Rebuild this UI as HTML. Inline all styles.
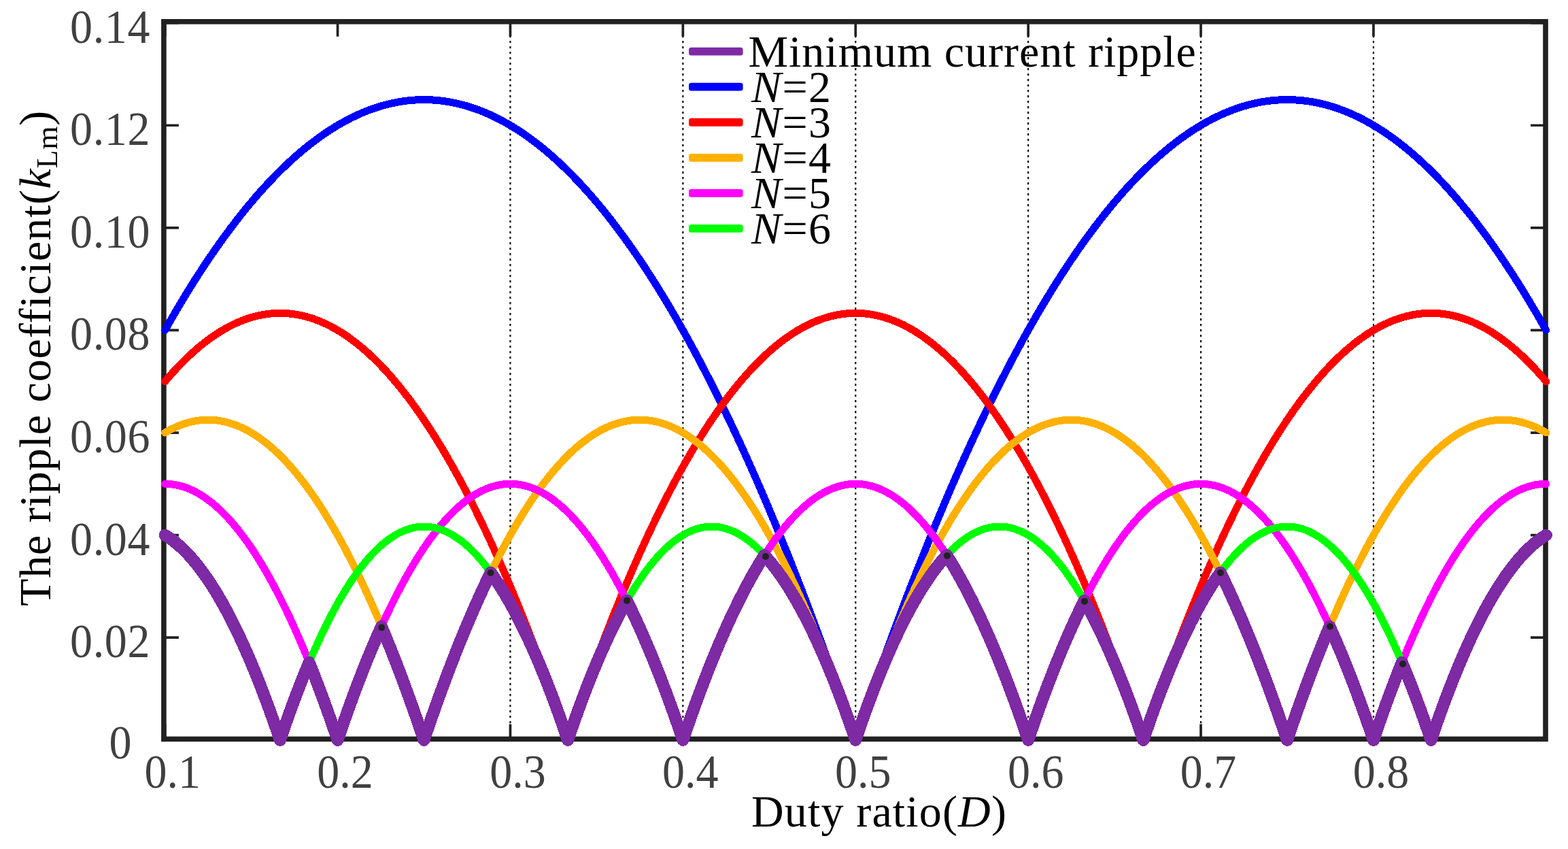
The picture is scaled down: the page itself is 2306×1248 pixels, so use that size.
<!DOCTYPE html><html><head><meta charset="utf-8"><style>html,body{margin:0;padding:0;background:#fff;}svg{display:block;}text{font-family:"Liberation Serif","Times New Roman",serif;}</style></head><body>
<svg width="2306" height="1248" viewBox="0 0 2306 1248">
<rect width="2306" height="1248" fill="#fff"/>
<line x1="750.45" y1="36" x2="750.45" y2="1083" stroke="#111" stroke-width="2.2" stroke-dasharray="3.2 4.8"/>
<line x1="1004.35" y1="36" x2="1004.35" y2="1083" stroke="#111" stroke-width="2.2" stroke-dasharray="3.2 4.8"/>
<line x1="1258.25" y1="36" x2="1258.25" y2="1083" stroke="#111" stroke-width="2.2" stroke-dasharray="3.2 4.8"/>
<line x1="1512.15" y1="36" x2="1512.15" y2="1083" stroke="#111" stroke-width="2.2" stroke-dasharray="3.2 4.8"/>
<line x1="1766.05" y1="36" x2="1766.05" y2="1083" stroke="#111" stroke-width="2.2" stroke-dasharray="3.2 4.8"/>
<line x1="2019.95" y1="36" x2="2019.95" y2="1083" stroke="#111" stroke-width="2.2" stroke-dasharray="3.2 4.8"/>
<rect x="240.9" y="31.8" width="2032.1" height="1054.6" fill="none" stroke="#212121" stroke-width="7.6"/>
<path d="M240.9,1087.8 H262.9 M2273,1087.8 H2251 M240.9,937.21 H262.9 M2273,937.21 H2251 M240.9,786.62 H262.9 M2273,786.62 H2251 M240.9,636.03 H262.9 M2273,636.03 H2251 M240.9,485.44 H262.9 M2273,485.44 H2251 M240.9,334.85 H262.9 M2273,334.85 H2251 M240.9,184.26 H262.9 M2273,184.26 H2251 M240.9,33.67 H262.9 M2273,33.67 H2251 M242.65,1086.4 V1064.4 M242.65,31.8 V53.8 M496.55,1086.4 V1064.4 M496.55,31.8 V53.8 M750.45,1086.4 V1064.4 M750.45,31.8 V53.8 M1004.35,1086.4 V1064.4 M1004.35,31.8 V53.8 M1258.25,1086.4 V1064.4 M1258.25,31.8 V53.8 M1512.15,1086.4 V1064.4 M1512.15,31.8 V53.8 M1766.05,1086.4 V1064.4 M1766.05,31.8 V53.8 M2019.95,1086.4 V1064.4 M2019.95,31.8 V53.8 M2273.85,1086.4 V1064.4 M2273.85,31.8 V53.8" stroke="#212121" stroke-width="3.7" fill="none"/>
<path d="M242.65,485.44 L243.92,483.18 L245.19,480.94 L246.46,478.7 L247.73,476.46 L249,474.24 L250.27,472.02 L251.54,469.81 L252.81,467.61 L254.08,465.42 L255.35,463.23 L256.61,461.05 L257.88,458.88 L259.15,456.71 L260.42,454.55 L261.69,452.4 L262.96,450.26 L264.23,448.13 L265.5,446 L266.77,443.88 L268.04,441.77 L269.31,439.66 L270.58,437.57 L271.85,435.48 L273.12,433.4 L274.39,431.32 L275.66,429.25 L276.93,427.2 L278.2,425.14 L279.47,423.1 L280.74,421.06 L282,419.03 L283.27,417.01 L284.54,415 L285.81,412.99 L287.08,410.99 L288.35,409 L289.62,407.02 L290.89,405.04 L292.16,403.07 L293.43,401.11 L294.7,399.16 L295.97,397.21 L297.24,395.27 L298.51,393.34 L299.78,391.42 L301.05,389.5 L302.32,387.59 L303.59,385.69 L304.86,383.8 L306.13,381.91 L307.39,380.03 L308.66,378.16 L309.93,376.3 L311.2,374.44 L312.47,372.59 L313.74,370.75 L315.01,368.92 L316.28,367.09 L317.55,365.27 L318.82,363.46 L320.09,361.66 L321.36,359.86 L322.63,358.07 L323.9,356.29 L325.17,354.52 L326.44,352.76 L327.71,351 L328.98,349.25 L330.25,347.5 L331.52,345.77 L332.78,344.04 L334.05,342.32 L335.32,340.61 L336.59,338.9 L337.86,337.2 L339.13,335.51 L340.4,333.83 L341.67,332.15 L342.94,330.49 L344.21,328.83 L345.48,327.17 L346.75,325.53 L348.02,323.89 L349.29,322.26 L350.56,320.64 L351.83,319.02 L353.1,317.42 L354.37,315.82 L355.64,314.22 L356.91,312.64 L358.17,311.06 L359.44,309.49 L360.71,307.93 L361.98,306.37 L363.25,304.83 L364.52,303.29 L365.79,301.75 L367.06,300.23 L368.33,298.71 L369.6,297.2 L370.87,295.7 L372.14,294.21 L373.41,292.72 L374.68,291.24 L375.95,289.77 L377.22,288.3 L378.49,286.85 L379.76,285.4 L381.03,283.95 L382.3,282.52 L383.56,281.09 L384.83,279.67 L386.1,278.26 L387.37,276.86 L388.64,275.46 L389.91,274.07 L391.18,272.69 L392.45,271.32 L393.72,269.95 L394.99,268.59 L396.26,267.24 L397.53,265.89 L398.8,264.56 L400.07,263.23 L401.34,261.91 L402.61,260.59 L403.88,259.29 L405.15,257.99 L406.42,256.7 L407.69,255.41 L408.95,254.14 L410.22,252.87 L411.49,251.61 L411.92,251.19 L412.76,250.35 L414.03,249.11 L415.3,247.87 L416.57,246.64 L417.84,245.41 L419.11,244.2 L420.38,242.99 L421.65,241.79 L422.92,240.6 L424.19,239.41 L425.46,238.23 L426.73,237.06 L428,235.9 L429.27,234.74 L430.54,233.59 L431.81,232.45 L433.08,231.32 L434.34,230.19 L435.61,229.08 L436.88,227.96 L438.15,226.86 L439.42,225.77 L440.69,224.68 L441.96,223.6 L443.23,222.52 L444.5,221.46 L445.77,220.4 L447.04,219.35 L448.31,218.31 L449.58,217.27 L450.85,216.25 L452.12,215.23 L453.39,214.21 L454.66,213.21 L455.93,212.21 L457.2,211.22 L458.47,210.24 L459.73,209.26 L461,208.29 L462.27,207.33 L463.54,206.38 L464.81,205.44 L466.08,204.5 L467.35,203.57 L468.62,202.65 L469.89,201.73 L471.16,200.82 L472.43,199.93 L473.7,199.03 L474.97,198.15 L476.24,197.27 L477.51,196.4 L478.78,195.54 L480.05,194.68 L481.32,193.84 L482.59,193 L483.86,192.17 L485.12,191.34 L486.39,190.52 L487.66,189.72 L488.93,188.91 L490.2,188.12 L491.47,187.33 L492.74,186.55 L494.01,185.78 L495.28,185.02 L496.55,184.26 L497.82,183.51 L499.09,182.77 L500.36,182.04 L501.63,181.31 L502.9,180.59 L504.17,179.88 L505.44,179.17 L506.71,178.48 L507.98,177.79 L509.25,177.11 L510.51,176.43 L511.78,175.77 L513.05,175.11 L514.32,174.46 L515.59,173.81 L516.86,173.18 L518.13,172.55 L519.4,171.93 L520.67,171.31 L521.94,170.71 L523.21,170.11 L524.48,169.52 L525.75,168.93 L527.02,168.36 L528.29,167.79 L529.56,167.23 L530.83,166.67 L532.1,166.13 L533.37,165.59 L534.64,165.06 L535.9,164.54 L537.17,164.02 L538.44,163.51 L539.71,163.01 L540.98,162.52 L542.25,162.03 L543.52,161.55 L544.79,161.08 L546.06,160.62 L547.33,160.17 L548.6,159.72 L549.87,159.28 L551.14,158.84 L552.41,158.42 L553.68,158 L554.95,157.59 L556.22,157.19 L557.49,156.79 L558.76,156.4 L560.03,156.02 L561.29,155.65 L562.56,155.29 L563.83,154.93 L565.1,154.58 L566.37,154.24 L567.64,153.9 L568.91,153.57 L570.18,153.25 L571.45,152.94 L572.72,152.64 L573.99,152.34 L575.26,152.05 L576.53,151.77 L577.8,151.49 L579.07,151.22 L580.34,150.96 L581.61,150.71 L582.88,150.47 L584.15,150.23 L585.42,150 L586.68,149.78 L587.95,149.56 L589.22,149.36 L590.49,149.16 L591.76,148.97 L593.03,148.78 L594.3,148.6 L595.57,148.43 L596.84,148.27 L598.11,148.12 L599.38,147.97 L600.65,147.83 L601.92,147.7 L603.19,147.58 L604.46,147.46 L605.73,147.35 L607,147.25 L608.27,147.15 L609.54,147.07 L610.81,146.99 L612.07,146.92 L613.34,146.85 L614.61,146.8 L615.88,146.75 L617.15,146.71 L618.42,146.67 L619.69,146.65 L620.96,146.63 L622.23,146.62 L623.5,146.61 L624.77,146.62 L626.04,146.63 L627.31,146.65 L628.58,146.67 L629.85,146.71 L631.12,146.75 L632.39,146.8 L633.66,146.85 L634.93,146.92 L636.2,146.99 L637.46,147.07 L638.73,147.15 L640,147.25 L641.27,147.35 L642.54,147.46 L643.81,147.58 L645.08,147.7 L646.35,147.83 L647.62,147.97 L648.89,148.12 L650.16,148.27 L651.43,148.43 L652.7,148.6 L653.97,148.78 L655.24,148.97 L656.51,149.16 L657.78,149.36 L659.05,149.56 L660.32,149.78 L661.59,150 L662.85,150.23 L664.12,150.47 L665.39,150.71 L666.66,150.96 L667.93,151.22 L669.2,151.49 L670.47,151.77 L671.74,152.05 L673.01,152.34 L674.28,152.64 L675.55,152.94 L676.82,153.25 L678.09,153.57 L679.36,153.9 L680.63,154.24 L681.9,154.58 L683.17,154.93 L684.44,155.29 L685.71,155.65 L686.98,156.02 L688.24,156.4 L689.51,156.79 L690.78,157.19 L692.05,157.59 L693.32,158 L694.59,158.42 L695.86,158.84 L697.13,159.28 L698.4,159.72 L699.67,160.17 L700.94,160.62 L702.21,161.08 L703.48,161.55 L704.75,162.03 L706.02,162.52 L707.29,163.01 L708.56,163.51 L709.83,164.02 L711.1,164.54 L712.37,165.06 L713.63,165.59 L714.9,166.13 L716.17,166.67 L717.44,167.23 L718.71,167.79 L719.98,168.36 L721.25,168.93 L722.52,169.52 L723.79,170.11 L725.06,170.71 L726.33,171.31 L727.6,171.93 L728.87,172.55 L730.14,173.18 L731.41,173.81 L732.68,174.46 L733.95,175.11 L735.22,175.77 L736.49,176.43 L737.75,177.11 L739.02,177.79 L740.29,178.48 L741.56,179.17 L742.83,179.88 L744.1,180.59 L745.37,181.31 L746.64,182.04 L747.91,182.77 L749.18,183.51 L750.45,184.26 L751.72,185.02 L752.99,185.78 L754.26,186.55 L755.53,187.33 L756.8,188.12 L758.07,188.91 L759.34,189.72 L760.61,190.52 L761.88,191.34 L763.15,192.17 L764.41,193 L765.68,193.84 L766.95,194.68 L768.22,195.54 L769.49,196.4 L770.76,197.27 L772.03,198.15 L773.3,199.03 L774.57,199.93 L775.84,200.82 L777.11,201.73 L778.38,202.65 L779.65,203.57 L780.92,204.5 L782.19,205.44 L783.46,206.38 L784.73,207.33 L786,208.29 L787.27,209.26 L788.54,210.24 L789.8,211.22 L791.07,212.21 L792.34,213.21 L793.61,214.21 L794.88,215.23 L796.15,216.25 L797.42,217.27 L798.69,218.31 L799.96,219.35 L801.23,220.4 L802.5,221.46 L803.77,222.52 L805.04,223.6 L806.31,224.68 L807.58,225.77 L808.85,226.86 L810.12,227.96 L811.39,229.08 L812.66,230.19 L813.93,231.32 L815.19,232.45 L816.46,233.59 L817.73,234.74 L819,235.9 L820.27,237.06 L821.54,238.23 L822.81,239.41 L824.08,240.6 L825.35,241.79 L826.62,242.99 L827.89,244.2 L829.16,245.41 L830.43,246.64 L831.7,247.87 L832.97,249.11 L834.24,250.35 L835.08,251.19 L835.51,251.61 L836.78,252.87 L838.05,254.14 L839.32,255.41 L840.58,256.7 L841.85,257.99 L843.12,259.29 L844.39,260.59 L845.66,261.91 L846.93,263.23 L848.2,264.56 L849.47,265.89 L850.74,267.24 L852.01,268.59 L853.28,269.95 L854.55,271.32 L855.82,272.69 L857.09,274.07 L858.36,275.46 L859.63,276.86 L860.9,278.26 L862.17,279.67 L863.44,281.09 L864.71,282.52 L865.97,283.95 L867.24,285.4 L868.51,286.85 L869.78,288.3 L871.05,289.77 L872.32,291.24 L873.59,292.72 L874.86,294.21 L876.13,295.7 L877.4,297.2 L878.67,298.71 L879.94,300.23 L881.21,301.75 L882.48,303.29 L883.75,304.83 L885.02,306.37 L886.29,307.93 L887.56,309.49 L888.83,311.06 L890.1,312.64 L891.36,314.22 L892.63,315.82 L893.9,317.42 L895.17,319.02 L896.44,320.64 L897.71,322.26 L898.98,323.89 L900.25,325.53 L901.52,327.17 L902.79,328.83 L904.06,330.49 L905.33,332.15 L906.6,333.83 L907.87,335.51 L909.14,337.2 L910.41,338.9 L911.68,340.61 L912.95,342.32 L914.22,344.04 L915.49,345.77 L916.75,347.5 L918.02,349.25 L919.29,351 L920.56,352.76 L921.83,354.52 L923.1,356.29 L924.37,358.07 L925.64,359.86 L926.91,361.66 L928.18,363.46 L929.45,365.27 L930.72,367.09 L931.99,368.92 L933.26,370.75 L934.53,372.59 L935.8,374.44 L937.07,376.3 L938.34,378.16 L939.61,380.03 L940.88,381.91 L942.14,383.8 L943.41,385.69 L944.68,387.59 L945.95,389.5 L947.22,391.42 L948.49,393.34 L949.76,395.27 L951.03,397.21 L952.3,399.16 L953.57,401.11 L954.84,403.07 L956.11,405.04 L957.38,407.02 L958.65,409 L959.92,410.99 L961.19,412.99 L962.46,415 L963.73,417.01 L965,419.03 L966.27,421.06 L967.53,423.1 L968.8,425.14 L970.07,427.2 L971.34,429.25 L972.61,431.32 L973.88,433.4 L975.15,435.48 L976.42,437.57 L977.69,439.66 L978.96,441.77 L980.23,443.88 L981.5,446 L982.77,448.13 L984.04,450.26 L985.31,452.4 L986.58,454.55 L987.85,456.71 L989.12,458.88 L990.39,461.05 L991.66,463.23 L992.92,465.42 L994.19,467.61 L995.46,469.81 L996.73,472.02 L998,474.24 L999.27,476.46 L1000.54,478.7 L1001.81,480.94 L1003.08,483.18 L1004.35,485.44 L1005.62,487.7 L1006.89,489.97 L1008.16,492.25 L1009.43,494.54 L1010.7,496.83 L1011.97,499.13 L1013.24,501.44 L1014.51,503.75 L1015.78,506.07 L1017.05,508.4 L1018.31,510.74 L1019.58,513.09 L1020.85,515.44 L1022.12,517.8 L1023.39,520.17 L1024.66,522.55 L1025.93,524.93 L1027.2,527.32 L1028.47,529.72 L1029.74,532.12 L1031.01,534.54 L1032.28,536.96 L1033.55,539.39 L1034.82,541.82 L1036.09,544.26 L1037.36,546.72 L1038.63,549.17 L1039.9,551.64 L1041.17,554.11 L1042.43,556.59 L1043.7,559.08 L1044.97,561.58 L1046.24,564.08 L1047.51,566.59 L1048.78,569.11 L1050.05,571.64 L1051.32,574.17 L1052.59,576.71 L1053.86,579.26 L1055.13,581.82 L1056.4,584.38 L1057.67,586.95 L1058.94,589.53 L1060.21,592.12 L1061.48,594.71 L1062.75,597.31 L1064.02,599.92 L1065.29,602.54 L1066.56,605.16 L1067.83,607.79 L1069.09,610.43 L1070.36,613.08 L1071.63,615.73 L1072.9,618.4 L1074.17,621.07 L1075.44,623.74 L1076.71,626.43 L1077.98,629.12 L1079.25,631.82 L1080.52,634.52 L1081.79,637.24 L1083.06,639.96 L1084.33,642.69 L1085.6,645.43 L1086.87,648.17 L1088.14,650.92 L1089.41,653.68 L1090.68,656.45 L1091.95,659.22 L1093.22,662.01 L1094.48,664.8 L1095.75,667.59 L1097.02,670.4 L1098.29,673.21 L1099.56,676.03 L1100.83,678.86 L1102.1,681.69 L1103.37,684.54 L1104.64,687.38 L1105.91,690.24 L1107.18,693.11 L1108.45,695.98 L1109.72,698.86 L1110.99,701.75 L1112.26,704.64 L1113.53,707.55 L1114.8,710.46 L1116.07,713.37 L1117.34,716.3 L1118.61,719.23 L1119.87,722.17 L1121.14,725.12 L1122.41,728.07 L1123.68,731.04 L1124.95,734.01 L1126.22,736.99 L1127.49,739.97 L1128.76,742.96 L1130.03,745.96 L1131.3,748.97 L1132.57,751.99 L1133.84,755.01 L1135.11,758.04 L1136.38,761.08 L1137.65,764.13 L1138.92,767.18 L1140.19,770.24 L1141.46,773.31 L1142.73,776.38 L1144,779.47 L1145.26,782.56 L1146.53,785.66 L1147.8,788.76 L1149.07,791.88 L1150.34,795 L1151.61,798.13 L1152.88,801.26 L1154.15,804.4 L1155.42,807.56 L1156.69,810.71 L1157.96,813.88 L1159.23,817.05 L1160.5,820.24 L1161.77,823.42 L1163.04,826.62 L1164.31,829.82 L1165.58,833.04 L1166.85,836.25 L1168.12,839.48 L1169.39,842.71 L1170.65,845.96 L1171.92,849.21 L1173.19,852.46 L1174.46,855.73 L1175.73,859 L1177,862.28 L1178.27,865.56 L1179.54,868.86 L1180.81,872.16 L1182.08,875.47 L1183.35,878.78 L1184.62,882.11 L1185.89,885.44 L1187.16,888.78 L1188.43,892.13 L1189.7,895.48 L1190.97,898.84 L1192.24,902.21 L1193.51,905.59 L1194.78,908.97 L1196.04,912.37 L1197.31,915.77 L1198.58,919.17 L1199.85,922.59 L1201.12,926.01 L1202.39,929.44 L1203.66,932.88 L1204.93,936.32 L1206.2,939.77 L1207.47,943.23 L1208.74,946.7 L1210.01,950.18 L1211.28,953.66 L1212.55,957.15 L1213.82,960.65 L1215.09,964.15 L1216.36,967.66 L1217.63,971.18 L1218.9,974.71 L1220.16,978.25 L1221.43,981.79 L1222.7,985.34 L1223.97,988.9 L1225.24,992.46 L1226.51,996.03 L1227.78,999.61 L1229.05,1003.2 L1230.32,1006.8 L1231.59,1010.4 L1232.86,1014.01 L1234.13,1017.63 L1235.4,1021.25 L1236.67,1024.89 L1237.94,1028.53 L1239.21,1032.18 L1240.48,1035.83 L1241.75,1039.49 L1243.02,1043.17 L1244.29,1046.84 L1245.56,1050.53 L1246.82,1054.22 L1248.09,1057.92 L1249.36,1061.63 L1250.63,1065.35 L1251.9,1069.07 L1253.17,1072.8 L1254.44,1076.54 L1255.71,1080.29 L1256.98,1084.04 L1258.25,1087.8 L1259.52,1084.04 L1260.79,1080.29 L1262.06,1076.54 L1263.33,1072.8 L1264.6,1069.07 L1265.87,1065.35 L1267.14,1061.63 L1268.41,1057.92 L1269.68,1054.22 L1270.95,1050.53 L1272.21,1046.84 L1273.48,1043.17 L1274.75,1039.49 L1276.02,1035.83 L1277.29,1032.18 L1278.56,1028.53 L1279.83,1024.89 L1281.1,1021.25 L1282.37,1017.63 L1283.64,1014.01 L1284.91,1010.4 L1286.18,1006.8 L1287.45,1003.2 L1288.72,999.61 L1289.99,996.03 L1291.26,992.46 L1292.53,988.9 L1293.8,985.34 L1295.07,981.79 L1296.34,978.25 L1297.6,974.71 L1298.87,971.18 L1300.14,967.66 L1301.41,964.15 L1302.68,960.65 L1303.95,957.15 L1305.22,953.66 L1306.49,950.18 L1307.76,946.7 L1309.03,943.23 L1310.3,939.77 L1311.57,936.32 L1312.84,932.88 L1314.11,929.44 L1315.38,926.01 L1316.65,922.59 L1317.92,919.17 L1319.19,915.77 L1320.46,912.37 L1321.73,908.97 L1322.99,905.59 L1324.26,902.21 L1325.53,898.84 L1326.8,895.48 L1328.07,892.13 L1329.34,888.78 L1330.61,885.44 L1331.88,882.11 L1333.15,878.78 L1334.42,875.47 L1335.69,872.16 L1336.96,868.86 L1338.23,865.56 L1339.5,862.28 L1340.77,859 L1342.04,855.73 L1343.31,852.46 L1344.58,849.21 L1345.85,845.96 L1347.12,842.71 L1348.38,839.48 L1349.65,836.25 L1350.92,833.04 L1352.19,829.82 L1353.46,826.62 L1354.73,823.42 L1356,820.24 L1357.27,817.05 L1358.54,813.88 L1359.81,810.71 L1361.08,807.56 L1362.35,804.4 L1363.62,801.26 L1364.89,798.13 L1366.16,795 L1367.43,791.88 L1368.7,788.76 L1369.97,785.66 L1371.24,782.56 L1372.51,779.47 L1373.77,776.38 L1375.04,773.31 L1376.31,770.24 L1377.58,767.18 L1378.85,764.13 L1380.12,761.08 L1381.39,758.04 L1382.66,755.01 L1383.93,751.99 L1385.2,748.97 L1386.47,745.96 L1387.74,742.96 L1389.01,739.97 L1390.28,736.99 L1391.55,734.01 L1392.82,731.04 L1394.09,728.07 L1395.36,725.12 L1396.63,722.17 L1397.9,719.23 L1399.16,716.3 L1400.43,713.37 L1401.7,710.46 L1402.97,707.55 L1404.24,704.64 L1405.51,701.75 L1406.78,698.86 L1408.05,695.98 L1409.32,693.11 L1410.59,690.24 L1411.86,687.38 L1413.13,684.54 L1414.4,681.69 L1415.67,678.86 L1416.94,676.03 L1418.21,673.21 L1419.48,670.4 L1420.75,667.59 L1422.02,664.8 L1423.28,662.01 L1424.55,659.22 L1425.82,656.45 L1427.09,653.68 L1428.36,650.92 L1429.63,648.17 L1430.9,645.43 L1432.17,642.69 L1433.44,639.96 L1434.71,637.24 L1435.98,634.52 L1437.25,631.82 L1438.52,629.12 L1439.79,626.43 L1441.06,623.74 L1442.33,621.07 L1443.6,618.4 L1444.87,615.73 L1446.14,613.08 L1447.41,610.43 L1448.67,607.79 L1449.94,605.16 L1451.21,602.54 L1452.48,599.92 L1453.75,597.31 L1455.02,594.71 L1456.29,592.12 L1457.56,589.53 L1458.83,586.95 L1460.1,584.38 L1461.37,581.82 L1462.64,579.26 L1463.91,576.71 L1465.18,574.17 L1466.45,571.64 L1467.72,569.11 L1468.99,566.59 L1470.26,564.08 L1471.53,561.58 L1472.8,559.08 L1474.07,556.59 L1475.33,554.11 L1476.6,551.64 L1477.87,549.17 L1479.14,546.72 L1480.41,544.26 L1481.68,541.82 L1482.95,539.39 L1484.22,536.96 L1485.49,534.54 L1486.76,532.12 L1488.03,529.72 L1489.3,527.32 L1490.57,524.93 L1491.84,522.55 L1493.11,520.17 L1494.38,517.8 L1495.65,515.44 L1496.92,513.09 L1498.19,510.74 L1499.45,508.4 L1500.72,506.07 L1501.99,503.75 L1503.26,501.44 L1504.53,499.13 L1505.8,496.83 L1507.07,494.54 L1508.34,492.25 L1509.61,489.97 L1510.88,487.7 L1512.15,485.44 L1513.42,483.18 L1514.69,480.94 L1515.96,478.7 L1517.23,476.46 L1518.5,474.24 L1519.77,472.02 L1521.04,469.81 L1522.31,467.61 L1523.58,465.42 L1524.85,463.23 L1526.11,461.05 L1527.38,458.88 L1528.65,456.71 L1529.92,454.55 L1531.19,452.4 L1532.46,450.26 L1533.73,448.13 L1535,446 L1536.27,443.88 L1537.54,441.77 L1538.81,439.66 L1540.08,437.57 L1541.35,435.48 L1542.62,433.4 L1543.89,431.32 L1545.16,429.25 L1546.43,427.2 L1547.7,425.14 L1548.97,423.1 L1550.24,421.06 L1551.5,419.03 L1552.77,417.01 L1554.04,415 L1555.31,412.99 L1556.58,410.99 L1557.85,409 L1559.12,407.02 L1560.39,405.04 L1561.66,403.07 L1562.93,401.11 L1564.2,399.16 L1565.47,397.21 L1566.74,395.27 L1568.01,393.34 L1569.28,391.42 L1570.55,389.5 L1571.82,387.59 L1573.09,385.69 L1574.36,383.8 L1575.62,381.91 L1576.89,380.03 L1578.16,378.16 L1579.43,376.3 L1580.7,374.44 L1581.97,372.59 L1583.24,370.75 L1584.51,368.92 L1585.78,367.09 L1587.05,365.27 L1588.32,363.46 L1589.59,361.66 L1590.86,359.86 L1592.13,358.07 L1593.4,356.29 L1594.67,354.52 L1595.94,352.76 L1597.21,351 L1598.48,349.25 L1599.75,347.5 L1601.02,345.77 L1602.28,344.04 L1603.55,342.32 L1604.82,340.61 L1606.09,338.9 L1607.36,337.2 L1608.63,335.51 L1609.9,333.83 L1611.17,332.15 L1612.44,330.49 L1613.71,328.83 L1614.98,327.17 L1616.25,325.53 L1617.52,323.89 L1618.79,322.26 L1620.06,320.64 L1621.33,319.02 L1622.6,317.42 L1623.87,315.82 L1625.14,314.22 L1626.41,312.64 L1627.67,311.06 L1628.94,309.49 L1630.21,307.93 L1631.48,306.37 L1632.75,304.83 L1634.02,303.29 L1635.29,301.75 L1636.56,300.23 L1637.83,298.71 L1639.1,297.2 L1640.37,295.7 L1641.64,294.21 L1642.91,292.72 L1644.18,291.24 L1645.45,289.77 L1646.72,288.3 L1647.99,286.85 L1649.26,285.4 L1650.53,283.95 L1651.8,282.52 L1653.06,281.09 L1654.33,279.67 L1655.6,278.26 L1656.87,276.86 L1658.14,275.46 L1659.41,274.07 L1660.68,272.69 L1661.95,271.32 L1663.22,269.95 L1664.49,268.59 L1665.76,267.24 L1667.03,265.89 L1668.3,264.56 L1669.57,263.23 L1670.84,261.91 L1672.11,260.59 L1673.38,259.29 L1674.65,257.99 L1675.92,256.7 L1677.19,255.41 L1678.45,254.14 L1679.72,252.87 L1680.99,251.61 L1681.42,251.19 L1682.26,250.35 L1683.53,249.11 L1684.8,247.87 L1686.07,246.64 L1687.34,245.41 L1688.61,244.2 L1689.88,242.99 L1691.15,241.79 L1692.42,240.6 L1693.69,239.41 L1694.96,238.23 L1696.23,237.06 L1697.5,235.9 L1698.77,234.74 L1700.04,233.59 L1701.31,232.45 L1702.58,231.32 L1703.84,230.19 L1705.11,229.08 L1706.38,227.96 L1707.65,226.86 L1708.92,225.77 L1710.19,224.68 L1711.46,223.6 L1712.73,222.52 L1714,221.46 L1715.27,220.4 L1716.54,219.35 L1717.81,218.31 L1719.08,217.27 L1720.35,216.25 L1721.62,215.23 L1722.89,214.21 L1724.16,213.21 L1725.43,212.21 L1726.7,211.22 L1727.97,210.24 L1729.23,209.26 L1730.5,208.29 L1731.77,207.33 L1733.04,206.38 L1734.31,205.44 L1735.58,204.5 L1736.85,203.57 L1738.12,202.65 L1739.39,201.73 L1740.66,200.82 L1741.93,199.93 L1743.2,199.03 L1744.47,198.15 L1745.74,197.27 L1747.01,196.4 L1748.28,195.54 L1749.55,194.68 L1750.82,193.84 L1752.09,193 L1753.36,192.17 L1754.62,191.34 L1755.89,190.52 L1757.16,189.72 L1758.43,188.91 L1759.7,188.12 L1760.97,187.33 L1762.24,186.55 L1763.51,185.78 L1764.78,185.02 L1766.05,184.26 L1767.32,183.51 L1768.59,182.77 L1769.86,182.04 L1771.13,181.31 L1772.4,180.59 L1773.67,179.88 L1774.94,179.17 L1776.21,178.48 L1777.48,177.79 L1778.74,177.11 L1780.01,176.43 L1781.28,175.77 L1782.55,175.11 L1783.82,174.46 L1785.09,173.81 L1786.36,173.18 L1787.63,172.55 L1788.9,171.93 L1790.17,171.31 L1791.44,170.71 L1792.71,170.11 L1793.98,169.52 L1795.25,168.93 L1796.52,168.36 L1797.79,167.79 L1799.06,167.23 L1800.33,166.67 L1801.6,166.13 L1802.87,165.59 L1804.13,165.06 L1805.4,164.54 L1806.67,164.02 L1807.94,163.51 L1809.21,163.01 L1810.48,162.52 L1811.75,162.03 L1813.02,161.55 L1814.29,161.08 L1815.56,160.62 L1816.83,160.17 L1818.1,159.72 L1819.37,159.28 L1820.64,158.84 L1821.91,158.42 L1823.18,158 L1824.45,157.59 L1825.72,157.19 L1826.99,156.79 L1828.26,156.4 L1829.53,156.02 L1830.79,155.65 L1832.06,155.29 L1833.33,154.93 L1834.6,154.58 L1835.87,154.24 L1837.14,153.9 L1838.41,153.57 L1839.68,153.25 L1840.95,152.94 L1842.22,152.64 L1843.49,152.34 L1844.76,152.05 L1846.03,151.77 L1847.3,151.49 L1848.57,151.22 L1849.84,150.96 L1851.11,150.71 L1852.38,150.47 L1853.65,150.23 L1854.91,150 L1856.18,149.78 L1857.45,149.56 L1858.72,149.36 L1859.99,149.16 L1861.26,148.97 L1862.53,148.78 L1863.8,148.6 L1865.07,148.43 L1866.34,148.27 L1867.61,148.12 L1868.88,147.97 L1870.15,147.83 L1871.42,147.7 L1872.69,147.58 L1873.96,147.46 L1875.23,147.35 L1876.5,147.25 L1877.77,147.15 L1879.04,147.07 L1880.31,146.99 L1881.57,146.92 L1882.84,146.85 L1884.11,146.8 L1885.38,146.75 L1886.65,146.71 L1887.92,146.67 L1889.19,146.65 L1890.46,146.63 L1891.73,146.62 L1893,146.61 L1894.27,146.62 L1895.54,146.63 L1896.81,146.65 L1898.08,146.67 L1899.35,146.71 L1900.62,146.75 L1901.89,146.8 L1903.16,146.85 L1904.43,146.92 L1905.7,146.99 L1906.96,147.07 L1908.23,147.15 L1909.5,147.25 L1910.77,147.35 L1912.04,147.46 L1913.31,147.58 L1914.58,147.7 L1915.85,147.83 L1917.12,147.97 L1918.39,148.12 L1919.66,148.27 L1920.93,148.43 L1922.2,148.6 L1923.47,148.78 L1924.74,148.97 L1926.01,149.16 L1927.28,149.36 L1928.55,149.56 L1929.82,149.78 L1931.09,150 L1932.35,150.23 L1933.62,150.47 L1934.89,150.71 L1936.16,150.96 L1937.43,151.22 L1938.7,151.49 L1939.97,151.77 L1941.24,152.05 L1942.51,152.34 L1943.78,152.64 L1945.05,152.94 L1946.32,153.25 L1947.59,153.57 L1948.86,153.9 L1950.13,154.24 L1951.4,154.58 L1952.67,154.93 L1953.94,155.29 L1955.21,155.65 L1956.48,156.02 L1957.74,156.4 L1959.01,156.79 L1960.28,157.19 L1961.55,157.59 L1962.82,158 L1964.09,158.42 L1965.36,158.84 L1966.63,159.28 L1967.9,159.72 L1969.17,160.17 L1970.44,160.62 L1971.71,161.08 L1972.98,161.55 L1974.25,162.03 L1975.52,162.52 L1976.79,163.01 L1978.06,163.51 L1979.33,164.02 L1980.6,164.54 L1981.87,165.06 L1983.13,165.59 L1984.4,166.13 L1985.67,166.67 L1986.94,167.23 L1988.21,167.79 L1989.48,168.36 L1990.75,168.93 L1992.02,169.52 L1993.29,170.11 L1994.56,170.71 L1995.83,171.31 L1997.1,171.93 L1998.37,172.55 L1999.64,173.18 L2000.91,173.81 L2002.18,174.46 L2003.45,175.11 L2004.72,175.77 L2005.99,176.43 L2007.26,177.11 L2008.52,177.79 L2009.79,178.48 L2011.06,179.17 L2012.33,179.88 L2013.6,180.59 L2014.87,181.31 L2016.14,182.04 L2017.41,182.77 L2018.68,183.51 L2019.95,184.26 L2021.22,185.02 L2022.49,185.78 L2023.76,186.55 L2025.03,187.33 L2026.3,188.12 L2027.57,188.91 L2028.84,189.72 L2030.11,190.52 L2031.38,191.34 L2032.65,192.17 L2033.91,193 L2035.18,193.84 L2036.45,194.68 L2037.72,195.54 L2038.99,196.4 L2040.26,197.27 L2041.53,198.15 L2042.8,199.03 L2044.07,199.93 L2045.34,200.82 L2046.61,201.73 L2047.88,202.65 L2049.15,203.57 L2050.42,204.5 L2051.69,205.44 L2052.96,206.38 L2054.23,207.33 L2055.5,208.29 L2056.77,209.26 L2058.03,210.24 L2059.3,211.22 L2060.57,212.21 L2061.84,213.21 L2063.11,214.21 L2064.38,215.23 L2065.65,216.25 L2066.92,217.27 L2068.19,218.31 L2069.46,219.35 L2070.73,220.4 L2072,221.46 L2073.27,222.52 L2074.54,223.6 L2075.81,224.68 L2077.08,225.77 L2078.35,226.86 L2079.62,227.96 L2080.89,229.08 L2082.16,230.19 L2083.42,231.32 L2084.69,232.45 L2085.96,233.59 L2087.23,234.74 L2088.5,235.9 L2089.77,237.06 L2091.04,238.23 L2092.31,239.41 L2093.58,240.6 L2094.85,241.79 L2096.12,242.99 L2097.39,244.2 L2098.66,245.41 L2099.93,246.64 L2101.2,247.87 L2102.47,249.11 L2103.74,250.35 L2104.58,251.19 L2105.01,251.61 L2106.28,252.87 L2107.55,254.14 L2108.81,255.41 L2110.08,256.7 L2111.35,257.99 L2112.62,259.29 L2113.89,260.59 L2115.16,261.91 L2116.43,263.23 L2117.7,264.56 L2118.97,265.89 L2120.24,267.24 L2121.51,268.59 L2122.78,269.95 L2124.05,271.32 L2125.32,272.69 L2126.59,274.07 L2127.86,275.46 L2129.13,276.86 L2130.4,278.26 L2131.67,279.67 L2132.94,281.09 L2134.2,282.52 L2135.47,283.95 L2136.74,285.4 L2138.01,286.85 L2139.28,288.3 L2140.55,289.77 L2141.82,291.24 L2143.09,292.72 L2144.36,294.21 L2145.63,295.7 L2146.9,297.2 L2148.17,298.71 L2149.44,300.23 L2150.71,301.75 L2151.98,303.29 L2153.25,304.83 L2154.52,306.37 L2155.79,307.93 L2157.06,309.49 L2158.33,311.06 L2159.59,312.64 L2160.86,314.22 L2162.13,315.82 L2163.4,317.42 L2164.67,319.02 L2165.94,320.64 L2167.21,322.26 L2168.48,323.89 L2169.75,325.53 L2171.02,327.17 L2172.29,328.83 L2173.56,330.49 L2174.83,332.15 L2176.1,333.83 L2177.37,335.51 L2178.64,337.2 L2179.91,338.9 L2181.18,340.61 L2182.45,342.32 L2183.72,344.04 L2184.98,345.77 L2186.25,347.5 L2187.52,349.25 L2188.79,351 L2190.06,352.76 L2191.33,354.52 L2192.6,356.29 L2193.87,358.07 L2195.14,359.86 L2196.41,361.66 L2197.68,363.46 L2198.95,365.27 L2200.22,367.09 L2201.49,368.92 L2202.76,370.75 L2204.03,372.59 L2205.3,374.44 L2206.57,376.3 L2207.84,378.16 L2209.11,380.03 L2210.38,381.91 L2211.64,383.8 L2212.91,385.69 L2214.18,387.59 L2215.45,389.5 L2216.72,391.42 L2217.99,393.34 L2219.26,395.27 L2220.53,397.21 L2221.8,399.16 L2223.07,401.11 L2224.34,403.07 L2225.61,405.04 L2226.88,407.02 L2228.15,409 L2229.42,410.99 L2230.69,412.99 L2231.96,415 L2233.23,417.01 L2234.5,419.03 L2235.76,421.06 L2237.03,423.1 L2238.3,425.14 L2239.57,427.2 L2240.84,429.25 L2242.11,431.32 L2243.38,433.4 L2244.65,435.48 L2245.92,437.57 L2247.19,439.66 L2248.46,441.77 L2249.73,443.88 L2251,446 L2252.27,448.13 L2253.54,450.26 L2254.81,452.4 L2256.08,454.55 L2257.35,456.71 L2258.62,458.88 L2259.89,461.05 L2261.15,463.23 L2262.42,465.42 L2263.69,467.61 L2264.96,469.81 L2266.23,472.02 L2267.5,474.24 L2268.77,476.46 L2270.04,478.7 L2271.31,480.94 L2272.58,483.18 L2273.85,485.44" stroke="#0000FF" stroke-width="11" fill="none" stroke-linejoin="round" stroke-linecap="round" shape-rendering="crispEdges"/>
<path d="M242.65,560.73 L243.92,559.23 L245.19,557.75 L246.46,556.27 L247.73,554.8 L249,553.35 L250.27,551.9 L251.54,550.47 L252.81,549.05 L254.08,547.64 L255.35,546.24 L256.61,544.85 L257.88,543.48 L259.15,542.11 L260.42,540.76 L261.69,539.42 L262.96,538.09 L264.23,536.77 L265.5,535.46 L266.77,534.16 L268.04,532.88 L269.31,531.6 L270.58,530.34 L271.85,529.09 L273.12,527.85 L274.39,526.62 L275.66,525.4 L276.93,524.19 L278.2,523 L279.47,521.81 L280.74,520.64 L282,519.48 L283.27,518.33 L284.54,517.19 L285.81,516.06 L287.08,514.95 L288.35,513.84 L289.62,512.75 L290.89,511.67 L292.16,510.59 L293.43,509.53 L294.7,508.49 L295.97,507.45 L297.24,506.42 L298.51,505.41 L299.78,504.4 L301.05,503.41 L302.32,502.43 L303.59,501.46 L304.86,500.5 L306.13,499.56 L307.39,498.62 L308.66,497.7 L309.93,496.79 L311.2,495.88 L312.47,494.99 L313.74,494.11 L315.01,493.25 L316.28,492.39 L317.55,491.54 L318.82,490.71 L320.09,489.89 L321.36,489.08 L322.63,488.28 L323.9,487.49 L325.17,486.71 L326.44,485.94 L327.71,485.19 L328.98,484.45 L330.25,483.71 L331.52,482.99 L332.78,482.28 L334.05,481.58 L335.32,480.9 L336.59,480.22 L337.86,479.56 L339.13,478.9 L340.4,478.26 L341.67,477.63 L342.94,477.01 L344.21,476.4 L345.48,475.81 L346.75,475.22 L348.02,474.65 L349.29,474.09 L350.56,473.53 L351.83,472.99 L353.1,472.46 L354.37,471.95 L355.64,471.44 L356.91,470.95 L358.17,470.46 L359.44,469.99 L360.71,469.53 L361.98,469.08 L363.25,468.64 L364.52,468.21 L365.79,467.8 L367.06,467.39 L368.33,467 L369.6,466.62 L370.87,466.25 L372.14,465.89 L373.41,465.54 L374.68,465.2 L375.95,464.88 L377.22,464.56 L378.49,464.26 L379.76,463.97 L381.03,463.69 L382.3,463.42 L383.56,463.16 L384.83,462.91 L386.1,462.68 L387.37,462.45 L388.64,462.24 L389.91,462.04 L391.18,461.85 L392.45,461.67 L393.72,461.5 L394.99,461.35 L396.26,461.2 L397.53,461.07 L398.8,460.94 L400.07,460.83 L401.34,460.73 L402.61,460.65 L403.88,460.57 L405.15,460.5 L406.42,460.45 L407.69,460.4 L408.95,460.37 L410.22,460.35 L411.49,460.34 L411.92,460.34 L411.92,460.34 L412.76,460.34 L414.03,460.36 L415.3,460.38 L416.57,460.42 L417.84,460.46 L419.11,460.52 L420.38,460.59 L421.65,460.67 L422.92,460.77 L424.19,460.87 L425.46,460.98 L426.73,461.11 L428,461.25 L429.27,461.4 L430.54,461.56 L431.81,461.73 L433.08,461.91 L434.34,462.1 L435.61,462.31 L436.88,462.53 L438.15,462.75 L439.42,462.99 L440.69,463.24 L441.96,463.5 L443.23,463.78 L444.5,464.06 L445.77,464.36 L447.04,464.66 L448.31,464.98 L449.58,465.31 L450.85,465.65 L452.12,466 L453.39,466.37 L454.66,466.74 L455.93,467.13 L457.2,467.53 L458.47,467.93 L459.73,468.35 L461,468.78 L462.27,469.23 L463.54,469.68 L464.81,470.15 L466.08,470.62 L467.35,471.11 L468.62,471.61 L469.89,472.12 L471.16,472.64 L472.43,473.17 L473.7,473.72 L474.97,474.27 L476.24,474.84 L477.51,475.42 L478.78,476.01 L480.05,476.61 L481.32,477.22 L482.59,477.84 L483.86,478.48 L485.12,479.12 L486.39,479.78 L487.66,480.45 L488.93,481.13 L490.2,481.82 L491.47,482.52 L492.74,483.23 L494.01,483.96 L495.28,484.69 L496.55,485.44 L497.82,486.2 L499.09,486.97 L500.36,487.75 L501.63,488.54 L502.9,489.35 L504.17,490.16 L505.44,490.99 L506.71,491.83 L507.98,492.67 L509.25,493.53 L510.51,494.41 L511.78,495.29 L513.05,496.18 L514.32,497.09 L515.59,498 L516.86,498.93 L518.13,499.87 L519.4,500.82 L520.67,501.78 L521.94,502.76 L523.21,503.74 L524.48,504.74 L525.75,505.75 L527.02,506.76 L528.29,507.79 L529.56,508.83 L530.83,509.89 L532.1,510.95 L533.37,512.02 L534.64,513.11 L535.9,514.21 L537.17,515.32 L538.44,516.44 L539.71,517.57 L540.98,518.71 L542.25,519.86 L543.52,521.03 L544.79,522.21 L546.06,523.39 L547.33,524.59 L548.6,525.8 L549.87,527.03 L551.14,528.26 L552.41,529.5 L553.68,530.76 L554.95,532.03 L556.22,533.3 L557.49,534.59 L558.76,535.89 L560.03,537.21 L561.29,538.53 L562.56,539.86 L563.83,541.21 L565.1,542.57 L566.37,543.93 L567.64,545.31 L568.91,546.71 L570.18,548.11 L571.45,549.52 L572.72,550.95 L573.99,552.38 L575.26,553.83 L576.53,555.29 L577.8,556.76 L579.07,558.24 L580.34,559.73 L581.61,561.24 L582.88,562.75 L584.15,564.28 L585.42,565.82 L586.68,567.37 L587.95,568.93 L589.22,570.5 L590.49,572.08 L591.76,573.68 L593.03,575.28 L594.3,576.9 L595.57,578.53 L596.84,580.17 L598.11,581.82 L599.38,583.48 L600.65,585.15 L601.92,586.84 L603.19,588.53 L604.46,590.24 L605.73,591.96 L607,593.69 L608.27,595.43 L609.54,597.18 L610.81,598.95 L612.07,600.72 L613.34,602.51 L614.61,604.31 L615.88,606.12 L617.15,607.94 L618.42,609.77 L619.69,611.61 L620.96,613.46 L622.23,615.33 L623.5,617.21 L624.77,619.09 L626.04,620.99 L627.31,622.9 L628.58,624.83 L629.85,626.76 L631.12,628.7 L632.39,630.66 L633.66,632.63 L634.93,634.61 L636.2,636.59 L637.46,638.6 L638.73,640.61 L640,642.63 L641.27,644.67 L642.54,646.71 L643.81,648.77 L645.08,650.84 L646.35,652.92 L647.62,655.01 L648.89,657.11 L650.16,659.23 L651.43,661.35 L652.7,663.49 L653.97,665.64 L655.24,667.8 L656.51,669.97 L657.78,672.15 L659.05,674.34 L660.32,676.54 L661.59,678.76 L662.85,680.99 L664.12,683.22 L665.39,685.47 L666.66,687.74 L667.93,690.01 L669.2,692.29 L670.47,694.59 L671.74,696.89 L673.01,699.21 L674.28,701.54 L675.55,703.88 L676.82,706.23 L678.09,708.59 L679.36,710.96 L680.63,713.35 L681.9,715.74 L683.17,718.15 L684.44,720.57 L685.71,723 L686.98,725.44 L688.24,727.9 L689.51,730.36 L690.78,732.83 L692.05,735.32 L693.32,737.82 L694.59,740.33 L695.86,742.85 L697.13,745.38 L698.4,747.92 L699.67,750.48 L700.94,753.04 L702.21,755.62 L703.48,758.21 L704.75,760.81 L706.02,763.42 L707.29,766.04 L708.56,768.68 L709.83,771.32 L711.1,773.98 L712.37,776.64 L713.63,779.32 L714.9,782.01 L716.17,784.71 L717.44,787.43 L718.71,790.15 L719.98,792.88 L721.25,795.63 L722.52,798.39 L723.79,801.16 L725.06,803.94 L726.33,806.73 L727.6,809.53 L728.87,812.35 L730.14,815.17 L731.41,818.01 L732.68,820.86 L733.95,823.72 L735.22,826.59 L736.49,829.47 L737.75,832.36 L739.02,835.27 L740.29,838.18 L741.56,841.11 L742.83,844.05 L744.1,847 L745.37,849.96 L746.64,852.93 L747.91,855.91 L749.18,858.91 L750.45,861.91 L751.72,864.93 L752.99,867.96 L754.26,871 L755.53,874.05 L756.8,877.12 L758.07,880.19 L759.34,883.27 L760.61,886.37 L761.88,889.48 L763.15,892.6 L764.41,895.73 L765.68,898.87 L766.95,902.02 L768.22,905.19 L769.49,908.36 L770.76,911.55 L772.03,914.75 L773.3,917.96 L774.57,921.18 L775.84,924.41 L777.11,927.65 L778.38,930.91 L779.65,934.17 L780.92,937.45 L782.19,940.74 L783.46,944.04 L784.73,947.35 L786,950.67 L787.27,954.01 L788.54,957.35 L789.8,960.71 L791.07,964.08 L792.34,967.45 L793.61,970.84 L794.88,974.25 L796.15,977.66 L797.42,981.08 L798.69,984.52 L799.96,987.96 L801.23,991.42 L802.5,994.89 L803.77,998.37 L805.04,1001.86 L806.31,1005.37 L807.58,1008.88 L808.85,1012.41 L810.12,1015.94 L811.39,1019.49 L812.66,1023.05 L813.93,1026.62 L815.19,1030.2 L816.46,1033.8 L817.73,1037.4 L819,1041.02 L820.27,1044.65 L821.54,1048.29 L822.81,1051.94 L824.08,1055.6 L825.35,1059.27 L826.62,1062.95 L827.89,1066.65 L829.16,1070.35 L830.43,1074.07 L831.7,1077.8 L832.97,1081.54 L834.24,1085.29 L835.08,1087.8 L835.51,1086.55 L836.78,1082.79 L838.05,1079.05 L839.32,1075.31 L840.58,1071.59 L841.85,1067.88 L843.12,1064.18 L844.39,1060.5 L845.66,1056.82 L846.93,1053.15 L848.2,1049.5 L849.47,1045.86 L850.74,1042.23 L852.01,1038.61 L853.28,1035 L854.55,1031.4 L855.82,1027.82 L857.09,1024.24 L858.36,1020.68 L859.63,1017.13 L860.9,1013.58 L862.17,1010.06 L863.44,1006.54 L864.71,1003.03 L865.97,999.53 L867.24,996.05 L868.51,992.58 L869.78,989.12 L871.05,985.67 L872.32,982.23 L873.59,978.8 L874.86,975.38 L876.13,971.98 L877.4,968.58 L878.67,965.2 L879.94,961.83 L881.21,958.47 L882.48,955.12 L883.75,951.78 L885.02,948.46 L886.29,945.14 L887.56,941.84 L888.83,938.55 L890.1,935.26 L891.36,932 L892.63,928.74 L893.9,925.49 L895.17,922.25 L896.44,919.03 L897.71,915.82 L898.98,912.61 L900.25,909.42 L901.52,906.24 L902.79,903.08 L904.06,899.92 L905.33,896.77 L906.6,893.64 L907.87,890.52 L909.14,887.41 L910.41,884.31 L911.68,881.22 L912.95,878.14 L914.22,875.07 L915.49,872.02 L916.75,868.97 L918.02,865.94 L919.29,862.92 L920.56,859.91 L921.83,856.91 L923.1,853.92 L924.37,850.95 L925.64,847.98 L926.91,845.03 L928.18,842.09 L929.45,839.16 L930.72,836.24 L931.99,833.33 L933.26,830.43 L934.53,827.55 L935.8,824.67 L937.07,821.81 L938.34,818.96 L939.61,816.12 L940.88,813.29 L942.14,810.47 L943.41,807.66 L944.68,804.87 L945.95,802.08 L947.22,799.31 L948.49,796.55 L949.76,793.8 L951.03,791.06 L952.3,788.33 L953.57,785.62 L954.84,782.91 L956.11,780.22 L957.38,777.54 L958.65,774.86 L959.92,772.2 L961.19,769.56 L962.46,766.92 L963.73,764.29 L965,761.68 L966.27,759.07 L967.53,756.48 L968.8,753.9 L970.07,751.33 L971.34,748.77 L972.61,746.23 L973.88,743.69 L975.15,741.17 L976.42,738.65 L977.69,736.15 L978.96,733.66 L980.23,731.18 L981.5,728.72 L982.77,726.26 L984.04,723.81 L985.31,721.38 L986.58,718.96 L987.85,716.55 L989.12,714.15 L990.39,711.76 L991.66,709.38 L992.92,707.01 L994.19,704.66 L995.46,702.32 L996.73,699.98 L998,697.66 L999.27,695.35 L1000.54,693.05 L1001.81,690.77 L1003.08,688.49 L1004.35,686.23 L1005.62,683.97 L1006.89,681.73 L1008.16,679.5 L1009.43,677.28 L1010.7,675.07 L1011.97,672.88 L1013.24,670.69 L1014.51,668.52 L1015.78,666.35 L1017.05,664.2 L1018.31,662.06 L1019.58,659.93 L1020.85,657.82 L1022.12,655.71 L1023.39,653.61 L1024.66,651.53 L1025.93,649.46 L1027.2,647.4 L1028.47,645.35 L1029.74,643.31 L1031.01,641.28 L1032.28,639.27 L1033.55,637.26 L1034.82,635.27 L1036.09,633.28 L1037.36,631.31 L1038.63,629.35 L1039.9,627.41 L1041.17,625.47 L1042.43,623.54 L1043.7,621.63 L1044.97,619.73 L1046.24,617.83 L1047.51,615.95 L1048.78,614.08 L1050.05,612.23 L1051.32,610.38 L1052.59,608.54 L1053.86,606.72 L1055.13,604.91 L1056.4,603.11 L1057.67,601.32 L1058.94,599.54 L1060.21,597.77 L1061.48,596.01 L1062.75,594.27 L1064.02,592.54 L1065.29,590.81 L1066.56,589.1 L1067.83,587.4 L1069.09,585.71 L1070.36,584.04 L1071.63,582.37 L1072.9,580.72 L1074.17,579.07 L1075.44,577.44 L1076.71,575.82 L1077.98,574.21 L1079.25,572.61 L1080.52,571.03 L1081.79,569.45 L1083.06,567.89 L1084.33,566.33 L1085.6,564.79 L1086.87,563.26 L1088.14,561.74 L1089.41,560.23 L1090.68,558.74 L1091.95,557.25 L1093.22,555.78 L1094.48,554.32 L1095.75,552.86 L1097.02,551.42 L1098.29,550 L1099.56,548.58 L1100.83,547.17 L1102.1,545.78 L1103.37,544.39 L1104.64,543.02 L1105.91,541.66 L1107.18,540.31 L1108.45,538.97 L1109.72,537.65 L1110.99,536.33 L1112.26,535.02 L1113.53,533.73 L1114.8,532.45 L1116.07,531.18 L1117.34,529.92 L1118.61,528.67 L1119.87,527.44 L1121.14,526.21 L1122.41,525 L1123.68,523.79 L1124.95,522.6 L1126.22,521.42 L1127.49,520.25 L1128.76,519.09 L1130.03,517.95 L1131.3,516.81 L1132.57,515.69 L1133.84,514.58 L1135.11,513.48 L1136.38,512.39 L1137.65,511.31 L1138.92,510.24 L1140.19,509.18 L1141.46,508.14 L1142.73,507.11 L1144,506.08 L1145.26,505.07 L1146.53,504.07 L1147.8,503.08 L1149.07,502.11 L1150.34,501.14 L1151.61,500.19 L1152.88,499.24 L1154.15,498.31 L1155.42,497.39 L1156.69,496.48 L1157.96,495.59 L1159.23,494.7 L1160.5,493.82 L1161.77,492.96 L1163.04,492.11 L1164.31,491.27 L1165.58,490.44 L1166.85,489.62 L1168.12,488.81 L1169.39,488.01 L1170.65,487.23 L1171.92,486.45 L1173.19,485.69 L1174.46,484.94 L1175.73,484.2 L1177,483.47 L1178.27,482.76 L1179.54,482.05 L1180.81,481.35 L1182.08,480.67 L1183.35,480 L1184.62,479.34 L1185.89,478.69 L1187.16,478.05 L1188.43,477.42 L1189.7,476.81 L1190.97,476.2 L1192.24,475.61 L1193.51,475.03 L1194.78,474.46 L1196.04,473.9 L1197.31,473.35 L1198.58,472.82 L1199.85,472.29 L1201.12,471.78 L1202.39,471.27 L1203.66,470.78 L1204.93,470.3 L1206.2,469.83 L1207.47,469.38 L1208.74,468.93 L1210.01,468.5 L1211.28,468.07 L1212.55,467.66 L1213.82,467.26 L1215.09,466.87 L1216.36,466.49 L1217.63,466.12 L1218.9,465.77 L1220.16,465.42 L1221.43,465.09 L1222.7,464.77 L1223.97,464.46 L1225.24,464.16 L1226.51,463.87 L1227.78,463.59 L1229.05,463.33 L1230.32,463.07 L1231.59,462.83 L1232.86,462.6 L1234.13,462.38 L1235.4,462.17 L1236.67,461.97 L1237.94,461.79 L1239.21,461.61 L1240.48,461.45 L1241.75,461.3 L1243.02,461.15 L1244.29,461.02 L1245.56,460.91 L1246.82,460.8 L1248.09,460.7 L1249.36,460.62 L1250.63,460.54 L1251.9,460.48 L1253.17,460.43 L1254.44,460.39 L1255.71,460.36 L1256.98,460.35 L1258.25,460.34 L1259.52,460.35 L1260.79,460.36 L1262.06,460.39 L1263.33,460.43 L1264.6,460.48 L1265.87,460.54 L1267.14,460.62 L1268.41,460.7 L1269.68,460.8 L1270.95,460.91 L1272.21,461.02 L1273.48,461.15 L1274.75,461.3 L1276.02,461.45 L1277.29,461.61 L1278.56,461.79 L1279.83,461.97 L1281.1,462.17 L1282.37,462.38 L1283.64,462.6 L1284.91,462.83 L1286.18,463.07 L1287.45,463.33 L1288.72,463.59 L1289.99,463.87 L1291.26,464.16 L1292.53,464.46 L1293.8,464.77 L1295.07,465.09 L1296.34,465.42 L1297.6,465.77 L1298.87,466.12 L1300.14,466.49 L1301.41,466.87 L1302.68,467.26 L1303.95,467.66 L1305.22,468.07 L1306.49,468.5 L1307.76,468.93 L1309.03,469.38 L1310.3,469.83 L1311.57,470.3 L1312.84,470.78 L1314.11,471.27 L1315.38,471.78 L1316.65,472.29 L1317.92,472.82 L1319.19,473.35 L1320.46,473.9 L1321.73,474.46 L1322.99,475.03 L1324.26,475.61 L1325.53,476.2 L1326.8,476.81 L1328.07,477.42 L1329.34,478.05 L1330.61,478.69 L1331.88,479.34 L1333.15,480 L1334.42,480.67 L1335.69,481.35 L1336.96,482.05 L1338.23,482.76 L1339.5,483.47 L1340.77,484.2 L1342.04,484.94 L1343.31,485.69 L1344.58,486.45 L1345.85,487.23 L1347.12,488.01 L1348.38,488.81 L1349.65,489.62 L1350.92,490.44 L1352.19,491.27 L1353.46,492.11 L1354.73,492.96 L1356,493.82 L1357.27,494.7 L1358.54,495.59 L1359.81,496.48 L1361.08,497.39 L1362.35,498.31 L1363.62,499.24 L1364.89,500.19 L1366.16,501.14 L1367.43,502.11 L1368.7,503.08 L1369.97,504.07 L1371.24,505.07 L1372.51,506.08 L1373.77,507.11 L1375.04,508.14 L1376.31,509.18 L1377.58,510.24 L1378.85,511.31 L1380.12,512.39 L1381.39,513.48 L1382.66,514.58 L1383.93,515.69 L1385.2,516.81 L1386.47,517.95 L1387.74,519.09 L1389.01,520.25 L1390.28,521.42 L1391.55,522.6 L1392.82,523.79 L1394.09,525 L1395.36,526.21 L1396.63,527.44 L1397.9,528.67 L1399.16,529.92 L1400.43,531.18 L1401.7,532.45 L1402.97,533.73 L1404.24,535.02 L1405.51,536.33 L1406.78,537.65 L1408.05,538.97 L1409.32,540.31 L1410.59,541.66 L1411.86,543.02 L1413.13,544.39 L1414.4,545.78 L1415.67,547.17 L1416.94,548.58 L1418.21,550 L1419.48,551.42 L1420.75,552.86 L1422.02,554.32 L1423.28,555.78 L1424.55,557.25 L1425.82,558.74 L1427.09,560.23 L1428.36,561.74 L1429.63,563.26 L1430.9,564.79 L1432.17,566.33 L1433.44,567.89 L1434.71,569.45 L1435.98,571.03 L1437.25,572.61 L1438.52,574.21 L1439.79,575.82 L1441.06,577.44 L1442.33,579.07 L1443.6,580.72 L1444.87,582.37 L1446.14,584.04 L1447.41,585.71 L1448.67,587.4 L1449.94,589.1 L1451.21,590.81 L1452.48,592.54 L1453.75,594.27 L1455.02,596.01 L1456.29,597.77 L1457.56,599.54 L1458.83,601.32 L1460.1,603.11 L1461.37,604.91 L1462.64,606.72 L1463.91,608.54 L1465.18,610.38 L1466.45,612.23 L1467.72,614.08 L1468.99,615.95 L1470.26,617.83 L1471.53,619.73 L1472.8,621.63 L1474.07,623.54 L1475.33,625.47 L1476.6,627.41 L1477.87,629.35 L1479.14,631.31 L1480.41,633.28 L1481.68,635.27 L1482.95,637.26 L1484.22,639.27 L1485.49,641.28 L1486.76,643.31 L1488.03,645.35 L1489.3,647.4 L1490.57,649.46 L1491.84,651.53 L1493.11,653.61 L1494.38,655.71 L1495.65,657.82 L1496.92,659.93 L1498.19,662.06 L1499.45,664.2 L1500.72,666.35 L1501.99,668.52 L1503.26,670.69 L1504.53,672.88 L1505.8,675.07 L1507.07,677.28 L1508.34,679.5 L1509.61,681.73 L1510.88,683.97 L1512.15,686.23 L1513.42,688.49 L1514.69,690.77 L1515.96,693.05 L1517.23,695.35 L1518.5,697.66 L1519.77,699.98 L1521.04,702.32 L1522.31,704.66 L1523.58,707.01 L1524.85,709.38 L1526.11,711.76 L1527.38,714.15 L1528.65,716.55 L1529.92,718.96 L1531.19,721.38 L1532.46,723.81 L1533.73,726.26 L1535,728.72 L1536.27,731.18 L1537.54,733.66 L1538.81,736.15 L1540.08,738.65 L1541.35,741.17 L1542.62,743.69 L1543.89,746.23 L1545.16,748.77 L1546.43,751.33 L1547.7,753.9 L1548.97,756.48 L1550.24,759.07 L1551.5,761.68 L1552.77,764.29 L1554.04,766.92 L1555.31,769.56 L1556.58,772.2 L1557.85,774.86 L1559.12,777.54 L1560.39,780.22 L1561.66,782.91 L1562.93,785.62 L1564.2,788.33 L1565.47,791.06 L1566.74,793.8 L1568.01,796.55 L1569.28,799.31 L1570.55,802.08 L1571.82,804.87 L1573.09,807.66 L1574.36,810.47 L1575.62,813.29 L1576.89,816.12 L1578.16,818.96 L1579.43,821.81 L1580.7,824.67 L1581.97,827.55 L1583.24,830.43 L1584.51,833.33 L1585.78,836.24 L1587.05,839.16 L1588.32,842.09 L1589.59,845.03 L1590.86,847.98 L1592.13,850.95 L1593.4,853.92 L1594.67,856.91 L1595.94,859.91 L1597.21,862.92 L1598.48,865.94 L1599.75,868.97 L1601.02,872.02 L1602.28,875.07 L1603.55,878.14 L1604.82,881.22 L1606.09,884.31 L1607.36,887.41 L1608.63,890.52 L1609.9,893.64 L1611.17,896.77 L1612.44,899.92 L1613.71,903.08 L1614.98,906.24 L1616.25,909.42 L1617.52,912.61 L1618.79,915.82 L1620.06,919.03 L1621.33,922.25 L1622.6,925.49 L1623.87,928.74 L1625.14,932 L1626.41,935.26 L1627.67,938.55 L1628.94,941.84 L1630.21,945.14 L1631.48,948.46 L1632.75,951.78 L1634.02,955.12 L1635.29,958.47 L1636.56,961.83 L1637.83,965.2 L1639.1,968.58 L1640.37,971.98 L1641.64,975.38 L1642.91,978.8 L1644.18,982.23 L1645.45,985.67 L1646.72,989.12 L1647.99,992.58 L1649.26,996.05 L1650.53,999.53 L1651.8,1003.03 L1653.06,1006.54 L1654.33,1010.06 L1655.6,1013.58 L1656.87,1017.13 L1658.14,1020.68 L1659.41,1024.24 L1660.68,1027.82 L1661.95,1031.4 L1663.22,1035 L1664.49,1038.61 L1665.76,1042.23 L1667.03,1045.86 L1668.3,1049.5 L1669.57,1053.15 L1670.84,1056.82 L1672.11,1060.5 L1673.38,1064.18 L1674.65,1067.88 L1675.92,1071.59 L1677.19,1075.31 L1678.45,1079.05 L1679.72,1082.79 L1680.99,1086.55 L1681.42,1087.8 L1682.26,1085.29 L1683.53,1081.54 L1684.8,1077.8 L1686.07,1074.07 L1687.34,1070.35 L1688.61,1066.65 L1689.88,1062.95 L1691.15,1059.27 L1692.42,1055.6 L1693.69,1051.94 L1694.96,1048.29 L1696.23,1044.65 L1697.5,1041.02 L1698.77,1037.4 L1700.04,1033.8 L1701.31,1030.2 L1702.58,1026.62 L1703.84,1023.05 L1705.11,1019.49 L1706.38,1015.94 L1707.65,1012.41 L1708.92,1008.88 L1710.19,1005.37 L1711.46,1001.86 L1712.73,998.37 L1714,994.89 L1715.27,991.42 L1716.54,987.96 L1717.81,984.52 L1719.08,981.08 L1720.35,977.66 L1721.62,974.25 L1722.89,970.84 L1724.16,967.45 L1725.43,964.08 L1726.7,960.71 L1727.97,957.35 L1729.23,954.01 L1730.5,950.67 L1731.77,947.35 L1733.04,944.04 L1734.31,940.74 L1735.58,937.45 L1736.85,934.17 L1738.12,930.91 L1739.39,927.65 L1740.66,924.41 L1741.93,921.18 L1743.2,917.96 L1744.47,914.75 L1745.74,911.55 L1747.01,908.36 L1748.28,905.19 L1749.55,902.02 L1750.82,898.87 L1752.09,895.73 L1753.36,892.6 L1754.62,889.48 L1755.89,886.37 L1757.16,883.27 L1758.43,880.19 L1759.7,877.12 L1760.97,874.05 L1762.24,871 L1763.51,867.96 L1764.78,864.93 L1766.05,861.91 L1767.32,858.91 L1768.59,855.91 L1769.86,852.93 L1771.13,849.96 L1772.4,847 L1773.67,844.05 L1774.94,841.11 L1776.21,838.18 L1777.48,835.27 L1778.74,832.36 L1780.01,829.47 L1781.28,826.59 L1782.55,823.72 L1783.82,820.86 L1785.09,818.01 L1786.36,815.17 L1787.63,812.35 L1788.9,809.53 L1790.17,806.73 L1791.44,803.94 L1792.71,801.16 L1793.98,798.39 L1795.25,795.63 L1796.52,792.88 L1797.79,790.15 L1799.06,787.43 L1800.33,784.71 L1801.6,782.01 L1802.87,779.32 L1804.13,776.64 L1805.4,773.98 L1806.67,771.32 L1807.94,768.68 L1809.21,766.04 L1810.48,763.42 L1811.75,760.81 L1813.02,758.21 L1814.29,755.62 L1815.56,753.04 L1816.83,750.48 L1818.1,747.92 L1819.37,745.38 L1820.64,742.85 L1821.91,740.33 L1823.18,737.82 L1824.45,735.32 L1825.72,732.83 L1826.99,730.36 L1828.26,727.9 L1829.53,725.44 L1830.79,723 L1832.06,720.57 L1833.33,718.15 L1834.6,715.74 L1835.87,713.35 L1837.14,710.96 L1838.41,708.59 L1839.68,706.23 L1840.95,703.88 L1842.22,701.54 L1843.49,699.21 L1844.76,696.89 L1846.03,694.59 L1847.3,692.29 L1848.57,690.01 L1849.84,687.74 L1851.11,685.47 L1852.38,683.22 L1853.65,680.99 L1854.91,678.76 L1856.18,676.54 L1857.45,674.34 L1858.72,672.15 L1859.99,669.97 L1861.26,667.8 L1862.53,665.64 L1863.8,663.49 L1865.07,661.35 L1866.34,659.23 L1867.61,657.11 L1868.88,655.01 L1870.15,652.92 L1871.42,650.84 L1872.69,648.77 L1873.96,646.71 L1875.23,644.67 L1876.5,642.63 L1877.77,640.61 L1879.04,638.6 L1880.31,636.59 L1881.57,634.61 L1882.84,632.63 L1884.11,630.66 L1885.38,628.7 L1886.65,626.76 L1887.92,624.83 L1889.19,622.9 L1890.46,620.99 L1891.73,619.09 L1893,617.21 L1894.27,615.33 L1895.54,613.46 L1896.81,611.61 L1898.08,609.77 L1899.35,607.94 L1900.62,606.12 L1901.89,604.31 L1903.16,602.51 L1904.43,600.72 L1905.7,598.95 L1906.96,597.18 L1908.23,595.43 L1909.5,593.69 L1910.77,591.96 L1912.04,590.24 L1913.31,588.53 L1914.58,586.84 L1915.85,585.15 L1917.12,583.48 L1918.39,581.82 L1919.66,580.17 L1920.93,578.53 L1922.2,576.9 L1923.47,575.28 L1924.74,573.68 L1926.01,572.08 L1927.28,570.5 L1928.55,568.93 L1929.82,567.37 L1931.09,565.82 L1932.35,564.28 L1933.62,562.75 L1934.89,561.24 L1936.16,559.73 L1937.43,558.24 L1938.7,556.76 L1939.97,555.29 L1941.24,553.83 L1942.51,552.38 L1943.78,550.95 L1945.05,549.52 L1946.32,548.11 L1947.59,546.71 L1948.86,545.31 L1950.13,543.93 L1951.4,542.57 L1952.67,541.21 L1953.94,539.86 L1955.21,538.53 L1956.48,537.21 L1957.74,535.89 L1959.01,534.59 L1960.28,533.3 L1961.55,532.03 L1962.82,530.76 L1964.09,529.5 L1965.36,528.26 L1966.63,527.03 L1967.9,525.8 L1969.17,524.59 L1970.44,523.39 L1971.71,522.21 L1972.98,521.03 L1974.25,519.86 L1975.52,518.71 L1976.79,517.57 L1978.06,516.44 L1979.33,515.32 L1980.6,514.21 L1981.87,513.11 L1983.13,512.02 L1984.4,510.95 L1985.67,509.89 L1986.94,508.83 L1988.21,507.79 L1989.48,506.76 L1990.75,505.75 L1992.02,504.74 L1993.29,503.74 L1994.56,502.76 L1995.83,501.78 L1997.1,500.82 L1998.37,499.87 L1999.64,498.93 L2000.91,498 L2002.18,497.09 L2003.45,496.18 L2004.72,495.29 L2005.99,494.41 L2007.26,493.53 L2008.52,492.67 L2009.79,491.83 L2011.06,490.99 L2012.33,490.16 L2013.6,489.35 L2014.87,488.54 L2016.14,487.75 L2017.41,486.97 L2018.68,486.2 L2019.95,485.44 L2021.22,484.69 L2022.49,483.96 L2023.76,483.23 L2025.03,482.52 L2026.3,481.82 L2027.57,481.13 L2028.84,480.45 L2030.11,479.78 L2031.38,479.12 L2032.65,478.48 L2033.91,477.84 L2035.18,477.22 L2036.45,476.61 L2037.72,476.01 L2038.99,475.42 L2040.26,474.84 L2041.53,474.27 L2042.8,473.72 L2044.07,473.17 L2045.34,472.64 L2046.61,472.12 L2047.88,471.61 L2049.15,471.11 L2050.42,470.62 L2051.69,470.15 L2052.96,469.68 L2054.23,469.23 L2055.5,468.78 L2056.77,468.35 L2058.03,467.93 L2059.3,467.53 L2060.57,467.13 L2061.84,466.74 L2063.11,466.37 L2064.38,466 L2065.65,465.65 L2066.92,465.31 L2068.19,464.98 L2069.46,464.66 L2070.73,464.36 L2072,464.06 L2073.27,463.78 L2074.54,463.5 L2075.81,463.24 L2077.08,462.99 L2078.35,462.75 L2079.62,462.53 L2080.89,462.31 L2082.16,462.1 L2083.42,461.91 L2084.69,461.73 L2085.96,461.56 L2087.23,461.4 L2088.5,461.25 L2089.77,461.11 L2091.04,460.98 L2092.31,460.87 L2093.58,460.77 L2094.85,460.67 L2096.12,460.59 L2097.39,460.52 L2098.66,460.46 L2099.93,460.42 L2101.2,460.38 L2102.47,460.36 L2103.74,460.34 L2104.58,460.34 L2104.58,460.34 L2105.01,460.34 L2106.28,460.35 L2107.55,460.37 L2108.81,460.4 L2110.08,460.45 L2111.35,460.5 L2112.62,460.57 L2113.89,460.65 L2115.16,460.73 L2116.43,460.83 L2117.7,460.94 L2118.97,461.07 L2120.24,461.2 L2121.51,461.35 L2122.78,461.5 L2124.05,461.67 L2125.32,461.85 L2126.59,462.04 L2127.86,462.24 L2129.13,462.45 L2130.4,462.68 L2131.67,462.91 L2132.94,463.16 L2134.2,463.42 L2135.47,463.69 L2136.74,463.97 L2138.01,464.26 L2139.28,464.56 L2140.55,464.88 L2141.82,465.2 L2143.09,465.54 L2144.36,465.89 L2145.63,466.25 L2146.9,466.62 L2148.17,467 L2149.44,467.39 L2150.71,467.8 L2151.98,468.21 L2153.25,468.64 L2154.52,469.08 L2155.79,469.53 L2157.06,469.99 L2158.33,470.46 L2159.59,470.95 L2160.86,471.44 L2162.13,471.95 L2163.4,472.46 L2164.67,472.99 L2165.94,473.53 L2167.21,474.09 L2168.48,474.65 L2169.75,475.22 L2171.02,475.81 L2172.29,476.4 L2173.56,477.01 L2174.83,477.63 L2176.1,478.26 L2177.37,478.9 L2178.64,479.56 L2179.91,480.22 L2181.18,480.9 L2182.45,481.58 L2183.72,482.28 L2184.98,482.99 L2186.25,483.71 L2187.52,484.45 L2188.79,485.19 L2190.06,485.94 L2191.33,486.71 L2192.6,487.49 L2193.87,488.28 L2195.14,489.08 L2196.41,489.89 L2197.68,490.71 L2198.95,491.54 L2200.22,492.39 L2201.49,493.25 L2202.76,494.11 L2204.03,494.99 L2205.3,495.88 L2206.57,496.79 L2207.84,497.7 L2209.11,498.62 L2210.38,499.56 L2211.64,500.5 L2212.91,501.46 L2214.18,502.43 L2215.45,503.41 L2216.72,504.4 L2217.99,505.41 L2219.26,506.42 L2220.53,507.45 L2221.8,508.49 L2223.07,509.53 L2224.34,510.59 L2225.61,511.67 L2226.88,512.75 L2228.15,513.84 L2229.42,514.95 L2230.69,516.06 L2231.96,517.19 L2233.23,518.33 L2234.5,519.48 L2235.76,520.64 L2237.03,521.81 L2238.3,523 L2239.57,524.19 L2240.84,525.4 L2242.11,526.62 L2243.38,527.85 L2244.65,529.09 L2245.92,530.34 L2247.19,531.6 L2248.46,532.88 L2249.73,534.16 L2251,535.46 L2252.27,536.77 L2253.54,538.09 L2254.81,539.42 L2256.08,540.76 L2257.35,542.11 L2258.62,543.48 L2259.89,544.85 L2261.15,546.24 L2262.42,547.64 L2263.69,549.05 L2264.96,550.47 L2266.23,551.9 L2267.5,553.35 L2268.77,554.8 L2270.04,556.27 L2271.31,557.75 L2272.58,559.23 L2273.85,560.73" stroke="#FF0000" stroke-width="11" fill="none" stroke-linejoin="round" stroke-linecap="round" shape-rendering="crispEdges"/>
<path d="M242.65,636.03 L243.92,635.28 L245.19,634.55 L246.46,633.84 L247.73,633.14 L249,632.45 L250.27,631.78 L251.54,631.13 L252.81,630.49 L254.08,629.86 L255.35,629.25 L256.61,628.66 L257.88,628.08 L259.15,627.51 L260.42,626.96 L261.69,626.43 L262.96,625.91 L264.23,625.41 L265.5,624.92 L266.77,624.44 L268.04,623.98 L269.31,623.54 L270.58,623.11 L271.85,622.7 L273.12,622.3 L274.39,621.91 L275.66,621.54 L276.93,621.19 L278.2,620.85 L279.47,620.53 L280.74,620.22 L282,619.92 L283.27,619.65 L284.54,619.38 L285.81,619.13 L287.08,618.9 L288.35,618.68 L289.62,618.48 L290.89,618.29 L292.16,618.12 L293.43,617.96 L294.7,617.82 L295.97,617.69 L297.24,617.58 L298.51,617.48 L299.78,617.39 L301.05,617.33 L302.32,617.27 L303.59,617.24 L304.86,617.21 L306.13,617.21 L307.39,617.21 L308.66,617.24 L309.93,617.27 L311.2,617.33 L312.47,617.39 L313.74,617.48 L315.01,617.58 L316.28,617.69 L317.55,617.82 L318.82,617.96 L320.09,618.12 L321.36,618.29 L322.63,618.48 L323.9,618.68 L325.17,618.9 L326.44,619.13 L327.71,619.38 L328.98,619.65 L330.25,619.92 L331.52,620.22 L332.78,620.53 L334.05,620.85 L335.32,621.19 L336.59,621.54 L337.86,621.91 L339.13,622.3 L340.4,622.7 L341.67,623.11 L342.94,623.54 L344.21,623.98 L345.48,624.44 L346.75,624.92 L348.02,625.41 L349.29,625.91 L350.56,626.43 L351.83,626.96 L353.1,627.51 L354.37,628.08 L355.64,628.66 L356.91,629.25 L358.17,629.86 L359.44,630.49 L360.71,631.13 L361.98,631.78 L363.25,632.45 L364.52,633.14 L365.79,633.84 L367.06,634.55 L368.33,635.28 L369.6,636.03 L370.87,636.79 L372.14,637.57 L373.41,638.36 L374.68,639.16 L375.95,639.98 L377.22,640.82 L378.49,641.67 L379.76,642.54 L381.03,643.42 L382.3,644.31 L383.56,645.22 L384.83,646.15 L386.1,647.09 L387.37,648.05 L388.64,649.02 L389.91,650 L391.18,651.01 L392.45,652.02 L393.72,653.05 L394.99,654.1 L396.26,655.16 L397.53,656.24 L398.8,657.33 L400.07,658.44 L401.34,659.56 L402.61,660.7 L403.88,661.85 L405.15,663.02 L406.42,664.2 L407.69,665.4 L408.95,666.61 L410.22,667.83 L411.49,669.08 L411.92,669.49 L412.76,670.33 L414.03,671.61 L415.3,672.89 L416.57,674.2 L417.84,675.51 L419.11,676.85 L420.38,678.2 L421.65,679.56 L422.92,680.94 L424.19,682.33 L425.46,683.74 L426.73,685.16 L428,686.6 L429.27,688.05 L430.54,689.52 L431.81,691 L433.08,692.5 L434.34,694.01 L435.61,695.54 L436.88,697.09 L438.15,698.65 L439.42,700.22 L440.69,701.81 L441.96,703.41 L443.23,705.03 L444.5,706.66 L445.77,708.31 L447.04,709.98 L448.31,711.66 L449.58,713.35 L450.85,715.06 L452.12,716.78 L453.39,718.52 L454.66,720.28 L455.93,722.05 L457.2,723.83 L458.47,725.63 L459.73,727.45 L461,729.28 L462.27,731.12 L463.54,732.98 L464.81,734.85 L466.08,736.74 L467.35,738.65 L468.62,740.57 L469.89,742.5 L471.16,744.45 L472.43,746.42 L473.7,748.4 L474.97,750.4 L476.24,752.41 L477.51,754.43 L478.78,756.47 L480.05,758.53 L481.32,760.6 L482.59,762.68 L483.86,764.78 L485.12,766.9 L486.39,769.03 L487.66,771.18 L488.93,773.34 L490.2,775.51 L491.47,777.71 L492.74,779.91 L494.01,782.13 L495.28,784.37 L496.55,786.62 L497.82,788.89 L499.09,791.17 L500.36,793.46 L501.63,795.78 L502.9,798.1 L504.17,800.44 L505.44,802.8 L506.71,805.17 L507.98,807.56 L509.25,809.96 L510.51,812.38 L511.78,814.81 L513.05,817.26 L514.32,819.72 L515.59,822.2 L516.86,824.69 L518.13,827.2 L519.4,829.72 L520.67,832.26 L521.94,834.81 L523.21,837.38 L524.48,839.96 L525.75,842.56 L527.02,845.17 L528.29,847.8 L529.56,850.44 L530.83,853.1 L532.1,855.77 L533.37,858.46 L534.64,861.16 L535.9,863.88 L537.17,866.61 L538.44,869.36 L539.71,872.13 L540.98,874.9 L542.25,877.7 L543.52,880.51 L544.79,883.33 L546.06,886.17 L547.33,889.02 L548.6,891.89 L549.87,894.77 L551.14,897.67 L552.41,900.59 L553.68,903.52 L554.95,906.46 L556.22,909.42 L557.49,912.39 L558.76,915.38 L560.03,918.39 L561.29,921.41 L562.56,924.44 L563.83,927.49 L565.1,930.55 L566.37,933.63 L567.64,936.73 L568.91,939.84 L570.18,942.96 L571.45,946.1 L572.72,949.26 L573.99,952.43 L575.26,955.61 L576.53,958.81 L577.8,962.03 L579.07,965.26 L580.34,968.5 L581.61,971.76 L582.88,975.04 L584.15,978.33 L585.42,981.63 L586.68,984.95 L587.95,988.29 L589.22,991.64 L590.49,995.01 L591.76,998.39 L593.03,1001.78 L594.3,1005.19 L595.57,1008.62 L596.84,1012.06 L598.11,1015.52 L599.38,1018.99 L600.65,1022.47 L601.92,1025.98 L603.19,1029.49 L604.46,1033.02 L605.73,1036.57 L607,1040.13 L608.27,1043.71 L609.54,1047.3 L610.81,1050.91 L612.07,1054.53 L613.34,1058.16 L614.61,1061.82 L615.88,1065.48 L617.15,1069.16 L618.42,1072.86 L619.69,1076.57 L620.96,1080.3 L622.23,1084.04 L623.5,1087.8 L624.77,1084.04 L626.04,1080.3 L627.31,1076.57 L628.58,1072.86 L629.85,1069.16 L631.12,1065.48 L632.39,1061.82 L633.66,1058.16 L634.93,1054.53 L636.2,1050.91 L637.46,1047.3 L638.73,1043.71 L640,1040.13 L641.27,1036.57 L642.54,1033.02 L643.81,1029.49 L645.08,1025.98 L646.35,1022.47 L647.62,1018.99 L648.89,1015.52 L650.16,1012.06 L651.43,1008.62 L652.7,1005.19 L653.97,1001.78 L655.24,998.39 L656.51,995.01 L657.78,991.64 L659.05,988.29 L660.32,984.95 L661.59,981.63 L662.85,978.33 L664.12,975.04 L665.39,971.76 L666.66,968.5 L667.93,965.26 L669.2,962.03 L670.47,958.81 L671.74,955.61 L673.01,952.43 L674.28,949.26 L675.55,946.1 L676.82,942.96 L678.09,939.84 L679.36,936.73 L680.63,933.63 L681.9,930.55 L683.17,927.49 L684.44,924.44 L685.71,921.41 L686.98,918.39 L688.24,915.38 L689.51,912.39 L690.78,909.42 L692.05,906.46 L693.32,903.52 L694.59,900.59 L695.86,897.67 L697.13,894.77 L698.4,891.89 L699.67,889.02 L700.94,886.17 L702.21,883.33 L703.48,880.51 L704.75,877.7 L706.02,874.9 L707.29,872.13 L708.56,869.36 L709.83,866.61 L711.1,863.88 L712.37,861.16 L713.63,858.46 L714.9,855.77 L716.17,853.1 L717.44,850.44 L718.71,847.8 L719.98,845.17 L721.25,842.56 L722.52,839.96 L723.79,837.38 L725.06,834.81 L726.33,832.26 L727.6,829.72 L728.87,827.2 L730.14,824.69 L731.41,822.2 L732.68,819.72 L733.95,817.26 L735.22,814.81 L736.49,812.38 L737.75,809.96 L739.02,807.56 L740.29,805.17 L741.56,802.8 L742.83,800.44 L744.1,798.1 L745.37,795.78 L746.64,793.46 L747.91,791.17 L749.18,788.89 L750.45,786.62 L751.72,784.37 L752.99,782.13 L754.26,779.91 L755.53,777.71 L756.8,775.51 L758.07,773.34 L759.34,771.18 L760.61,769.03 L761.88,766.9 L763.15,764.78 L764.41,762.68 L765.68,760.6 L766.95,758.53 L768.22,756.47 L769.49,754.43 L770.76,752.41 L772.03,750.4 L773.3,748.4 L774.57,746.42 L775.84,744.45 L777.11,742.5 L778.38,740.57 L779.65,738.65 L780.92,736.74 L782.19,734.85 L783.46,732.98 L784.73,731.12 L786,729.28 L787.27,727.45 L788.54,725.63 L789.8,723.83 L791.07,722.05 L792.34,720.28 L793.61,718.52 L794.88,716.78 L796.15,715.06 L797.42,713.35 L798.69,711.66 L799.96,709.98 L801.23,708.31 L802.5,706.66 L803.77,705.03 L805.04,703.41 L806.31,701.81 L807.58,700.22 L808.85,698.65 L810.12,697.09 L811.39,695.54 L812.66,694.01 L813.93,692.5 L815.19,691 L816.46,689.52 L817.73,688.05 L819,686.6 L820.27,685.16 L821.54,683.74 L822.81,682.33 L824.08,680.94 L825.35,679.56 L826.62,678.2 L827.89,676.85 L829.16,675.51 L830.43,674.2 L831.7,672.89 L832.97,671.61 L834.24,670.33 L835.08,669.49 L835.51,669.08 L836.78,667.83 L838.05,666.61 L839.32,665.4 L840.58,664.2 L841.85,663.02 L843.12,661.85 L844.39,660.7 L845.66,659.56 L846.93,658.44 L848.2,657.33 L849.47,656.24 L850.74,655.16 L852.01,654.1 L853.28,653.05 L854.55,652.02 L855.82,651.01 L857.09,650 L858.36,649.02 L859.63,648.05 L860.9,647.09 L862.17,646.15 L863.44,645.22 L864.71,644.31 L865.97,643.42 L867.24,642.54 L868.51,641.67 L869.78,640.82 L871.05,639.98 L872.32,639.16 L873.59,638.36 L874.86,637.57 L876.13,636.79 L877.4,636.03 L878.67,635.28 L879.94,634.55 L881.21,633.84 L882.48,633.14 L883.75,632.45 L885.02,631.78 L886.29,631.13 L887.56,630.49 L888.83,629.86 L890.1,629.25 L891.36,628.66 L892.63,628.08 L893.9,627.51 L895.17,626.96 L896.44,626.43 L897.71,625.91 L898.98,625.41 L900.25,624.92 L901.52,624.44 L902.79,623.98 L904.06,623.54 L905.33,623.11 L906.6,622.7 L907.87,622.3 L909.14,621.91 L910.41,621.54 L911.68,621.19 L912.95,620.85 L914.22,620.53 L915.49,620.22 L916.75,619.92 L918.02,619.65 L919.29,619.38 L920.56,619.13 L921.83,618.9 L923.1,618.68 L924.37,618.48 L925.64,618.29 L926.91,618.12 L928.18,617.96 L929.45,617.82 L930.72,617.69 L931.99,617.58 L933.26,617.48 L934.53,617.39 L935.8,617.33 L937.07,617.27 L938.34,617.24 L939.61,617.21 L940.88,617.21 L942.14,617.21 L943.41,617.24 L944.68,617.27 L945.95,617.33 L947.22,617.39 L948.49,617.48 L949.76,617.58 L951.03,617.69 L952.3,617.82 L953.57,617.96 L954.84,618.12 L956.11,618.29 L957.38,618.48 L958.65,618.68 L959.92,618.9 L961.19,619.13 L962.46,619.38 L963.73,619.65 L965,619.92 L966.27,620.22 L967.53,620.53 L968.8,620.85 L970.07,621.19 L971.34,621.54 L972.61,621.91 L973.88,622.3 L975.15,622.7 L976.42,623.11 L977.69,623.54 L978.96,623.98 L980.23,624.44 L981.5,624.92 L982.77,625.41 L984.04,625.91 L985.31,626.43 L986.58,626.96 L987.85,627.51 L989.12,628.08 L990.39,628.66 L991.66,629.25 L992.92,629.86 L994.19,630.49 L995.46,631.13 L996.73,631.78 L998,632.45 L999.27,633.14 L1000.54,633.84 L1001.81,634.55 L1003.08,635.28 L1004.35,636.03 L1005.62,636.79 L1006.89,637.57 L1008.16,638.36 L1009.43,639.16 L1010.7,639.98 L1011.97,640.82 L1013.24,641.67 L1014.51,642.54 L1015.78,643.42 L1017.05,644.31 L1018.31,645.22 L1019.58,646.15 L1020.85,647.09 L1022.12,648.05 L1023.39,649.02 L1024.66,650 L1025.93,651.01 L1027.2,652.02 L1028.47,653.05 L1029.74,654.1 L1031.01,655.16 L1032.28,656.24 L1033.55,657.33 L1034.82,658.44 L1036.09,659.56 L1037.36,660.7 L1038.63,661.85 L1039.9,663.02 L1041.17,664.2 L1042.43,665.4 L1043.7,666.61 L1044.97,667.83 L1046.24,669.08 L1047.51,670.33 L1048.78,671.61 L1050.05,672.89 L1051.32,674.2 L1052.59,675.51 L1053.86,676.85 L1055.13,678.2 L1056.4,679.56 L1057.67,680.94 L1058.94,682.33 L1060.21,683.74 L1061.48,685.16 L1062.75,686.6 L1064.02,688.05 L1065.29,689.52 L1066.56,691 L1067.83,692.5 L1069.09,694.01 L1070.36,695.54 L1071.63,697.09 L1072.9,698.65 L1074.17,700.22 L1075.44,701.81 L1076.71,703.41 L1077.98,705.03 L1079.25,706.66 L1080.52,708.31 L1081.79,709.98 L1083.06,711.66 L1084.33,713.35 L1085.6,715.06 L1086.87,716.78 L1088.14,718.52 L1089.41,720.28 L1090.68,722.05 L1091.95,723.83 L1093.22,725.63 L1094.48,727.45 L1095.75,729.28 L1097.02,731.12 L1098.29,732.98 L1099.56,734.85 L1100.83,736.74 L1102.1,738.65 L1103.37,740.57 L1104.64,742.5 L1105.91,744.45 L1107.18,746.42 L1108.45,748.4 L1109.72,750.4 L1110.99,752.41 L1112.26,754.43 L1113.53,756.47 L1114.8,758.53 L1116.07,760.6 L1117.34,762.68 L1118.61,764.78 L1119.87,766.9 L1121.14,769.03 L1122.41,771.18 L1123.68,773.34 L1124.95,775.51 L1126.22,777.71 L1127.49,779.91 L1128.76,782.13 L1130.03,784.37 L1131.3,786.62 L1132.57,788.89 L1133.84,791.17 L1135.11,793.46 L1136.38,795.78 L1137.65,798.1 L1138.92,800.44 L1140.19,802.8 L1141.46,805.17 L1142.73,807.56 L1144,809.96 L1145.26,812.38 L1146.53,814.81 L1147.8,817.26 L1149.07,819.72 L1150.34,822.2 L1151.61,824.69 L1152.88,827.2 L1154.15,829.72 L1155.42,832.26 L1156.69,834.81 L1157.96,837.38 L1159.23,839.96 L1160.5,842.56 L1161.77,845.17 L1163.04,847.8 L1164.31,850.44 L1165.58,853.1 L1166.85,855.77 L1168.12,858.46 L1169.39,861.16 L1170.65,863.88 L1171.92,866.61 L1173.19,869.36 L1174.46,872.13 L1175.73,874.9 L1177,877.7 L1178.27,880.51 L1179.54,883.33 L1180.81,886.17 L1182.08,889.02 L1183.35,891.89 L1184.62,894.77 L1185.89,897.67 L1187.16,900.59 L1188.43,903.52 L1189.7,906.46 L1190.97,909.42 L1192.24,912.39 L1193.51,915.38 L1194.78,918.39 L1196.04,921.41 L1197.31,924.44 L1198.58,927.49 L1199.85,930.55 L1201.12,933.63 L1202.39,936.73 L1203.66,939.84 L1204.93,942.96 L1206.2,946.1 L1207.47,949.26 L1208.74,952.43 L1210.01,955.61 L1211.28,958.81 L1212.55,962.03 L1213.82,965.26 L1215.09,968.5 L1216.36,971.76 L1217.63,975.04 L1218.9,978.33 L1220.16,981.63 L1221.43,984.95 L1222.7,988.29 L1223.97,991.64 L1225.24,995.01 L1226.51,998.39 L1227.78,1001.78 L1229.05,1005.19 L1230.32,1008.62 L1231.59,1012.06 L1232.86,1015.52 L1234.13,1018.99 L1235.4,1022.47 L1236.67,1025.98 L1237.94,1029.49 L1239.21,1033.02 L1240.48,1036.57 L1241.75,1040.13 L1243.02,1043.71 L1244.29,1047.3 L1245.56,1050.91 L1246.82,1054.53 L1248.09,1058.16 L1249.36,1061.82 L1250.63,1065.48 L1251.9,1069.16 L1253.17,1072.86 L1254.44,1076.57 L1255.71,1080.3 L1256.98,1084.04 L1258.25,1087.8 L1259.52,1084.04 L1260.79,1080.3 L1262.06,1076.57 L1263.33,1072.86 L1264.6,1069.16 L1265.87,1065.48 L1267.14,1061.82 L1268.41,1058.16 L1269.68,1054.53 L1270.95,1050.91 L1272.21,1047.3 L1273.48,1043.71 L1274.75,1040.13 L1276.02,1036.57 L1277.29,1033.02 L1278.56,1029.49 L1279.83,1025.98 L1281.1,1022.47 L1282.37,1018.99 L1283.64,1015.52 L1284.91,1012.06 L1286.18,1008.62 L1287.45,1005.19 L1288.72,1001.78 L1289.99,998.39 L1291.26,995.01 L1292.53,991.64 L1293.8,988.29 L1295.07,984.95 L1296.34,981.63 L1297.6,978.33 L1298.87,975.04 L1300.14,971.76 L1301.41,968.5 L1302.68,965.26 L1303.95,962.03 L1305.22,958.81 L1306.49,955.61 L1307.76,952.43 L1309.03,949.26 L1310.3,946.1 L1311.57,942.96 L1312.84,939.84 L1314.11,936.73 L1315.38,933.63 L1316.65,930.55 L1317.92,927.49 L1319.19,924.44 L1320.46,921.41 L1321.73,918.39 L1322.99,915.38 L1324.26,912.39 L1325.53,909.42 L1326.8,906.46 L1328.07,903.52 L1329.34,900.59 L1330.61,897.67 L1331.88,894.77 L1333.15,891.89 L1334.42,889.02 L1335.69,886.17 L1336.96,883.33 L1338.23,880.51 L1339.5,877.7 L1340.77,874.9 L1342.04,872.13 L1343.31,869.36 L1344.58,866.61 L1345.85,863.88 L1347.12,861.16 L1348.38,858.46 L1349.65,855.77 L1350.92,853.1 L1352.19,850.44 L1353.46,847.8 L1354.73,845.17 L1356,842.56 L1357.27,839.96 L1358.54,837.38 L1359.81,834.81 L1361.08,832.26 L1362.35,829.72 L1363.62,827.2 L1364.89,824.69 L1366.16,822.2 L1367.43,819.72 L1368.7,817.26 L1369.97,814.81 L1371.24,812.38 L1372.51,809.96 L1373.77,807.56 L1375.04,805.17 L1376.31,802.8 L1377.58,800.44 L1378.85,798.1 L1380.12,795.78 L1381.39,793.46 L1382.66,791.17 L1383.93,788.89 L1385.2,786.62 L1386.47,784.37 L1387.74,782.13 L1389.01,779.91 L1390.28,777.71 L1391.55,775.51 L1392.82,773.34 L1394.09,771.18 L1395.36,769.03 L1396.63,766.9 L1397.9,764.78 L1399.16,762.68 L1400.43,760.6 L1401.7,758.53 L1402.97,756.47 L1404.24,754.43 L1405.51,752.41 L1406.78,750.4 L1408.05,748.4 L1409.32,746.42 L1410.59,744.45 L1411.86,742.5 L1413.13,740.57 L1414.4,738.65 L1415.67,736.74 L1416.94,734.85 L1418.21,732.98 L1419.48,731.12 L1420.75,729.28 L1422.02,727.45 L1423.28,725.63 L1424.55,723.83 L1425.82,722.05 L1427.09,720.28 L1428.36,718.52 L1429.63,716.78 L1430.9,715.06 L1432.17,713.35 L1433.44,711.66 L1434.71,709.98 L1435.98,708.31 L1437.25,706.66 L1438.52,705.03 L1439.79,703.41 L1441.06,701.81 L1442.33,700.22 L1443.6,698.65 L1444.87,697.09 L1446.14,695.54 L1447.41,694.01 L1448.67,692.5 L1449.94,691 L1451.21,689.52 L1452.48,688.05 L1453.75,686.6 L1455.02,685.16 L1456.29,683.74 L1457.56,682.33 L1458.83,680.94 L1460.1,679.56 L1461.37,678.2 L1462.64,676.85 L1463.91,675.51 L1465.18,674.2 L1466.45,672.89 L1467.72,671.61 L1468.99,670.33 L1470.26,669.08 L1471.53,667.83 L1472.8,666.61 L1474.07,665.4 L1475.33,664.2 L1476.6,663.02 L1477.87,661.85 L1479.14,660.7 L1480.41,659.56 L1481.68,658.44 L1482.95,657.33 L1484.22,656.24 L1485.49,655.16 L1486.76,654.1 L1488.03,653.05 L1489.3,652.02 L1490.57,651.01 L1491.84,650 L1493.11,649.02 L1494.38,648.05 L1495.65,647.09 L1496.92,646.15 L1498.19,645.22 L1499.45,644.31 L1500.72,643.42 L1501.99,642.54 L1503.26,641.67 L1504.53,640.82 L1505.8,639.98 L1507.07,639.16 L1508.34,638.36 L1509.61,637.57 L1510.88,636.79 L1512.15,636.03 L1513.42,635.28 L1514.69,634.55 L1515.96,633.84 L1517.23,633.14 L1518.5,632.45 L1519.77,631.78 L1521.04,631.13 L1522.31,630.49 L1523.58,629.86 L1524.85,629.25 L1526.11,628.66 L1527.38,628.08 L1528.65,627.51 L1529.92,626.96 L1531.19,626.43 L1532.46,625.91 L1533.73,625.41 L1535,624.92 L1536.27,624.44 L1537.54,623.98 L1538.81,623.54 L1540.08,623.11 L1541.35,622.7 L1542.62,622.3 L1543.89,621.91 L1545.16,621.54 L1546.43,621.19 L1547.7,620.85 L1548.97,620.53 L1550.24,620.22 L1551.5,619.92 L1552.77,619.65 L1554.04,619.38 L1555.31,619.13 L1556.58,618.9 L1557.85,618.68 L1559.12,618.48 L1560.39,618.29 L1561.66,618.12 L1562.93,617.96 L1564.2,617.82 L1565.47,617.69 L1566.74,617.58 L1568.01,617.48 L1569.28,617.39 L1570.55,617.33 L1571.82,617.27 L1573.09,617.24 L1574.36,617.21 L1575.62,617.21 L1576.89,617.21 L1578.16,617.24 L1579.43,617.27 L1580.7,617.33 L1581.97,617.39 L1583.24,617.48 L1584.51,617.58 L1585.78,617.69 L1587.05,617.82 L1588.32,617.96 L1589.59,618.12 L1590.86,618.29 L1592.13,618.48 L1593.4,618.68 L1594.67,618.9 L1595.94,619.13 L1597.21,619.38 L1598.48,619.65 L1599.75,619.92 L1601.02,620.22 L1602.28,620.53 L1603.55,620.85 L1604.82,621.19 L1606.09,621.54 L1607.36,621.91 L1608.63,622.3 L1609.9,622.7 L1611.17,623.11 L1612.44,623.54 L1613.71,623.98 L1614.98,624.44 L1616.25,624.92 L1617.52,625.41 L1618.79,625.91 L1620.06,626.43 L1621.33,626.96 L1622.6,627.51 L1623.87,628.08 L1625.14,628.66 L1626.41,629.25 L1627.67,629.86 L1628.94,630.49 L1630.21,631.13 L1631.48,631.78 L1632.75,632.45 L1634.02,633.14 L1635.29,633.84 L1636.56,634.55 L1637.83,635.28 L1639.1,636.03 L1640.37,636.79 L1641.64,637.57 L1642.91,638.36 L1644.18,639.16 L1645.45,639.98 L1646.72,640.82 L1647.99,641.67 L1649.26,642.54 L1650.53,643.42 L1651.8,644.31 L1653.06,645.22 L1654.33,646.15 L1655.6,647.09 L1656.87,648.05 L1658.14,649.02 L1659.41,650 L1660.68,651.01 L1661.95,652.02 L1663.22,653.05 L1664.49,654.1 L1665.76,655.16 L1667.03,656.24 L1668.3,657.33 L1669.57,658.44 L1670.84,659.56 L1672.11,660.7 L1673.38,661.85 L1674.65,663.02 L1675.92,664.2 L1677.19,665.4 L1678.45,666.61 L1679.72,667.83 L1680.99,669.08 L1681.42,669.49 L1682.26,670.33 L1683.53,671.61 L1684.8,672.89 L1686.07,674.2 L1687.34,675.51 L1688.61,676.85 L1689.88,678.2 L1691.15,679.56 L1692.42,680.94 L1693.69,682.33 L1694.96,683.74 L1696.23,685.16 L1697.5,686.6 L1698.77,688.05 L1700.04,689.52 L1701.31,691 L1702.58,692.5 L1703.84,694.01 L1705.11,695.54 L1706.38,697.09 L1707.65,698.65 L1708.92,700.22 L1710.19,701.81 L1711.46,703.41 L1712.73,705.03 L1714,706.66 L1715.27,708.31 L1716.54,709.98 L1717.81,711.66 L1719.08,713.35 L1720.35,715.06 L1721.62,716.78 L1722.89,718.52 L1724.16,720.28 L1725.43,722.05 L1726.7,723.83 L1727.97,725.63 L1729.23,727.45 L1730.5,729.28 L1731.77,731.12 L1733.04,732.98 L1734.31,734.85 L1735.58,736.74 L1736.85,738.65 L1738.12,740.57 L1739.39,742.5 L1740.66,744.45 L1741.93,746.42 L1743.2,748.4 L1744.47,750.4 L1745.74,752.41 L1747.01,754.43 L1748.28,756.47 L1749.55,758.53 L1750.82,760.6 L1752.09,762.68 L1753.36,764.78 L1754.62,766.9 L1755.89,769.03 L1757.16,771.18 L1758.43,773.34 L1759.7,775.51 L1760.97,777.71 L1762.24,779.91 L1763.51,782.13 L1764.78,784.37 L1766.05,786.62 L1767.32,788.89 L1768.59,791.17 L1769.86,793.46 L1771.13,795.78 L1772.4,798.1 L1773.67,800.44 L1774.94,802.8 L1776.21,805.17 L1777.48,807.56 L1778.74,809.96 L1780.01,812.38 L1781.28,814.81 L1782.55,817.26 L1783.82,819.72 L1785.09,822.2 L1786.36,824.69 L1787.63,827.2 L1788.9,829.72 L1790.17,832.26 L1791.44,834.81 L1792.71,837.38 L1793.98,839.96 L1795.25,842.56 L1796.52,845.17 L1797.79,847.8 L1799.06,850.44 L1800.33,853.1 L1801.6,855.77 L1802.87,858.46 L1804.13,861.16 L1805.4,863.88 L1806.67,866.61 L1807.94,869.36 L1809.21,872.13 L1810.48,874.9 L1811.75,877.7 L1813.02,880.51 L1814.29,883.33 L1815.56,886.17 L1816.83,889.02 L1818.1,891.89 L1819.37,894.77 L1820.64,897.67 L1821.91,900.59 L1823.18,903.52 L1824.45,906.46 L1825.72,909.42 L1826.99,912.39 L1828.26,915.38 L1829.53,918.39 L1830.79,921.41 L1832.06,924.44 L1833.33,927.49 L1834.6,930.55 L1835.87,933.63 L1837.14,936.73 L1838.41,939.84 L1839.68,942.96 L1840.95,946.1 L1842.22,949.26 L1843.49,952.43 L1844.76,955.61 L1846.03,958.81 L1847.3,962.03 L1848.57,965.26 L1849.84,968.5 L1851.11,971.76 L1852.38,975.04 L1853.65,978.33 L1854.91,981.63 L1856.18,984.95 L1857.45,988.29 L1858.72,991.64 L1859.99,995.01 L1861.26,998.39 L1862.53,1001.78 L1863.8,1005.19 L1865.07,1008.62 L1866.34,1012.06 L1867.61,1015.52 L1868.88,1018.99 L1870.15,1022.47 L1871.42,1025.98 L1872.69,1029.49 L1873.96,1033.02 L1875.23,1036.57 L1876.5,1040.13 L1877.77,1043.71 L1879.04,1047.3 L1880.31,1050.91 L1881.57,1054.53 L1882.84,1058.16 L1884.11,1061.82 L1885.38,1065.48 L1886.65,1069.16 L1887.92,1072.86 L1889.19,1076.57 L1890.46,1080.3 L1891.73,1084.04 L1893,1087.8 L1894.27,1084.04 L1895.54,1080.3 L1896.81,1076.57 L1898.08,1072.86 L1899.35,1069.16 L1900.62,1065.48 L1901.89,1061.82 L1903.16,1058.16 L1904.43,1054.53 L1905.7,1050.91 L1906.96,1047.3 L1908.23,1043.71 L1909.5,1040.13 L1910.77,1036.57 L1912.04,1033.02 L1913.31,1029.49 L1914.58,1025.98 L1915.85,1022.47 L1917.12,1018.99 L1918.39,1015.52 L1919.66,1012.06 L1920.93,1008.62 L1922.2,1005.19 L1923.47,1001.78 L1924.74,998.39 L1926.01,995.01 L1927.28,991.64 L1928.55,988.29 L1929.82,984.95 L1931.09,981.63 L1932.35,978.33 L1933.62,975.04 L1934.89,971.76 L1936.16,968.5 L1937.43,965.26 L1938.7,962.03 L1939.97,958.81 L1941.24,955.61 L1942.51,952.43 L1943.78,949.26 L1945.05,946.1 L1946.32,942.96 L1947.59,939.84 L1948.86,936.73 L1950.13,933.63 L1951.4,930.55 L1952.67,927.49 L1953.94,924.44 L1955.21,921.41 L1956.48,918.39 L1957.74,915.38 L1959.01,912.39 L1960.28,909.42 L1961.55,906.46 L1962.82,903.52 L1964.09,900.59 L1965.36,897.67 L1966.63,894.77 L1967.9,891.89 L1969.17,889.02 L1970.44,886.17 L1971.71,883.33 L1972.98,880.51 L1974.25,877.7 L1975.52,874.9 L1976.79,872.13 L1978.06,869.36 L1979.33,866.61 L1980.6,863.88 L1981.87,861.16 L1983.13,858.46 L1984.4,855.77 L1985.67,853.1 L1986.94,850.44 L1988.21,847.8 L1989.48,845.17 L1990.75,842.56 L1992.02,839.96 L1993.29,837.38 L1994.56,834.81 L1995.83,832.26 L1997.1,829.72 L1998.37,827.2 L1999.64,824.69 L2000.91,822.2 L2002.18,819.72 L2003.45,817.26 L2004.72,814.81 L2005.99,812.38 L2007.26,809.96 L2008.52,807.56 L2009.79,805.17 L2011.06,802.8 L2012.33,800.44 L2013.6,798.1 L2014.87,795.78 L2016.14,793.46 L2017.41,791.17 L2018.68,788.89 L2019.95,786.62 L2021.22,784.37 L2022.49,782.13 L2023.76,779.91 L2025.03,777.71 L2026.3,775.51 L2027.57,773.34 L2028.84,771.18 L2030.11,769.03 L2031.38,766.9 L2032.65,764.78 L2033.91,762.68 L2035.18,760.6 L2036.45,758.53 L2037.72,756.47 L2038.99,754.43 L2040.26,752.41 L2041.53,750.4 L2042.8,748.4 L2044.07,746.42 L2045.34,744.45 L2046.61,742.5 L2047.88,740.57 L2049.15,738.65 L2050.42,736.74 L2051.69,734.85 L2052.96,732.98 L2054.23,731.12 L2055.5,729.28 L2056.77,727.45 L2058.03,725.63 L2059.3,723.83 L2060.57,722.05 L2061.84,720.28 L2063.11,718.52 L2064.38,716.78 L2065.65,715.06 L2066.92,713.35 L2068.19,711.66 L2069.46,709.98 L2070.73,708.31 L2072,706.66 L2073.27,705.03 L2074.54,703.41 L2075.81,701.81 L2077.08,700.22 L2078.35,698.65 L2079.62,697.09 L2080.89,695.54 L2082.16,694.01 L2083.42,692.5 L2084.69,691 L2085.96,689.52 L2087.23,688.05 L2088.5,686.6 L2089.77,685.16 L2091.04,683.74 L2092.31,682.33 L2093.58,680.94 L2094.85,679.56 L2096.12,678.2 L2097.39,676.85 L2098.66,675.51 L2099.93,674.2 L2101.2,672.89 L2102.47,671.61 L2103.74,670.33 L2104.58,669.49 L2105.01,669.08 L2106.28,667.83 L2107.55,666.61 L2108.81,665.4 L2110.08,664.2 L2111.35,663.02 L2112.62,661.85 L2113.89,660.7 L2115.16,659.56 L2116.43,658.44 L2117.7,657.33 L2118.97,656.24 L2120.24,655.16 L2121.51,654.1 L2122.78,653.05 L2124.05,652.02 L2125.32,651.01 L2126.59,650 L2127.86,649.02 L2129.13,648.05 L2130.4,647.09 L2131.67,646.15 L2132.94,645.22 L2134.2,644.31 L2135.47,643.42 L2136.74,642.54 L2138.01,641.67 L2139.28,640.82 L2140.55,639.98 L2141.82,639.16 L2143.09,638.36 L2144.36,637.57 L2145.63,636.79 L2146.9,636.03 L2148.17,635.28 L2149.44,634.55 L2150.71,633.84 L2151.98,633.14 L2153.25,632.45 L2154.52,631.78 L2155.79,631.13 L2157.06,630.49 L2158.33,629.86 L2159.59,629.25 L2160.86,628.66 L2162.13,628.08 L2163.4,627.51 L2164.67,626.96 L2165.94,626.43 L2167.21,625.91 L2168.48,625.41 L2169.75,624.92 L2171.02,624.44 L2172.29,623.98 L2173.56,623.54 L2174.83,623.11 L2176.1,622.7 L2177.37,622.3 L2178.64,621.91 L2179.91,621.54 L2181.18,621.19 L2182.45,620.85 L2183.72,620.53 L2184.98,620.22 L2186.25,619.92 L2187.52,619.65 L2188.79,619.38 L2190.06,619.13 L2191.33,618.9 L2192.6,618.68 L2193.87,618.48 L2195.14,618.29 L2196.41,618.12 L2197.68,617.96 L2198.95,617.82 L2200.22,617.69 L2201.49,617.58 L2202.76,617.48 L2204.03,617.39 L2205.3,617.33 L2206.57,617.27 L2207.84,617.24 L2209.11,617.21 L2210.38,617.21 L2211.64,617.21 L2212.91,617.24 L2214.18,617.27 L2215.45,617.33 L2216.72,617.39 L2217.99,617.48 L2219.26,617.58 L2220.53,617.69 L2221.8,617.82 L2223.07,617.96 L2224.34,618.12 L2225.61,618.29 L2226.88,618.48 L2228.15,618.68 L2229.42,618.9 L2230.69,619.13 L2231.96,619.38 L2233.23,619.65 L2234.5,619.92 L2235.76,620.22 L2237.03,620.53 L2238.3,620.85 L2239.57,621.19 L2240.84,621.54 L2242.11,621.91 L2243.38,622.3 L2244.65,622.7 L2245.92,623.11 L2247.19,623.54 L2248.46,623.98 L2249.73,624.44 L2251,624.92 L2252.27,625.41 L2253.54,625.91 L2254.81,626.43 L2256.08,626.96 L2257.35,627.51 L2258.62,628.08 L2259.89,628.66 L2261.15,629.25 L2262.42,629.86 L2263.69,630.49 L2264.96,631.13 L2266.23,631.78 L2267.5,632.45 L2268.77,633.14 L2270.04,633.84 L2271.31,634.55 L2272.58,635.28 L2273.85,636.03" stroke="#FFB000" stroke-width="11" fill="none" stroke-linejoin="round" stroke-linecap="round" shape-rendering="crispEdges"/>
<path d="M242.65,711.32 L243.92,711.33 L245.19,711.36 L246.46,711.41 L247.73,711.48 L249,711.56 L250.27,711.66 L251.54,711.79 L252.81,711.93 L254.08,712.09 L255.35,712.27 L256.61,712.46 L257.88,712.68 L259.15,712.92 L260.42,713.17 L261.69,713.44 L262.96,713.73 L264.23,714.05 L265.5,714.37 L266.77,714.72 L268.04,715.09 L269.31,715.48 L270.58,715.88 L271.85,716.3 L273.12,716.75 L274.39,717.21 L275.66,717.69 L276.93,718.19 L278.2,718.7 L279.47,719.24 L280.74,719.8 L282,720.37 L283.27,720.96 L284.54,721.57 L285.81,722.21 L287.08,722.85 L288.35,723.52 L289.62,724.21 L290.89,724.92 L292.16,725.64 L293.43,726.38 L294.7,727.15 L295.97,727.93 L297.24,728.73 L298.51,729.55 L299.78,730.38 L301.05,731.24 L302.32,732.12 L303.59,733.01 L304.86,733.92 L306.13,734.85 L307.39,735.81 L308.66,736.77 L309.93,737.76 L311.2,738.77 L312.47,739.8 L313.74,740.84 L315.01,741.9 L316.28,742.99 L317.55,744.09 L318.82,745.21 L320.09,746.35 L321.36,747.5 L322.63,748.68 L323.9,749.88 L325.17,751.09 L326.44,752.32 L327.71,753.57 L328.98,754.85 L330.25,756.13 L331.52,757.44 L332.78,758.77 L334.05,760.12 L335.32,761.48 L336.59,762.86 L337.86,764.27 L339.13,765.69 L340.4,767.13 L341.67,768.59 L342.94,770.06 L344.21,771.56 L345.48,773.08 L346.75,774.61 L348.02,776.16 L349.29,777.74 L350.56,779.33 L351.83,780.94 L353.1,782.56 L354.37,784.21 L355.64,785.88 L356.91,787.56 L358.17,789.26 L359.44,790.99 L360.71,792.73 L361.98,794.49 L363.25,796.27 L364.52,798.06 L365.79,799.88 L367.06,801.72 L368.33,803.57 L369.6,805.44 L370.87,807.34 L372.14,809.25 L373.41,811.18 L374.68,813.12 L375.95,815.09 L377.22,817.08 L378.49,819.08 L379.76,821.11 L381.03,823.15 L382.3,825.21 L383.56,827.29 L384.83,829.39 L386.1,831.51 L387.37,833.64 L388.64,835.8 L389.91,837.97 L391.18,840.16 L392.45,842.38 L393.72,844.61 L394.99,846.86 L396.26,849.12 L397.53,851.41 L398.8,853.72 L400.07,856.04 L401.34,858.39 L402.61,860.75 L403.88,863.13 L405.15,865.53 L406.42,867.95 L407.69,870.39 L408.95,872.84 L410.22,875.32 L411.49,877.81 L411.92,878.65 L412.76,880.32 L414.03,882.86 L415.3,885.41 L416.57,887.98 L417.84,890.56 L419.11,893.17 L420.38,895.8 L421.65,898.44 L422.92,901.11 L424.19,903.79 L425.46,906.49 L426.73,909.21 L428,911.95 L429.27,914.71 L430.54,917.48 L431.81,920.28 L433.08,923.09 L434.34,925.93 L435.61,928.78 L436.88,931.65 L438.15,934.54 L439.42,937.45 L440.69,940.37 L441.96,943.32 L443.23,946.28 L444.5,949.27 L445.77,952.27 L447.04,955.29 L448.31,958.33 L449.58,961.39 L450.85,964.47 L452.12,967.56 L453.39,970.68 L454.66,973.81 L455.93,976.97 L457.2,980.14 L458.47,983.33 L459.73,986.54 L461,989.77 L462.27,993.01 L463.54,996.28 L464.81,999.56 L466.08,1002.87 L467.35,1006.19 L468.62,1009.53 L469.89,1012.89 L471.16,1016.27 L472.43,1019.67 L473.7,1023.08 L474.97,1026.52 L476.24,1029.97 L477.51,1033.45 L478.78,1036.94 L480.05,1040.45 L481.32,1043.98 L482.59,1047.53 L483.86,1051.09 L485.12,1054.68 L486.39,1058.28 L487.66,1061.91 L488.93,1065.55 L490.2,1069.21 L491.47,1072.89 L492.74,1076.59 L494.01,1080.31 L495.28,1084.04 L496.55,1087.8 L497.82,1084.04 L499.09,1080.31 L500.36,1076.59 L501.63,1072.89 L502.9,1069.21 L504.17,1065.55 L505.44,1061.91 L506.71,1058.28 L507.98,1054.68 L509.25,1051.09 L510.51,1047.53 L511.78,1043.98 L513.05,1040.45 L514.32,1036.94 L515.59,1033.45 L516.86,1029.97 L518.13,1026.52 L519.4,1023.08 L520.67,1019.67 L521.94,1016.27 L523.21,1012.89 L524.48,1009.53 L525.75,1006.19 L527.02,1002.87 L528.29,999.56 L529.56,996.28 L530.83,993.01 L532.1,989.77 L533.37,986.54 L534.64,983.33 L535.9,980.14 L537.17,976.97 L538.44,973.81 L539.71,970.68 L540.98,967.56 L542.25,964.47 L543.52,961.39 L544.79,958.33 L546.06,955.29 L547.33,952.27 L548.6,949.27 L549.87,946.28 L551.14,943.32 L552.41,940.37 L553.68,937.45 L554.95,934.54 L556.22,931.65 L557.49,928.78 L558.76,925.93 L560.03,923.09 L561.29,920.28 L562.56,917.48 L563.83,914.71 L565.1,911.95 L566.37,909.21 L567.64,906.49 L568.91,903.79 L570.18,901.11 L571.45,898.44 L572.72,895.8 L573.99,893.17 L575.26,890.56 L576.53,887.98 L577.8,885.41 L579.07,882.86 L580.34,880.32 L581.61,877.81 L582.88,875.32 L584.15,872.84 L585.42,870.39 L586.68,867.95 L587.95,865.53 L589.22,863.13 L590.49,860.75 L591.76,858.39 L593.03,856.04 L594.3,853.72 L595.57,851.41 L596.84,849.12 L598.11,846.86 L599.38,844.61 L600.65,842.38 L601.92,840.16 L603.19,837.97 L604.46,835.8 L605.73,833.64 L607,831.51 L608.27,829.39 L609.54,827.29 L610.81,825.21 L612.07,823.15 L613.34,821.11 L614.61,819.08 L615.88,817.08 L617.15,815.09 L618.42,813.12 L619.69,811.18 L620.96,809.25 L622.23,807.34 L623.5,805.44 L624.77,803.57 L626.04,801.72 L627.31,799.88 L628.58,798.06 L629.85,796.27 L631.12,794.49 L632.39,792.73 L633.66,790.99 L634.93,789.26 L636.2,787.56 L637.46,785.88 L638.73,784.21 L640,782.56 L641.27,780.94 L642.54,779.33 L643.81,777.74 L645.08,776.16 L646.35,774.61 L647.62,773.08 L648.89,771.56 L650.16,770.06 L651.43,768.59 L652.7,767.13 L653.97,765.69 L655.24,764.27 L656.51,762.86 L657.78,761.48 L659.05,760.12 L660.32,758.77 L661.59,757.44 L662.85,756.13 L664.12,754.85 L665.39,753.57 L666.66,752.32 L667.93,751.09 L669.2,749.88 L670.47,748.68 L671.74,747.5 L673.01,746.35 L674.28,745.21 L675.55,744.09 L676.82,742.99 L678.09,741.9 L679.36,740.84 L680.63,739.8 L681.9,738.77 L683.17,737.76 L684.44,736.77 L685.71,735.81 L686.98,734.85 L688.24,733.92 L689.51,733.01 L690.78,732.12 L692.05,731.24 L693.32,730.38 L694.59,729.55 L695.86,728.73 L697.13,727.93 L698.4,727.15 L699.67,726.38 L700.94,725.64 L702.21,724.92 L703.48,724.21 L704.75,723.52 L706.02,722.85 L707.29,722.21 L708.56,721.57 L709.83,720.96 L711.1,720.37 L712.37,719.8 L713.63,719.24 L714.9,718.7 L716.17,718.19 L717.44,717.69 L718.71,717.21 L719.98,716.75 L721.25,716.3 L722.52,715.88 L723.79,715.48 L725.06,715.09 L726.33,714.72 L727.6,714.37 L728.87,714.05 L730.14,713.73 L731.41,713.44 L732.68,713.17 L733.95,712.92 L735.22,712.68 L736.49,712.46 L737.75,712.27 L739.02,712.09 L740.29,711.93 L741.56,711.79 L742.83,711.66 L744.1,711.56 L745.37,711.48 L746.64,711.41 L747.91,711.36 L749.18,711.33 L750.45,711.32 L751.72,711.33 L752.99,711.36 L754.26,711.41 L755.53,711.48 L756.8,711.56 L758.07,711.66 L759.34,711.79 L760.61,711.93 L761.88,712.09 L763.15,712.27 L764.41,712.46 L765.68,712.68 L766.95,712.92 L768.22,713.17 L769.49,713.44 L770.76,713.73 L772.03,714.05 L773.3,714.37 L774.57,714.72 L775.84,715.09 L777.11,715.48 L778.38,715.88 L779.65,716.3 L780.92,716.75 L782.19,717.21 L783.46,717.69 L784.73,718.19 L786,718.7 L787.27,719.24 L788.54,719.8 L789.8,720.37 L791.07,720.96 L792.34,721.57 L793.61,722.21 L794.88,722.85 L796.15,723.52 L797.42,724.21 L798.69,724.92 L799.96,725.64 L801.23,726.38 L802.5,727.15 L803.77,727.93 L805.04,728.73 L806.31,729.55 L807.58,730.38 L808.85,731.24 L810.12,732.12 L811.39,733.01 L812.66,733.92 L813.93,734.85 L815.19,735.81 L816.46,736.77 L817.73,737.76 L819,738.77 L820.27,739.8 L821.54,740.84 L822.81,741.9 L824.08,742.99 L825.35,744.09 L826.62,745.21 L827.89,746.35 L829.16,747.5 L830.43,748.68 L831.7,749.88 L832.97,751.09 L834.24,752.32 L835.08,753.16 L835.51,753.57 L836.78,754.85 L838.05,756.13 L839.32,757.44 L840.58,758.77 L841.85,760.12 L843.12,761.48 L844.39,762.86 L845.66,764.27 L846.93,765.69 L848.2,767.13 L849.47,768.59 L850.74,770.06 L852.01,771.56 L853.28,773.08 L854.55,774.61 L855.82,776.16 L857.09,777.74 L858.36,779.33 L859.63,780.94 L860.9,782.56 L862.17,784.21 L863.44,785.88 L864.71,787.56 L865.97,789.26 L867.24,790.99 L868.51,792.73 L869.78,794.49 L871.05,796.27 L872.32,798.06 L873.59,799.88 L874.86,801.72 L876.13,803.57 L877.4,805.44 L878.67,807.34 L879.94,809.25 L881.21,811.18 L882.48,813.12 L883.75,815.09 L885.02,817.08 L886.29,819.08 L887.56,821.11 L888.83,823.15 L890.1,825.21 L891.36,827.29 L892.63,829.39 L893.9,831.51 L895.17,833.64 L896.44,835.8 L897.71,837.97 L898.98,840.16 L900.25,842.38 L901.52,844.61 L902.79,846.86 L904.06,849.12 L905.33,851.41 L906.6,853.72 L907.87,856.04 L909.14,858.39 L910.41,860.75 L911.68,863.13 L912.95,865.53 L914.22,867.95 L915.49,870.39 L916.75,872.84 L918.02,875.32 L919.29,877.81 L920.56,880.32 L921.83,882.86 L923.1,885.41 L924.37,887.98 L925.64,890.56 L926.91,893.17 L928.18,895.8 L929.45,898.44 L930.72,901.11 L931.99,903.79 L933.26,906.49 L934.53,909.21 L935.8,911.95 L937.07,914.71 L938.34,917.48 L939.61,920.28 L940.88,923.09 L942.14,925.93 L943.41,928.78 L944.68,931.65 L945.95,934.54 L947.22,937.45 L948.49,940.37 L949.76,943.32 L951.03,946.28 L952.3,949.27 L953.57,952.27 L954.84,955.29 L956.11,958.33 L957.38,961.39 L958.65,964.47 L959.92,967.56 L961.19,970.68 L962.46,973.81 L963.73,976.97 L965,980.14 L966.27,983.33 L967.53,986.54 L968.8,989.77 L970.07,993.01 L971.34,996.28 L972.61,999.56 L973.88,1002.87 L975.15,1006.19 L976.42,1009.53 L977.69,1012.89 L978.96,1016.27 L980.23,1019.67 L981.5,1023.08 L982.77,1026.52 L984.04,1029.97 L985.31,1033.45 L986.58,1036.94 L987.85,1040.45 L989.12,1043.98 L990.39,1047.53 L991.66,1051.09 L992.92,1054.68 L994.19,1058.28 L995.46,1061.91 L996.73,1065.55 L998,1069.21 L999.27,1072.89 L1000.54,1076.59 L1001.81,1080.31 L1003.08,1084.04 L1004.35,1087.8 L1005.62,1084.04 L1006.89,1080.31 L1008.16,1076.59 L1009.43,1072.89 L1010.7,1069.21 L1011.97,1065.55 L1013.24,1061.91 L1014.51,1058.28 L1015.78,1054.68 L1017.05,1051.09 L1018.31,1047.53 L1019.58,1043.98 L1020.85,1040.45 L1022.12,1036.94 L1023.39,1033.45 L1024.66,1029.97 L1025.93,1026.52 L1027.2,1023.08 L1028.47,1019.67 L1029.74,1016.27 L1031.01,1012.89 L1032.28,1009.53 L1033.55,1006.19 L1034.82,1002.87 L1036.09,999.56 L1037.36,996.28 L1038.63,993.01 L1039.9,989.77 L1041.17,986.54 L1042.43,983.33 L1043.7,980.14 L1044.97,976.97 L1046.24,973.81 L1047.51,970.68 L1048.78,967.56 L1050.05,964.47 L1051.32,961.39 L1052.59,958.33 L1053.86,955.29 L1055.13,952.27 L1056.4,949.27 L1057.67,946.28 L1058.94,943.32 L1060.21,940.37 L1061.48,937.45 L1062.75,934.54 L1064.02,931.65 L1065.29,928.78 L1066.56,925.93 L1067.83,923.09 L1069.09,920.28 L1070.36,917.48 L1071.63,914.71 L1072.9,911.95 L1074.17,909.21 L1075.44,906.49 L1076.71,903.79 L1077.98,901.11 L1079.25,898.44 L1080.52,895.8 L1081.79,893.17 L1083.06,890.56 L1084.33,887.98 L1085.6,885.41 L1086.87,882.86 L1088.14,880.32 L1089.41,877.81 L1090.68,875.32 L1091.95,872.84 L1093.22,870.39 L1094.48,867.95 L1095.75,865.53 L1097.02,863.13 L1098.29,860.75 L1099.56,858.39 L1100.83,856.04 L1102.1,853.72 L1103.37,851.41 L1104.64,849.12 L1105.91,846.86 L1107.18,844.61 L1108.45,842.38 L1109.72,840.16 L1110.99,837.97 L1112.26,835.8 L1113.53,833.64 L1114.8,831.51 L1116.07,829.39 L1117.34,827.29 L1118.61,825.21 L1119.87,823.15 L1121.14,821.11 L1122.41,819.08 L1123.68,817.08 L1124.95,815.09 L1126.22,813.12 L1127.49,811.18 L1128.76,809.25 L1130.03,807.34 L1131.3,805.44 L1132.57,803.57 L1133.84,801.72 L1135.11,799.88 L1136.38,798.06 L1137.65,796.27 L1138.92,794.49 L1140.19,792.73 L1141.46,790.99 L1142.73,789.26 L1144,787.56 L1145.26,785.88 L1146.53,784.21 L1147.8,782.56 L1149.07,780.94 L1150.34,779.33 L1151.61,777.74 L1152.88,776.16 L1154.15,774.61 L1155.42,773.08 L1156.69,771.56 L1157.96,770.06 L1159.23,768.59 L1160.5,767.13 L1161.77,765.69 L1163.04,764.27 L1164.31,762.86 L1165.58,761.48 L1166.85,760.12 L1168.12,758.77 L1169.39,757.44 L1170.65,756.13 L1171.92,754.85 L1173.19,753.57 L1174.46,752.32 L1175.73,751.09 L1177,749.88 L1178.27,748.68 L1179.54,747.5 L1180.81,746.35 L1182.08,745.21 L1183.35,744.09 L1184.62,742.99 L1185.89,741.9 L1187.16,740.84 L1188.43,739.8 L1189.7,738.77 L1190.97,737.76 L1192.24,736.77 L1193.51,735.81 L1194.78,734.85 L1196.04,733.92 L1197.31,733.01 L1198.58,732.12 L1199.85,731.24 L1201.12,730.38 L1202.39,729.55 L1203.66,728.73 L1204.93,727.93 L1206.2,727.15 L1207.47,726.38 L1208.74,725.64 L1210.01,724.92 L1211.28,724.21 L1212.55,723.52 L1213.82,722.85 L1215.09,722.21 L1216.36,721.57 L1217.63,720.96 L1218.9,720.37 L1220.16,719.8 L1221.43,719.24 L1222.7,718.7 L1223.97,718.19 L1225.24,717.69 L1226.51,717.21 L1227.78,716.75 L1229.05,716.3 L1230.32,715.88 L1231.59,715.48 L1232.86,715.09 L1234.13,714.72 L1235.4,714.37 L1236.67,714.05 L1237.94,713.73 L1239.21,713.44 L1240.48,713.17 L1241.75,712.92 L1243.02,712.68 L1244.29,712.46 L1245.56,712.27 L1246.82,712.09 L1248.09,711.93 L1249.36,711.79 L1250.63,711.66 L1251.9,711.56 L1253.17,711.48 L1254.44,711.41 L1255.71,711.36 L1256.98,711.33 L1258.25,711.33 L1259.52,711.33 L1260.79,711.36 L1262.06,711.41 L1263.33,711.48 L1264.6,711.56 L1265.87,711.66 L1267.14,711.79 L1268.41,711.93 L1269.68,712.09 L1270.95,712.27 L1272.21,712.46 L1273.48,712.68 L1274.75,712.92 L1276.02,713.17 L1277.29,713.44 L1278.56,713.73 L1279.83,714.05 L1281.1,714.37 L1282.37,714.72 L1283.64,715.09 L1284.91,715.48 L1286.18,715.88 L1287.45,716.3 L1288.72,716.75 L1289.99,717.21 L1291.26,717.69 L1292.53,718.19 L1293.8,718.7 L1295.07,719.24 L1296.34,719.8 L1297.6,720.37 L1298.87,720.96 L1300.14,721.57 L1301.41,722.21 L1302.68,722.85 L1303.95,723.52 L1305.22,724.21 L1306.49,724.92 L1307.76,725.64 L1309.03,726.38 L1310.3,727.15 L1311.57,727.93 L1312.84,728.73 L1314.11,729.55 L1315.38,730.38 L1316.65,731.24 L1317.92,732.12 L1319.19,733.01 L1320.46,733.92 L1321.73,734.85 L1322.99,735.81 L1324.26,736.77 L1325.53,737.76 L1326.8,738.77 L1328.07,739.8 L1329.34,740.84 L1330.61,741.9 L1331.88,742.99 L1333.15,744.09 L1334.42,745.21 L1335.69,746.35 L1336.96,747.5 L1338.23,748.68 L1339.5,749.88 L1340.77,751.09 L1342.04,752.32 L1343.31,753.57 L1344.58,754.85 L1345.85,756.13 L1347.12,757.44 L1348.38,758.77 L1349.65,760.12 L1350.92,761.48 L1352.19,762.86 L1353.46,764.27 L1354.73,765.69 L1356,767.13 L1357.27,768.59 L1358.54,770.06 L1359.81,771.56 L1361.08,773.08 L1362.35,774.61 L1363.62,776.16 L1364.89,777.74 L1366.16,779.33 L1367.43,780.94 L1368.7,782.56 L1369.97,784.21 L1371.24,785.88 L1372.51,787.56 L1373.77,789.26 L1375.04,790.99 L1376.31,792.73 L1377.58,794.49 L1378.85,796.27 L1380.12,798.06 L1381.39,799.88 L1382.66,801.72 L1383.93,803.57 L1385.2,805.44 L1386.47,807.34 L1387.74,809.25 L1389.01,811.18 L1390.28,813.12 L1391.55,815.09 L1392.82,817.08 L1394.09,819.08 L1395.36,821.11 L1396.63,823.15 L1397.9,825.21 L1399.16,827.29 L1400.43,829.39 L1401.7,831.51 L1402.97,833.64 L1404.24,835.8 L1405.51,837.97 L1406.78,840.16 L1408.05,842.38 L1409.32,844.61 L1410.59,846.86 L1411.86,849.12 L1413.13,851.41 L1414.4,853.72 L1415.67,856.04 L1416.94,858.39 L1418.21,860.75 L1419.48,863.13 L1420.75,865.53 L1422.02,867.95 L1423.28,870.39 L1424.55,872.84 L1425.82,875.32 L1427.09,877.81 L1428.36,880.32 L1429.63,882.86 L1430.9,885.41 L1432.17,887.98 L1433.44,890.56 L1434.71,893.17 L1435.98,895.8 L1437.25,898.44 L1438.52,901.11 L1439.79,903.79 L1441.06,906.49 L1442.33,909.21 L1443.6,911.95 L1444.87,914.71 L1446.14,917.48 L1447.41,920.28 L1448.67,923.09 L1449.94,925.93 L1451.21,928.78 L1452.48,931.65 L1453.75,934.54 L1455.02,937.45 L1456.29,940.37 L1457.56,943.32 L1458.83,946.28 L1460.1,949.27 L1461.37,952.27 L1462.64,955.29 L1463.91,958.33 L1465.18,961.39 L1466.45,964.47 L1467.72,967.56 L1468.99,970.68 L1470.26,973.81 L1471.53,976.97 L1472.8,980.14 L1474.07,983.33 L1475.33,986.54 L1476.6,989.77 L1477.87,993.01 L1479.14,996.28 L1480.41,999.56 L1481.68,1002.87 L1482.95,1006.19 L1484.22,1009.53 L1485.49,1012.89 L1486.76,1016.27 L1488.03,1019.67 L1489.3,1023.08 L1490.57,1026.52 L1491.84,1029.97 L1493.11,1033.45 L1494.38,1036.94 L1495.65,1040.45 L1496.92,1043.98 L1498.19,1047.53 L1499.45,1051.09 L1500.72,1054.68 L1501.99,1058.28 L1503.26,1061.91 L1504.53,1065.55 L1505.8,1069.21 L1507.07,1072.89 L1508.34,1076.59 L1509.61,1080.31 L1510.88,1084.04 L1512.15,1087.8 L1513.42,1084.04 L1514.69,1080.31 L1515.96,1076.59 L1517.23,1072.89 L1518.5,1069.21 L1519.77,1065.55 L1521.04,1061.91 L1522.31,1058.28 L1523.58,1054.68 L1524.85,1051.09 L1526.11,1047.53 L1527.38,1043.98 L1528.65,1040.45 L1529.92,1036.94 L1531.19,1033.45 L1532.46,1029.97 L1533.73,1026.52 L1535,1023.08 L1536.27,1019.67 L1537.54,1016.27 L1538.81,1012.89 L1540.08,1009.53 L1541.35,1006.19 L1542.62,1002.87 L1543.89,999.56 L1545.16,996.28 L1546.43,993.01 L1547.7,989.77 L1548.97,986.54 L1550.24,983.33 L1551.5,980.14 L1552.77,976.97 L1554.04,973.81 L1555.31,970.68 L1556.58,967.56 L1557.85,964.47 L1559.12,961.39 L1560.39,958.33 L1561.66,955.29 L1562.93,952.27 L1564.2,949.27 L1565.47,946.28 L1566.74,943.32 L1568.01,940.37 L1569.28,937.45 L1570.55,934.54 L1571.82,931.65 L1573.09,928.78 L1574.36,925.93 L1575.62,923.09 L1576.89,920.28 L1578.16,917.48 L1579.43,914.71 L1580.7,911.95 L1581.97,909.21 L1583.24,906.49 L1584.51,903.79 L1585.78,901.11 L1587.05,898.44 L1588.32,895.8 L1589.59,893.17 L1590.86,890.56 L1592.13,887.98 L1593.4,885.41 L1594.67,882.86 L1595.94,880.32 L1597.21,877.81 L1598.48,875.32 L1599.75,872.84 L1601.02,870.39 L1602.28,867.95 L1603.55,865.53 L1604.82,863.13 L1606.09,860.75 L1607.36,858.39 L1608.63,856.04 L1609.9,853.72 L1611.17,851.41 L1612.44,849.12 L1613.71,846.86 L1614.98,844.61 L1616.25,842.38 L1617.52,840.16 L1618.79,837.97 L1620.06,835.8 L1621.33,833.64 L1622.6,831.51 L1623.87,829.39 L1625.14,827.29 L1626.41,825.21 L1627.67,823.15 L1628.94,821.11 L1630.21,819.08 L1631.48,817.08 L1632.75,815.09 L1634.02,813.12 L1635.29,811.18 L1636.56,809.25 L1637.83,807.34 L1639.1,805.44 L1640.37,803.57 L1641.64,801.72 L1642.91,799.88 L1644.18,798.06 L1645.45,796.27 L1646.72,794.49 L1647.99,792.73 L1649.26,790.99 L1650.53,789.26 L1651.8,787.56 L1653.06,785.88 L1654.33,784.21 L1655.6,782.56 L1656.87,780.94 L1658.14,779.33 L1659.41,777.74 L1660.68,776.16 L1661.95,774.61 L1663.22,773.08 L1664.49,771.56 L1665.76,770.06 L1667.03,768.59 L1668.3,767.13 L1669.57,765.69 L1670.84,764.27 L1672.11,762.86 L1673.38,761.48 L1674.65,760.12 L1675.92,758.77 L1677.19,757.44 L1678.45,756.13 L1679.72,754.85 L1680.99,753.57 L1681.42,753.16 L1682.26,752.32 L1683.53,751.09 L1684.8,749.88 L1686.07,748.68 L1687.34,747.5 L1688.61,746.35 L1689.88,745.21 L1691.15,744.09 L1692.42,742.99 L1693.69,741.9 L1694.96,740.84 L1696.23,739.8 L1697.5,738.77 L1698.77,737.76 L1700.04,736.77 L1701.31,735.81 L1702.58,734.85 L1703.84,733.92 L1705.11,733.01 L1706.38,732.12 L1707.65,731.24 L1708.92,730.38 L1710.19,729.55 L1711.46,728.73 L1712.73,727.93 L1714,727.15 L1715.27,726.38 L1716.54,725.64 L1717.81,724.92 L1719.08,724.21 L1720.35,723.52 L1721.62,722.85 L1722.89,722.21 L1724.16,721.57 L1725.43,720.96 L1726.7,720.37 L1727.97,719.8 L1729.23,719.24 L1730.5,718.7 L1731.77,718.19 L1733.04,717.69 L1734.31,717.21 L1735.58,716.75 L1736.85,716.3 L1738.12,715.88 L1739.39,715.48 L1740.66,715.09 L1741.93,714.72 L1743.2,714.37 L1744.47,714.05 L1745.74,713.73 L1747.01,713.44 L1748.28,713.17 L1749.55,712.92 L1750.82,712.68 L1752.09,712.46 L1753.36,712.27 L1754.62,712.09 L1755.89,711.93 L1757.16,711.79 L1758.43,711.66 L1759.7,711.56 L1760.97,711.48 L1762.24,711.41 L1763.51,711.36 L1764.78,711.33 L1766.05,711.32 L1767.32,711.33 L1768.59,711.36 L1769.86,711.41 L1771.13,711.48 L1772.4,711.56 L1773.67,711.66 L1774.94,711.79 L1776.21,711.93 L1777.48,712.09 L1778.74,712.27 L1780.01,712.46 L1781.28,712.68 L1782.55,712.92 L1783.82,713.17 L1785.09,713.44 L1786.36,713.73 L1787.63,714.05 L1788.9,714.37 L1790.17,714.72 L1791.44,715.09 L1792.71,715.48 L1793.98,715.88 L1795.25,716.3 L1796.52,716.75 L1797.79,717.21 L1799.06,717.69 L1800.33,718.19 L1801.6,718.7 L1802.87,719.24 L1804.13,719.8 L1805.4,720.37 L1806.67,720.96 L1807.94,721.57 L1809.21,722.21 L1810.48,722.85 L1811.75,723.52 L1813.02,724.21 L1814.29,724.92 L1815.56,725.64 L1816.83,726.38 L1818.1,727.15 L1819.37,727.93 L1820.64,728.73 L1821.91,729.55 L1823.18,730.38 L1824.45,731.24 L1825.72,732.12 L1826.99,733.01 L1828.26,733.92 L1829.53,734.85 L1830.79,735.81 L1832.06,736.77 L1833.33,737.76 L1834.6,738.77 L1835.87,739.8 L1837.14,740.84 L1838.41,741.9 L1839.68,742.99 L1840.95,744.09 L1842.22,745.21 L1843.49,746.35 L1844.76,747.5 L1846.03,748.68 L1847.3,749.88 L1848.57,751.09 L1849.84,752.32 L1851.11,753.57 L1852.38,754.85 L1853.65,756.13 L1854.91,757.44 L1856.18,758.77 L1857.45,760.12 L1858.72,761.48 L1859.99,762.86 L1861.26,764.27 L1862.53,765.69 L1863.8,767.13 L1865.07,768.59 L1866.34,770.06 L1867.61,771.56 L1868.88,773.08 L1870.15,774.61 L1871.42,776.16 L1872.69,777.74 L1873.96,779.33 L1875.23,780.94 L1876.5,782.56 L1877.77,784.21 L1879.04,785.88 L1880.31,787.56 L1881.57,789.26 L1882.84,790.99 L1884.11,792.73 L1885.38,794.49 L1886.65,796.27 L1887.92,798.06 L1889.19,799.88 L1890.46,801.72 L1891.73,803.57 L1893,805.44 L1894.27,807.34 L1895.54,809.25 L1896.81,811.18 L1898.08,813.12 L1899.35,815.09 L1900.62,817.08 L1901.89,819.08 L1903.16,821.11 L1904.43,823.15 L1905.7,825.21 L1906.96,827.29 L1908.23,829.39 L1909.5,831.51 L1910.77,833.64 L1912.04,835.8 L1913.31,837.97 L1914.58,840.16 L1915.85,842.38 L1917.12,844.61 L1918.39,846.86 L1919.66,849.12 L1920.93,851.41 L1922.2,853.72 L1923.47,856.04 L1924.74,858.39 L1926.01,860.75 L1927.28,863.13 L1928.55,865.53 L1929.82,867.95 L1931.09,870.39 L1932.35,872.84 L1933.62,875.32 L1934.89,877.81 L1936.16,880.32 L1937.43,882.86 L1938.7,885.41 L1939.97,887.98 L1941.24,890.56 L1942.51,893.17 L1943.78,895.8 L1945.05,898.44 L1946.32,901.11 L1947.59,903.79 L1948.86,906.49 L1950.13,909.21 L1951.4,911.95 L1952.67,914.71 L1953.94,917.48 L1955.21,920.28 L1956.48,923.09 L1957.74,925.93 L1959.01,928.78 L1960.28,931.65 L1961.55,934.54 L1962.82,937.45 L1964.09,940.37 L1965.36,943.32 L1966.63,946.28 L1967.9,949.27 L1969.17,952.27 L1970.44,955.29 L1971.71,958.33 L1972.98,961.39 L1974.25,964.47 L1975.52,967.56 L1976.79,970.68 L1978.06,973.81 L1979.33,976.97 L1980.6,980.14 L1981.87,983.33 L1983.13,986.54 L1984.4,989.77 L1985.67,993.01 L1986.94,996.28 L1988.21,999.56 L1989.48,1002.87 L1990.75,1006.19 L1992.02,1009.53 L1993.29,1012.89 L1994.56,1016.27 L1995.83,1019.67 L1997.1,1023.08 L1998.37,1026.52 L1999.64,1029.97 L2000.91,1033.45 L2002.18,1036.94 L2003.45,1040.45 L2004.72,1043.98 L2005.99,1047.53 L2007.26,1051.09 L2008.52,1054.68 L2009.79,1058.28 L2011.06,1061.91 L2012.33,1065.55 L2013.6,1069.21 L2014.87,1072.89 L2016.14,1076.59 L2017.41,1080.31 L2018.68,1084.04 L2019.95,1087.8 L2021.22,1084.04 L2022.49,1080.31 L2023.76,1076.59 L2025.03,1072.89 L2026.3,1069.21 L2027.57,1065.55 L2028.84,1061.91 L2030.11,1058.28 L2031.38,1054.68 L2032.65,1051.09 L2033.91,1047.53 L2035.18,1043.98 L2036.45,1040.45 L2037.72,1036.94 L2038.99,1033.45 L2040.26,1029.97 L2041.53,1026.52 L2042.8,1023.08 L2044.07,1019.67 L2045.34,1016.27 L2046.61,1012.89 L2047.88,1009.53 L2049.15,1006.19 L2050.42,1002.87 L2051.69,999.56 L2052.96,996.28 L2054.23,993.01 L2055.5,989.77 L2056.77,986.54 L2058.03,983.33 L2059.3,980.14 L2060.57,976.97 L2061.84,973.81 L2063.11,970.68 L2064.38,967.56 L2065.65,964.47 L2066.92,961.39 L2068.19,958.33 L2069.46,955.29 L2070.73,952.27 L2072,949.27 L2073.27,946.28 L2074.54,943.32 L2075.81,940.37 L2077.08,937.45 L2078.35,934.54 L2079.62,931.65 L2080.89,928.78 L2082.16,925.93 L2083.42,923.09 L2084.69,920.28 L2085.96,917.48 L2087.23,914.71 L2088.5,911.95 L2089.77,909.21 L2091.04,906.49 L2092.31,903.79 L2093.58,901.11 L2094.85,898.44 L2096.12,895.8 L2097.39,893.17 L2098.66,890.56 L2099.93,887.98 L2101.2,885.41 L2102.47,882.86 L2103.74,880.32 L2104.58,878.65 L2105.01,877.81 L2106.28,875.32 L2107.55,872.84 L2108.81,870.39 L2110.08,867.95 L2111.35,865.53 L2112.62,863.13 L2113.89,860.75 L2115.16,858.39 L2116.43,856.04 L2117.7,853.72 L2118.97,851.41 L2120.24,849.12 L2121.51,846.86 L2122.78,844.61 L2124.05,842.38 L2125.32,840.16 L2126.59,837.97 L2127.86,835.8 L2129.13,833.64 L2130.4,831.51 L2131.67,829.39 L2132.94,827.29 L2134.2,825.21 L2135.47,823.15 L2136.74,821.11 L2138.01,819.08 L2139.28,817.08 L2140.55,815.09 L2141.82,813.12 L2143.09,811.18 L2144.36,809.25 L2145.63,807.34 L2146.9,805.44 L2148.17,803.57 L2149.44,801.72 L2150.71,799.88 L2151.98,798.06 L2153.25,796.27 L2154.52,794.49 L2155.79,792.73 L2157.06,790.99 L2158.33,789.26 L2159.59,787.56 L2160.86,785.88 L2162.13,784.21 L2163.4,782.56 L2164.67,780.94 L2165.94,779.33 L2167.21,777.74 L2168.48,776.16 L2169.75,774.61 L2171.02,773.08 L2172.29,771.56 L2173.56,770.06 L2174.83,768.59 L2176.1,767.13 L2177.37,765.69 L2178.64,764.27 L2179.91,762.86 L2181.18,761.48 L2182.45,760.12 L2183.72,758.77 L2184.98,757.44 L2186.25,756.13 L2187.52,754.85 L2188.79,753.57 L2190.06,752.32 L2191.33,751.09 L2192.6,749.88 L2193.87,748.68 L2195.14,747.5 L2196.41,746.35 L2197.68,745.21 L2198.95,744.09 L2200.22,742.99 L2201.49,741.9 L2202.76,740.84 L2204.03,739.8 L2205.3,738.77 L2206.57,737.76 L2207.84,736.77 L2209.11,735.81 L2210.38,734.85 L2211.64,733.92 L2212.91,733.01 L2214.18,732.12 L2215.45,731.24 L2216.72,730.38 L2217.99,729.55 L2219.26,728.73 L2220.53,727.93 L2221.8,727.15 L2223.07,726.38 L2224.34,725.64 L2225.61,724.92 L2226.88,724.21 L2228.15,723.52 L2229.42,722.85 L2230.69,722.21 L2231.96,721.57 L2233.23,720.96 L2234.5,720.37 L2235.76,719.8 L2237.03,719.24 L2238.3,718.7 L2239.57,718.19 L2240.84,717.69 L2242.11,717.21 L2243.38,716.75 L2244.65,716.3 L2245.92,715.88 L2247.19,715.48 L2248.46,715.09 L2249.73,714.72 L2251,714.37 L2252.27,714.05 L2253.54,713.73 L2254.81,713.44 L2256.08,713.17 L2257.35,712.92 L2258.62,712.68 L2259.89,712.46 L2261.15,712.27 L2262.42,712.09 L2263.69,711.93 L2264.96,711.79 L2266.23,711.66 L2267.5,711.56 L2268.77,711.48 L2270.04,711.41 L2271.31,711.36 L2272.58,711.33 L2273.85,711.33" stroke="#FF00FF" stroke-width="11" fill="none" stroke-linejoin="round" stroke-linecap="round" shape-rendering="crispEdges"/>
<path d="M242.65,786.62 L243.92,787.38 L245.19,788.17 L246.46,788.98 L247.73,789.81 L249,790.67 L250.27,791.54 L251.54,792.44 L252.81,793.37 L254.08,794.31 L255.35,795.28 L256.61,796.27 L257.88,797.28 L259.15,798.32 L260.42,799.37 L261.69,800.46 L262.96,801.56 L264.23,802.68 L265.5,803.83 L266.77,805 L268.04,806.2 L269.31,807.41 L270.58,808.65 L271.85,809.91 L273.12,811.2 L274.39,812.5 L275.66,813.83 L276.93,815.18 L278.2,816.56 L279.47,817.95 L280.74,819.37 L282,820.82 L283.27,822.28 L284.54,823.77 L285.81,825.28 L287.08,826.81 L288.35,828.36 L289.62,829.94 L290.89,831.54 L292.16,833.16 L293.43,834.81 L294.7,836.48 L295.97,838.17 L297.24,839.88 L298.51,841.62 L299.78,843.37 L301.05,845.15 L302.32,846.96 L303.59,848.78 L304.86,850.63 L306.13,852.5 L307.39,854.4 L308.66,856.31 L309.93,858.25 L311.2,860.21 L312.47,862.2 L313.74,864.2 L315.01,866.23 L316.28,868.28 L317.55,870.36 L318.82,872.46 L320.09,874.58 L321.36,876.72 L322.63,878.88 L323.9,881.07 L325.17,883.28 L326.44,885.51 L327.71,887.77 L328.98,890.05 L330.25,892.35 L331.52,894.67 L332.78,897.01 L334.05,899.38 L335.32,901.77 L336.59,904.19 L337.86,906.62 L339.13,909.08 L340.4,911.56 L341.67,914.06 L342.94,916.59 L344.21,919.14 L345.48,921.71 L346.75,924.3 L348.02,926.92 L349.29,929.56 L350.56,932.22 L351.83,934.91 L353.1,937.61 L354.37,940.34 L355.64,943.09 L356.91,945.87 L358.17,948.67 L359.44,951.49 L360.71,954.33 L361.98,957.19 L363.25,960.08 L364.52,962.99 L365.79,965.92 L367.06,968.88 L368.33,971.86 L369.6,974.86 L370.87,977.88 L372.14,980.93 L373.41,983.99 L374.68,987.09 L375.95,990.2 L377.22,993.33 L378.49,996.49 L379.76,999.67 L381.03,1002.88 L382.3,1006.1 L383.56,1009.35 L384.83,1012.63 L386.1,1015.92 L387.37,1019.24 L388.64,1022.58 L389.91,1025.94 L391.18,1029.32 L392.45,1032.73 L393.72,1036.16 L394.99,1039.61 L396.26,1043.09 L397.53,1046.58 L398.8,1050.1 L400.07,1053.65 L401.34,1057.21 L402.61,1060.8 L403.88,1064.41 L405.15,1068.04 L406.42,1071.7 L407.69,1075.38 L408.95,1079.08 L410.22,1082.8 L411.49,1086.55 L411.92,1087.8 L412.76,1085.3 L414.03,1081.56 L415.3,1077.84 L416.57,1074.15 L417.84,1070.48 L419.11,1066.83 L420.38,1063.2 L421.65,1059.6 L422.92,1056.02 L424.19,1052.46 L425.46,1048.93 L426.73,1045.42 L428,1041.93 L429.27,1038.46 L430.54,1035.01 L431.81,1031.59 L433.08,1028.19 L434.34,1024.81 L435.61,1021.46 L436.88,1018.13 L438.15,1014.82 L439.42,1011.53 L440.69,1008.27 L441.96,1005.03 L443.23,1001.81 L444.5,998.61 L445.77,995.44 L447.04,992.29 L448.31,989.16 L449.58,986.05 L450.85,982.97 L452.12,979.91 L453.39,976.87 L454.66,973.85 L455.93,970.86 L457.2,967.89 L458.47,964.94 L459.73,962.02 L461,959.12 L462.27,956.24 L463.54,953.38 L464.81,950.54 L466.08,947.73 L467.35,944.94 L468.62,942.17 L469.89,939.43 L471.16,936.71 L472.43,934.01 L473.7,931.33 L474.97,928.68 L476.24,926.05 L477.51,923.44 L478.78,920.85 L480.05,918.29 L481.32,915.75 L482.59,913.23 L483.86,910.73 L485.12,908.26 L486.39,905.81 L487.66,903.38 L488.93,900.97 L490.2,898.59 L491.47,896.23 L492.74,893.89 L494.01,891.58 L495.28,889.28 L496.55,887.01 L497.82,884.77 L499.09,882.54 L500.36,880.34 L501.63,878.16 L502.9,876 L504.17,873.87 L505.44,871.75 L506.71,869.67 L507.98,867.6 L509.25,865.55 L510.51,863.53 L511.78,861.53 L513.05,859.56 L514.32,857.6 L515.59,855.67 L516.86,853.76 L518.13,851.88 L519.4,850.01 L520.67,848.17 L521.94,846.35 L523.21,844.56 L524.48,842.79 L525.75,841.03 L527.02,839.31 L528.29,837.6 L529.56,835.92 L530.83,834.26 L532.1,832.62 L533.37,831.01 L534.64,829.41 L535.9,827.84 L537.17,826.3 L538.44,824.77 L539.71,823.27 L540.98,821.79 L542.25,820.33 L543.52,818.9 L544.79,817.49 L546.06,816.1 L547.33,814.73 L548.6,813.39 L549.87,812.06 L551.14,810.77 L552.41,809.49 L553.68,808.24 L554.95,807 L556.22,805.8 L557.49,804.61 L558.76,803.45 L560.03,802.31 L561.29,801.19 L562.56,800.09 L563.83,799.02 L565.1,797.97 L566.37,796.94 L567.64,795.94 L568.91,794.95 L570.18,793.99 L571.45,793.06 L572.72,792.14 L573.99,791.25 L575.26,790.38 L576.53,789.53 L577.8,788.71 L579.07,787.91 L580.34,787.13 L581.61,786.37 L582.88,785.64 L584.15,784.92 L585.42,784.24 L586.68,783.57 L587.95,782.93 L589.22,782.3 L590.49,781.71 L591.76,781.13 L593.03,780.58 L594.3,780.05 L595.57,779.54 L596.84,779.05 L598.11,778.59 L599.38,778.15 L600.65,777.73 L601.92,777.33 L603.19,776.96 L604.46,776.61 L605.73,776.28 L607,775.98 L608.27,775.7 L609.54,775.44 L610.81,775.2 L612.07,774.99 L613.34,774.79 L614.61,774.62 L615.88,774.48 L617.15,774.35 L618.42,774.25 L619.69,774.17 L620.96,774.12 L622.23,774.08 L623.5,774.07 L624.77,774.08 L626.04,774.12 L627.31,774.17 L628.58,774.25 L629.85,774.35 L631.12,774.48 L632.39,774.62 L633.66,774.79 L634.93,774.99 L636.2,775.2 L637.46,775.44 L638.73,775.7 L640,775.98 L641.27,776.28 L642.54,776.61 L643.81,776.96 L645.08,777.33 L646.35,777.73 L647.62,778.15 L648.89,778.59 L650.16,779.05 L651.43,779.54 L652.7,780.05 L653.97,780.58 L655.24,781.13 L656.51,781.71 L657.78,782.3 L659.05,782.93 L660.32,783.57 L661.59,784.24 L662.85,784.92 L664.12,785.64 L665.39,786.37 L666.66,787.13 L667.93,787.91 L669.2,788.71 L670.47,789.53 L671.74,790.38 L673.01,791.25 L674.28,792.14 L675.55,793.06 L676.82,793.99 L678.09,794.95 L679.36,795.94 L680.63,796.94 L681.9,797.97 L683.17,799.02 L684.44,800.09 L685.71,801.19 L686.98,802.31 L688.24,803.45 L689.51,804.61 L690.78,805.8 L692.05,807 L693.32,808.24 L694.59,809.49 L695.86,810.77 L697.13,812.06 L698.4,813.39 L699.67,814.73 L700.94,816.1 L702.21,817.49 L703.48,818.9 L704.75,820.33 L706.02,821.79 L707.29,823.27 L708.56,824.77 L709.83,826.3 L711.1,827.84 L712.37,829.41 L713.63,831.01 L714.9,832.62 L716.17,834.26 L717.44,835.92 L718.71,837.6 L719.98,839.31 L721.25,841.03 L722.52,842.79 L723.79,844.56 L725.06,846.35 L726.33,848.17 L727.6,850.01 L728.87,851.88 L730.14,853.76 L731.41,855.67 L732.68,857.6 L733.95,859.56 L735.22,861.53 L736.49,863.53 L737.75,865.55 L739.02,867.6 L740.29,869.67 L741.56,871.75 L742.83,873.87 L744.1,876 L745.37,878.16 L746.64,880.34 L747.91,882.54 L749.18,884.77 L750.45,887.01 L751.72,889.28 L752.99,891.58 L754.26,893.89 L755.53,896.23 L756.8,898.59 L758.07,900.97 L759.34,903.38 L760.61,905.81 L761.88,908.26 L763.15,910.73 L764.41,913.23 L765.68,915.75 L766.95,918.29 L768.22,920.85 L769.49,923.44 L770.76,926.05 L772.03,928.68 L773.3,931.33 L774.57,934.01 L775.84,936.71 L777.11,939.43 L778.38,942.17 L779.65,944.94 L780.92,947.73 L782.19,950.54 L783.46,953.38 L784.73,956.24 L786,959.12 L787.27,962.02 L788.54,964.94 L789.8,967.89 L791.07,970.86 L792.34,973.85 L793.61,976.87 L794.88,979.91 L796.15,982.97 L797.42,986.05 L798.69,989.16 L799.96,992.29 L801.23,995.44 L802.5,998.61 L803.77,1001.81 L805.04,1005.03 L806.31,1008.27 L807.58,1011.53 L808.85,1014.82 L810.12,1018.13 L811.39,1021.46 L812.66,1024.81 L813.93,1028.19 L815.19,1031.59 L816.46,1035.01 L817.73,1038.46 L819,1041.93 L820.27,1045.42 L821.54,1048.93 L822.81,1052.46 L824.08,1056.02 L825.35,1059.6 L826.62,1063.2 L827.89,1066.83 L829.16,1070.48 L830.43,1074.15 L831.7,1077.84 L832.97,1081.56 L834.24,1085.3 L835.08,1087.8 L835.51,1086.55 L836.78,1082.8 L838.05,1079.08 L839.32,1075.38 L840.58,1071.7 L841.85,1068.04 L843.12,1064.41 L844.39,1060.8 L845.66,1057.21 L846.93,1053.65 L848.2,1050.1 L849.47,1046.58 L850.74,1043.09 L852.01,1039.61 L853.28,1036.16 L854.55,1032.73 L855.82,1029.32 L857.09,1025.94 L858.36,1022.58 L859.63,1019.24 L860.9,1015.92 L862.17,1012.63 L863.44,1009.35 L864.71,1006.1 L865.97,1002.88 L867.24,999.67 L868.51,996.49 L869.78,993.33 L871.05,990.2 L872.32,987.09 L873.59,983.99 L874.86,980.93 L876.13,977.88 L877.4,974.86 L878.67,971.86 L879.94,968.88 L881.21,965.92 L882.48,962.99 L883.75,960.08 L885.02,957.19 L886.29,954.33 L887.56,951.49 L888.83,948.67 L890.1,945.87 L891.36,943.09 L892.63,940.34 L893.9,937.61 L895.17,934.91 L896.44,932.22 L897.71,929.56 L898.98,926.92 L900.25,924.3 L901.52,921.71 L902.79,919.14 L904.06,916.59 L905.33,914.06 L906.6,911.56 L907.87,909.08 L909.14,906.62 L910.41,904.19 L911.68,901.77 L912.95,899.38 L914.22,897.01 L915.49,894.67 L916.75,892.35 L918.02,890.05 L919.29,887.77 L920.56,885.51 L921.83,883.28 L923.1,881.07 L924.37,878.88 L925.64,876.72 L926.91,874.58 L928.18,872.46 L929.45,870.36 L930.72,868.28 L931.99,866.23 L933.26,864.2 L934.53,862.2 L935.8,860.21 L937.07,858.25 L938.34,856.31 L939.61,854.4 L940.88,852.5 L942.14,850.63 L943.41,848.78 L944.68,846.96 L945.95,845.15 L947.22,843.37 L948.49,841.62 L949.76,839.88 L951.03,838.17 L952.3,836.48 L953.57,834.81 L954.84,833.16 L956.11,831.54 L957.38,829.94 L958.65,828.36 L959.92,826.81 L961.19,825.28 L962.46,823.77 L963.73,822.28 L965,820.82 L966.27,819.37 L967.53,817.95 L968.8,816.56 L970.07,815.18 L971.34,813.83 L972.61,812.5 L973.88,811.2 L975.15,809.91 L976.42,808.65 L977.69,807.41 L978.96,806.2 L980.23,805 L981.5,803.83 L982.77,802.68 L984.04,801.56 L985.31,800.46 L986.58,799.37 L987.85,798.32 L989.12,797.28 L990.39,796.27 L991.66,795.28 L992.92,794.31 L994.19,793.37 L995.46,792.44 L996.73,791.54 L998,790.67 L999.27,789.81 L1000.54,788.98 L1001.81,788.17 L1003.08,787.38 L1004.35,786.62 L1005.62,785.88 L1006.89,785.16 L1008.16,784.46 L1009.43,783.79 L1010.7,783.14 L1011.97,782.51 L1013.24,781.9 L1014.51,781.32 L1015.78,780.76 L1017.05,780.22 L1018.31,779.7 L1019.58,779.21 L1020.85,778.74 L1022.12,778.29 L1023.39,777.87 L1024.66,777.46 L1025.93,777.08 L1027.2,776.73 L1028.47,776.39 L1029.74,776.08 L1031.01,775.79 L1032.28,775.52 L1033.55,775.28 L1034.82,775.05 L1036.09,774.86 L1037.36,774.68 L1038.63,774.52 L1039.9,774.39 L1041.17,774.28 L1042.43,774.2 L1043.7,774.13 L1044.97,774.09 L1046.24,774.07 L1046.67,774.07 L1047.51,774.08 L1048.78,774.1 L1050.05,774.15 L1051.32,774.22 L1052.59,774.32 L1053.86,774.43 L1055.13,774.57 L1056.4,774.73 L1057.67,774.92 L1058.94,775.13 L1060.21,775.36 L1061.48,775.61 L1062.75,775.88 L1064.02,776.18 L1065.29,776.5 L1066.56,776.84 L1067.83,777.21 L1069.09,777.6 L1070.36,778.01 L1071.63,778.44 L1072.9,778.89 L1074.17,779.37 L1075.44,779.87 L1076.71,780.4 L1077.98,780.94 L1079.25,781.51 L1080.52,782.1 L1081.79,782.72 L1083.06,783.35 L1084.33,784.01 L1085.6,784.69 L1086.87,785.4 L1088.14,786.12 L1089.41,786.87 L1090.68,787.64 L1091.95,788.44 L1093.22,789.26 L1094.48,790.09 L1095.75,790.96 L1097.02,791.84 L1098.29,792.75 L1099.56,793.68 L1100.83,794.63 L1102.1,795.61 L1103.37,796.6 L1104.64,797.62 L1105.91,798.67 L1107.18,799.73 L1108.45,800.82 L1109.72,801.93 L1110.99,803.06 L1112.26,804.22 L1113.53,805.4 L1114.8,806.6 L1116.07,807.82 L1117.34,809.07 L1118.61,810.34 L1119.87,811.63 L1121.14,812.94 L1122.41,814.28 L1123.68,815.64 L1124.95,817.02 L1126.22,818.42 L1127.49,819.85 L1128.76,821.3 L1130.03,822.77 L1131.3,824.27 L1132.57,825.78 L1133.84,827.32 L1135.11,828.89 L1136.38,830.47 L1137.65,832.08 L1138.92,833.71 L1140.19,835.36 L1141.46,837.04 L1142.73,838.74 L1144,840.46 L1145.26,842.2 L1146.53,843.96 L1147.8,845.75 L1149.07,847.56 L1150.34,849.4 L1151.61,851.25 L1152.88,853.13 L1154.15,855.03 L1155.42,856.96 L1156.69,858.9 L1157.96,860.87 L1159.23,862.86 L1160.5,864.88 L1161.77,866.91 L1163.04,868.97 L1164.31,871.06 L1165.58,873.16 L1166.85,875.29 L1168.12,877.44 L1169.39,879.61 L1170.65,881.8 L1171.92,884.02 L1173.19,886.26 L1174.46,888.52 L1175.73,890.81 L1177,893.12 L1178.27,895.45 L1179.54,897.8 L1180.81,900.18 L1182.08,902.57 L1183.35,905 L1184.62,907.44 L1185.89,909.9 L1187.16,912.39 L1188.43,914.9 L1189.7,917.44 L1190.97,919.99 L1192.24,922.57 L1193.51,925.17 L1194.78,927.8 L1196.04,930.44 L1197.31,933.11 L1198.58,935.81 L1199.85,938.52 L1201.12,941.26 L1202.39,944.02 L1203.66,946.8 L1204.93,949.6 L1206.2,952.43 L1207.47,955.28 L1208.74,958.15 L1210.01,961.05 L1211.28,963.97 L1212.55,966.91 L1213.82,969.87 L1215.09,972.85 L1216.36,975.86 L1217.63,978.89 L1218.9,981.95 L1220.16,985.02 L1221.43,988.12 L1222.7,991.24 L1223.97,994.39 L1225.24,997.55 L1226.51,1000.74 L1227.78,1003.95 L1229.05,1007.19 L1230.32,1010.44 L1231.59,1013.72 L1232.86,1017.02 L1234.13,1020.35 L1235.4,1023.69 L1236.67,1027.06 L1237.94,1030.46 L1239.21,1033.87 L1240.48,1037.31 L1241.75,1040.77 L1243.02,1044.25 L1244.29,1047.75 L1245.56,1051.28 L1246.82,1054.83 L1248.09,1058.4 L1249.36,1062 L1250.63,1065.62 L1251.9,1069.26 L1253.17,1072.92 L1254.44,1076.61 L1255.71,1080.32 L1256.98,1084.05 L1258.25,1087.8 L1259.52,1084.05 L1260.79,1080.32 L1262.06,1076.61 L1263.33,1072.92 L1264.6,1069.26 L1265.87,1065.62 L1267.14,1062 L1268.41,1058.4 L1269.68,1054.83 L1270.95,1051.28 L1272.21,1047.75 L1273.48,1044.25 L1274.75,1040.77 L1276.02,1037.31 L1277.29,1033.87 L1278.56,1030.46 L1279.83,1027.06 L1281.1,1023.69 L1282.37,1020.35 L1283.64,1017.02 L1284.91,1013.72 L1286.18,1010.44 L1287.45,1007.19 L1288.72,1003.95 L1289.99,1000.74 L1291.26,997.55 L1292.53,994.39 L1293.8,991.24 L1295.07,988.12 L1296.34,985.02 L1297.6,981.95 L1298.87,978.89 L1300.14,975.86 L1301.41,972.85 L1302.68,969.87 L1303.95,966.91 L1305.22,963.97 L1306.49,961.05 L1307.76,958.15 L1309.03,955.28 L1310.3,952.43 L1311.57,949.6 L1312.84,946.8 L1314.11,944.02 L1315.38,941.26 L1316.65,938.52 L1317.92,935.81 L1319.19,933.11 L1320.46,930.44 L1321.73,927.8 L1322.99,925.17 L1324.26,922.57 L1325.53,919.99 L1326.8,917.44 L1328.07,914.9 L1329.34,912.39 L1330.61,909.9 L1331.88,907.44 L1333.15,905 L1334.42,902.57 L1335.69,900.18 L1336.96,897.8 L1338.23,895.45 L1339.5,893.12 L1340.77,890.81 L1342.04,888.52 L1343.31,886.26 L1344.58,884.02 L1345.85,881.8 L1347.12,879.61 L1348.38,877.44 L1349.65,875.29 L1350.92,873.16 L1352.19,871.06 L1353.46,868.97 L1354.73,866.91 L1356,864.88 L1357.27,862.86 L1358.54,860.87 L1359.81,858.9 L1361.08,856.96 L1362.35,855.03 L1363.62,853.13 L1364.89,851.25 L1366.16,849.4 L1367.43,847.56 L1368.7,845.75 L1369.97,843.96 L1371.24,842.2 L1372.51,840.46 L1373.77,838.74 L1375.04,837.04 L1376.31,835.36 L1377.58,833.71 L1378.85,832.08 L1380.12,830.47 L1381.39,828.89 L1382.66,827.32 L1383.93,825.78 L1385.2,824.27 L1386.47,822.77 L1387.74,821.3 L1389.01,819.85 L1390.28,818.42 L1391.55,817.02 L1392.82,815.64 L1394.09,814.28 L1395.36,812.94 L1396.63,811.63 L1397.9,810.34 L1399.16,809.07 L1400.43,807.82 L1401.7,806.6 L1402.97,805.4 L1404.24,804.22 L1405.51,803.06 L1406.78,801.93 L1408.05,800.82 L1409.32,799.73 L1410.59,798.67 L1411.86,797.62 L1413.13,796.6 L1414.4,795.61 L1415.67,794.63 L1416.94,793.68 L1418.21,792.75 L1419.48,791.84 L1420.75,790.96 L1422.02,790.09 L1423.28,789.26 L1424.55,788.44 L1425.82,787.64 L1427.09,786.87 L1428.36,786.12 L1429.63,785.4 L1430.9,784.69 L1432.17,784.01 L1433.44,783.35 L1434.71,782.72 L1435.98,782.1 L1437.25,781.51 L1438.52,780.94 L1439.79,780.4 L1441.06,779.87 L1442.33,779.37 L1443.6,778.89 L1444.87,778.44 L1446.14,778.01 L1447.41,777.6 L1448.67,777.21 L1449.94,776.84 L1451.21,776.5 L1452.48,776.18 L1453.75,775.88 L1455.02,775.61 L1456.29,775.36 L1457.56,775.13 L1458.83,774.92 L1460.1,774.73 L1461.37,774.57 L1462.64,774.43 L1463.91,774.32 L1465.18,774.22 L1466.45,774.15 L1467.72,774.1 L1468.99,774.08 L1469.83,774.07 L1470.26,774.07 L1471.53,774.09 L1472.8,774.13 L1474.07,774.2 L1475.33,774.28 L1476.6,774.39 L1477.87,774.52 L1479.14,774.68 L1480.41,774.86 L1481.68,775.05 L1482.95,775.28 L1484.22,775.52 L1485.49,775.79 L1486.76,776.08 L1488.03,776.39 L1489.3,776.73 L1490.57,777.08 L1491.84,777.46 L1493.11,777.87 L1494.38,778.29 L1495.65,778.74 L1496.92,779.21 L1498.19,779.7 L1499.45,780.22 L1500.72,780.76 L1501.99,781.32 L1503.26,781.9 L1504.53,782.51 L1505.8,783.14 L1507.07,783.79 L1508.34,784.46 L1509.61,785.16 L1510.88,785.88 L1512.15,786.62 L1513.42,787.38 L1514.69,788.17 L1515.96,788.98 L1517.23,789.81 L1518.5,790.67 L1519.77,791.54 L1521.04,792.44 L1522.31,793.37 L1523.58,794.31 L1524.85,795.28 L1526.11,796.27 L1527.38,797.28 L1528.65,798.32 L1529.92,799.37 L1531.19,800.46 L1532.46,801.56 L1533.73,802.68 L1535,803.83 L1536.27,805 L1537.54,806.2 L1538.81,807.41 L1540.08,808.65 L1541.35,809.91 L1542.62,811.2 L1543.89,812.5 L1545.16,813.83 L1546.43,815.18 L1547.7,816.56 L1548.97,817.95 L1550.24,819.37 L1551.5,820.82 L1552.77,822.28 L1554.04,823.77 L1555.31,825.28 L1556.58,826.81 L1557.85,828.36 L1559.12,829.94 L1560.39,831.54 L1561.66,833.16 L1562.93,834.81 L1564.2,836.48 L1565.47,838.17 L1566.74,839.88 L1568.01,841.62 L1569.28,843.37 L1570.55,845.15 L1571.82,846.96 L1573.09,848.78 L1574.36,850.63 L1575.62,852.5 L1576.89,854.4 L1578.16,856.31 L1579.43,858.25 L1580.7,860.21 L1581.97,862.2 L1583.24,864.2 L1584.51,866.23 L1585.78,868.28 L1587.05,870.36 L1588.32,872.46 L1589.59,874.58 L1590.86,876.72 L1592.13,878.88 L1593.4,881.07 L1594.67,883.28 L1595.94,885.51 L1597.21,887.77 L1598.48,890.05 L1599.75,892.35 L1601.02,894.67 L1602.28,897.01 L1603.55,899.38 L1604.82,901.77 L1606.09,904.19 L1607.36,906.62 L1608.63,909.08 L1609.9,911.56 L1611.17,914.06 L1612.44,916.59 L1613.71,919.14 L1614.98,921.71 L1616.25,924.3 L1617.52,926.92 L1618.79,929.56 L1620.06,932.22 L1621.33,934.91 L1622.6,937.61 L1623.87,940.34 L1625.14,943.09 L1626.41,945.87 L1627.67,948.67 L1628.94,951.49 L1630.21,954.33 L1631.48,957.19 L1632.75,960.08 L1634.02,962.99 L1635.29,965.92 L1636.56,968.88 L1637.83,971.86 L1639.1,974.86 L1640.37,977.88 L1641.64,980.93 L1642.91,983.99 L1644.18,987.09 L1645.45,990.2 L1646.72,993.33 L1647.99,996.49 L1649.26,999.67 L1650.53,1002.88 L1651.8,1006.1 L1653.06,1009.35 L1654.33,1012.63 L1655.6,1015.92 L1656.87,1019.24 L1658.14,1022.58 L1659.41,1025.94 L1660.68,1029.32 L1661.95,1032.73 L1663.22,1036.16 L1664.49,1039.61 L1665.76,1043.09 L1667.03,1046.58 L1668.3,1050.1 L1669.57,1053.65 L1670.84,1057.21 L1672.11,1060.8 L1673.38,1064.41 L1674.65,1068.04 L1675.92,1071.7 L1677.19,1075.38 L1678.45,1079.08 L1679.72,1082.8 L1680.99,1086.55 L1681.42,1087.8 L1682.26,1085.3 L1683.53,1081.56 L1684.8,1077.84 L1686.07,1074.15 L1687.34,1070.48 L1688.61,1066.83 L1689.88,1063.2 L1691.15,1059.6 L1692.42,1056.02 L1693.69,1052.46 L1694.96,1048.93 L1696.23,1045.42 L1697.5,1041.93 L1698.77,1038.46 L1700.04,1035.01 L1701.31,1031.59 L1702.58,1028.19 L1703.84,1024.81 L1705.11,1021.46 L1706.38,1018.13 L1707.65,1014.82 L1708.92,1011.53 L1710.19,1008.27 L1711.46,1005.03 L1712.73,1001.81 L1714,998.61 L1715.27,995.44 L1716.54,992.29 L1717.81,989.16 L1719.08,986.05 L1720.35,982.97 L1721.62,979.91 L1722.89,976.87 L1724.16,973.85 L1725.43,970.86 L1726.7,967.89 L1727.97,964.94 L1729.23,962.02 L1730.5,959.12 L1731.77,956.24 L1733.04,953.38 L1734.31,950.54 L1735.58,947.73 L1736.85,944.94 L1738.12,942.17 L1739.39,939.43 L1740.66,936.71 L1741.93,934.01 L1743.2,931.33 L1744.47,928.68 L1745.74,926.05 L1747.01,923.44 L1748.28,920.85 L1749.55,918.29 L1750.82,915.75 L1752.09,913.23 L1753.36,910.73 L1754.62,908.26 L1755.89,905.81 L1757.16,903.38 L1758.43,900.97 L1759.7,898.59 L1760.97,896.23 L1762.24,893.89 L1763.51,891.58 L1764.78,889.28 L1766.05,887.01 L1767.32,884.77 L1768.59,882.54 L1769.86,880.34 L1771.13,878.16 L1772.4,876 L1773.67,873.87 L1774.94,871.75 L1776.21,869.67 L1777.48,867.6 L1778.74,865.55 L1780.01,863.53 L1781.28,861.53 L1782.55,859.56 L1783.82,857.6 L1785.09,855.67 L1786.36,853.76 L1787.63,851.88 L1788.9,850.01 L1790.17,848.17 L1791.44,846.35 L1792.71,844.56 L1793.98,842.79 L1795.25,841.03 L1796.52,839.31 L1797.79,837.6 L1799.06,835.92 L1800.33,834.26 L1801.6,832.62 L1802.87,831.01 L1804.13,829.41 L1805.4,827.84 L1806.67,826.3 L1807.94,824.77 L1809.21,823.27 L1810.48,821.79 L1811.75,820.33 L1813.02,818.9 L1814.29,817.49 L1815.56,816.1 L1816.83,814.73 L1818.1,813.39 L1819.37,812.06 L1820.64,810.77 L1821.91,809.49 L1823.18,808.24 L1824.45,807 L1825.72,805.8 L1826.99,804.61 L1828.26,803.45 L1829.53,802.31 L1830.79,801.19 L1832.06,800.09 L1833.33,799.02 L1834.6,797.97 L1835.87,796.94 L1837.14,795.94 L1838.41,794.95 L1839.68,793.99 L1840.95,793.06 L1842.22,792.14 L1843.49,791.25 L1844.76,790.38 L1846.03,789.53 L1847.3,788.71 L1848.57,787.91 L1849.84,787.13 L1851.11,786.37 L1852.38,785.64 L1853.65,784.92 L1854.91,784.24 L1856.18,783.57 L1857.45,782.93 L1858.72,782.3 L1859.99,781.71 L1861.26,781.13 L1862.53,780.58 L1863.8,780.05 L1865.07,779.54 L1866.34,779.05 L1867.61,778.59 L1868.88,778.15 L1870.15,777.73 L1871.42,777.33 L1872.69,776.96 L1873.96,776.61 L1875.23,776.28 L1876.5,775.98 L1877.77,775.7 L1879.04,775.44 L1880.31,775.2 L1881.57,774.99 L1882.84,774.79 L1884.11,774.62 L1885.38,774.48 L1886.65,774.35 L1887.92,774.25 L1889.19,774.17 L1890.46,774.12 L1891.73,774.08 L1893,774.07 L1894.27,774.08 L1895.54,774.12 L1896.81,774.17 L1898.08,774.25 L1899.35,774.35 L1900.62,774.48 L1901.89,774.62 L1903.16,774.79 L1904.43,774.99 L1905.7,775.2 L1906.96,775.44 L1908.23,775.7 L1909.5,775.98 L1910.77,776.28 L1912.04,776.61 L1913.31,776.96 L1914.58,777.33 L1915.85,777.73 L1917.12,778.15 L1918.39,778.59 L1919.66,779.05 L1920.93,779.54 L1922.2,780.05 L1923.47,780.58 L1924.74,781.13 L1926.01,781.71 L1927.28,782.3 L1928.55,782.93 L1929.82,783.57 L1931.09,784.24 L1932.35,784.92 L1933.62,785.64 L1934.89,786.37 L1936.16,787.13 L1937.43,787.91 L1938.7,788.71 L1939.97,789.53 L1941.24,790.38 L1942.51,791.25 L1943.78,792.14 L1945.05,793.06 L1946.32,793.99 L1947.59,794.95 L1948.86,795.94 L1950.13,796.94 L1951.4,797.97 L1952.67,799.02 L1953.94,800.09 L1955.21,801.19 L1956.48,802.31 L1957.74,803.45 L1959.01,804.61 L1960.28,805.8 L1961.55,807 L1962.82,808.24 L1964.09,809.49 L1965.36,810.77 L1966.63,812.06 L1967.9,813.39 L1969.17,814.73 L1970.44,816.1 L1971.71,817.49 L1972.98,818.9 L1974.25,820.33 L1975.52,821.79 L1976.79,823.27 L1978.06,824.77 L1979.33,826.3 L1980.6,827.84 L1981.87,829.41 L1983.13,831.01 L1984.4,832.62 L1985.67,834.26 L1986.94,835.92 L1988.21,837.6 L1989.48,839.31 L1990.75,841.03 L1992.02,842.79 L1993.29,844.56 L1994.56,846.35 L1995.83,848.17 L1997.1,850.01 L1998.37,851.88 L1999.64,853.76 L2000.91,855.67 L2002.18,857.6 L2003.45,859.56 L2004.72,861.53 L2005.99,863.53 L2007.26,865.55 L2008.52,867.6 L2009.79,869.67 L2011.06,871.75 L2012.33,873.87 L2013.6,876 L2014.87,878.16 L2016.14,880.34 L2017.41,882.54 L2018.68,884.77 L2019.95,887.01 L2021.22,889.28 L2022.49,891.58 L2023.76,893.89 L2025.03,896.23 L2026.3,898.59 L2027.57,900.97 L2028.84,903.38 L2030.11,905.81 L2031.38,908.26 L2032.65,910.73 L2033.91,913.23 L2035.18,915.75 L2036.45,918.29 L2037.72,920.85 L2038.99,923.44 L2040.26,926.05 L2041.53,928.68 L2042.8,931.33 L2044.07,934.01 L2045.34,936.71 L2046.61,939.43 L2047.88,942.17 L2049.15,944.94 L2050.42,947.73 L2051.69,950.54 L2052.96,953.38 L2054.23,956.24 L2055.5,959.12 L2056.77,962.02 L2058.03,964.94 L2059.3,967.89 L2060.57,970.86 L2061.84,973.85 L2063.11,976.87 L2064.38,979.91 L2065.65,982.97 L2066.92,986.05 L2068.19,989.16 L2069.46,992.29 L2070.73,995.44 L2072,998.61 L2073.27,1001.81 L2074.54,1005.03 L2075.81,1008.27 L2077.08,1011.53 L2078.35,1014.82 L2079.62,1018.13 L2080.89,1021.46 L2082.16,1024.81 L2083.42,1028.19 L2084.69,1031.59 L2085.96,1035.01 L2087.23,1038.46 L2088.5,1041.93 L2089.77,1045.42 L2091.04,1048.93 L2092.31,1052.46 L2093.58,1056.02 L2094.85,1059.6 L2096.12,1063.2 L2097.39,1066.83 L2098.66,1070.48 L2099.93,1074.15 L2101.2,1077.84 L2102.47,1081.56 L2103.74,1085.3 L2104.58,1087.8 L2105.01,1086.55 L2106.28,1082.8 L2107.55,1079.08 L2108.81,1075.38 L2110.08,1071.7 L2111.35,1068.04 L2112.62,1064.41 L2113.89,1060.8 L2115.16,1057.21 L2116.43,1053.65 L2117.7,1050.1 L2118.97,1046.58 L2120.24,1043.09 L2121.51,1039.61 L2122.78,1036.16 L2124.05,1032.73 L2125.32,1029.32 L2126.59,1025.94 L2127.86,1022.58 L2129.13,1019.24 L2130.4,1015.92 L2131.67,1012.63 L2132.94,1009.35 L2134.2,1006.1 L2135.47,1002.88 L2136.74,999.67 L2138.01,996.49 L2139.28,993.33 L2140.55,990.2 L2141.82,987.09 L2143.09,983.99 L2144.36,980.93 L2145.63,977.88 L2146.9,974.86 L2148.17,971.86 L2149.44,968.88 L2150.71,965.92 L2151.98,962.99 L2153.25,960.08 L2154.52,957.19 L2155.79,954.33 L2157.06,951.49 L2158.33,948.67 L2159.59,945.87 L2160.86,943.09 L2162.13,940.34 L2163.4,937.61 L2164.67,934.91 L2165.94,932.22 L2167.21,929.56 L2168.48,926.92 L2169.75,924.3 L2171.02,921.71 L2172.29,919.14 L2173.56,916.59 L2174.83,914.06 L2176.1,911.56 L2177.37,909.08 L2178.64,906.62 L2179.91,904.19 L2181.18,901.77 L2182.45,899.38 L2183.72,897.01 L2184.98,894.67 L2186.25,892.35 L2187.52,890.05 L2188.79,887.77 L2190.06,885.51 L2191.33,883.28 L2192.6,881.07 L2193.87,878.88 L2195.14,876.72 L2196.41,874.58 L2197.68,872.46 L2198.95,870.36 L2200.22,868.28 L2201.49,866.23 L2202.76,864.2 L2204.03,862.2 L2205.3,860.21 L2206.57,858.25 L2207.84,856.31 L2209.11,854.4 L2210.38,852.5 L2211.64,850.63 L2212.91,848.78 L2214.18,846.96 L2215.45,845.15 L2216.72,843.37 L2217.99,841.62 L2219.26,839.88 L2220.53,838.17 L2221.8,836.48 L2223.07,834.81 L2224.34,833.16 L2225.61,831.54 L2226.88,829.94 L2228.15,828.36 L2229.42,826.81 L2230.69,825.28 L2231.96,823.77 L2233.23,822.28 L2234.5,820.82 L2235.76,819.37 L2237.03,817.95 L2238.3,816.56 L2239.57,815.18 L2240.84,813.83 L2242.11,812.5 L2243.38,811.2 L2244.65,809.91 L2245.92,808.65 L2247.19,807.41 L2248.46,806.2 L2249.73,805 L2251,803.83 L2252.27,802.68 L2253.54,801.56 L2254.81,800.46 L2256.08,799.37 L2257.35,798.32 L2258.62,797.28 L2259.89,796.27 L2261.15,795.28 L2262.42,794.31 L2263.69,793.37 L2264.96,792.44 L2266.23,791.54 L2267.5,790.67 L2268.77,789.81 L2270.04,788.98 L2271.31,788.17 L2272.58,787.38 L2273.85,786.62" stroke="#00FF00" stroke-width="11" fill="none" stroke-linejoin="round" stroke-linecap="round" shape-rendering="crispEdges"/>
<path d="M242.65,786.62 L243.92,787.38 L245.19,788.17 L246.46,788.98 L247.73,789.81 L249,790.67 L250.27,791.54 L251.54,792.44 L252.81,793.37 L254.08,794.31 L255.35,795.28 L256.61,796.27 L257.88,797.28 L259.15,798.32 L260.42,799.37 L261.69,800.46 L262.96,801.56 L264.23,802.68 L265.5,803.83 L266.77,805 L268.04,806.2 L269.31,807.41 L270.58,808.65 L271.85,809.91 L273.12,811.2 L274.39,812.5 L275.66,813.83 L276.93,815.18 L278.2,816.56 L279.47,817.95 L280.74,819.37 L282,820.82 L283.27,822.28 L284.54,823.77 L285.81,825.28 L287.08,826.81 L288.35,828.36 L289.62,829.94 L290.89,831.54 L292.16,833.16 L293.43,834.81 L294.7,836.48 L295.97,838.17 L297.24,839.88 L298.51,841.62 L299.78,843.37 L301.05,845.15 L302.32,846.96 L303.59,848.78 L304.86,850.63 L306.13,852.5 L307.39,854.4 L308.66,856.31 L309.93,858.25 L311.2,860.21 L312.47,862.2 L313.74,864.2 L315.01,866.23 L316.28,868.28 L317.55,870.36 L318.82,872.46 L320.09,874.58 L321.36,876.72 L322.63,878.88 L323.9,881.07 L325.17,883.28 L326.44,885.51 L327.71,887.77 L328.98,890.05 L330.25,892.35 L331.52,894.67 L332.78,897.01 L334.05,899.38 L335.32,901.77 L336.59,904.19 L337.86,906.62 L339.13,909.08 L340.4,911.56 L341.67,914.06 L342.94,916.59 L344.21,919.14 L345.48,921.71 L346.75,924.3 L348.02,926.92 L349.29,929.56 L350.56,932.22 L351.83,934.91 L353.1,937.61 L354.37,940.34 L355.64,943.09 L356.91,945.87 L358.17,948.67 L359.44,951.49 L360.71,954.33 L361.98,957.19 L363.25,960.08 L364.52,962.99 L365.79,965.92 L367.06,968.88 L368.33,971.86 L369.6,974.86 L370.87,977.88 L372.14,980.93 L373.41,983.99 L374.68,987.09 L375.95,990.2 L377.22,993.33 L378.49,996.49 L379.76,999.67 L381.03,1002.88 L382.3,1006.1 L383.56,1009.35 L384.83,1012.63 L386.1,1015.92 L387.37,1019.24 L388.64,1022.58 L389.91,1025.94 L391.18,1029.32 L392.45,1032.73 L393.72,1036.16 L394.99,1039.61 L396.26,1043.09 L397.53,1046.58 L398.8,1050.1 L400.07,1053.65 L401.34,1057.21 L402.61,1060.8 L403.88,1064.41 L405.15,1068.04 L406.42,1071.7 L407.69,1075.38 L408.95,1079.08 L410.22,1082.8 L411.49,1086.55 L411.92,1087.8 L412.76,1085.3 L414.03,1081.56 L415.3,1077.84 L416.57,1074.15 L417.84,1070.48 L419.11,1066.83 L420.38,1063.2 L421.65,1059.6 L422.92,1056.02 L424.19,1052.46 L425.46,1048.93 L426.73,1045.42 L428,1041.93 L429.27,1038.46 L430.54,1035.01 L431.81,1031.59 L433.08,1028.19 L434.34,1024.81 L435.61,1021.46 L436.88,1018.13 L438.15,1014.82 L439.42,1011.53 L440.69,1008.27 L441.96,1005.03 L443.23,1001.81 L444.5,998.61 L445.77,995.44 L447.04,992.29 L448.31,989.16 L449.58,986.05 L450.85,982.97 L452.12,979.91 L453.39,976.87 L454.66,973.85 L454.67,973.83 L455.93,976.97 L457.2,980.14 L458.47,983.33 L459.73,986.54 L461,989.77 L462.27,993.01 L463.54,996.28 L464.81,999.56 L466.08,1002.87 L467.35,1006.19 L468.62,1009.53 L469.89,1012.89 L471.16,1016.27 L472.43,1019.67 L473.7,1023.08 L474.97,1026.52 L476.24,1029.97 L477.51,1033.45 L478.78,1036.94 L480.05,1040.45 L481.32,1043.98 L482.59,1047.53 L483.86,1051.09 L485.12,1054.68 L486.39,1058.28 L487.66,1061.91 L488.93,1065.55 L490.2,1069.21 L491.47,1072.89 L492.74,1076.59 L494.01,1080.31 L495.28,1084.04 L496.55,1087.8 L497.82,1084.04 L499.09,1080.31 L500.36,1076.59 L501.63,1072.89 L502.9,1069.21 L504.17,1065.55 L505.44,1061.91 L506.71,1058.28 L507.98,1054.68 L509.25,1051.09 L510.51,1047.53 L511.78,1043.98 L513.05,1040.45 L514.32,1036.94 L515.59,1033.45 L516.86,1029.97 L518.13,1026.52 L519.4,1023.08 L520.67,1019.67 L521.94,1016.27 L523.21,1012.89 L524.48,1009.53 L525.75,1006.19 L527.02,1002.87 L528.29,999.56 L529.56,996.28 L530.83,993.01 L532.1,989.77 L533.37,986.54 L534.64,983.33 L535.9,980.14 L537.17,976.97 L538.44,973.81 L539.71,970.68 L540.98,967.56 L542.25,964.47 L543.52,961.39 L544.79,958.33 L546.06,955.29 L547.33,952.27 L548.6,949.27 L549.87,946.28 L551.14,943.32 L552.41,940.37 L553.68,937.45 L554.95,934.54 L556.22,931.65 L557.49,928.78 L558.76,925.93 L560.03,923.09 L561.05,920.82 L561.29,921.41 L562.56,924.44 L563.83,927.49 L565.1,930.55 L566.37,933.63 L567.64,936.73 L568.91,939.84 L570.18,942.96 L571.45,946.1 L572.72,949.26 L573.99,952.43 L575.26,955.61 L576.53,958.81 L577.8,962.03 L579.07,965.26 L580.34,968.5 L581.61,971.76 L582.88,975.04 L584.15,978.33 L585.42,981.63 L586.68,984.95 L587.95,988.29 L589.22,991.64 L590.49,995.01 L591.76,998.39 L593.03,1001.78 L594.3,1005.19 L595.57,1008.62 L596.84,1012.06 L598.11,1015.52 L599.38,1018.99 L600.65,1022.47 L601.92,1025.98 L603.19,1029.49 L604.46,1033.02 L605.73,1036.57 L607,1040.13 L608.27,1043.71 L609.54,1047.3 L610.81,1050.91 L612.07,1054.53 L613.34,1058.16 L614.61,1061.82 L615.88,1065.48 L617.15,1069.16 L618.42,1072.86 L619.69,1076.57 L620.96,1080.3 L622.23,1084.04 L623.5,1087.8 L624.77,1084.04 L626.04,1080.3 L627.31,1076.57 L628.58,1072.86 L629.85,1069.16 L631.12,1065.48 L632.39,1061.82 L633.66,1058.16 L634.93,1054.53 L636.2,1050.91 L637.46,1047.3 L638.73,1043.71 L640,1040.13 L641.27,1036.57 L642.54,1033.02 L643.81,1029.49 L645.08,1025.98 L646.35,1022.47 L647.62,1018.99 L648.89,1015.52 L650.16,1012.06 L651.43,1008.62 L652.7,1005.19 L653.97,1001.78 L655.24,998.39 L656.51,995.01 L657.78,991.64 L659.05,988.29 L660.32,984.95 L661.59,981.63 L662.85,978.33 L664.12,975.04 L665.39,971.76 L666.66,968.5 L667.93,965.26 L669.2,962.03 L670.47,958.81 L671.74,955.61 L673.01,952.43 L674.28,949.26 L675.55,946.1 L676.82,942.96 L678.09,939.84 L679.36,936.73 L680.63,933.63 L681.9,930.55 L683.17,927.49 L684.44,924.44 L685.71,921.41 L686.98,918.39 L688.24,915.38 L689.51,912.39 L690.78,909.42 L692.05,906.46 L693.32,903.52 L694.59,900.59 L695.86,897.67 L697.13,894.77 L698.4,891.89 L699.67,889.02 L700.94,886.17 L702.21,883.33 L703.48,880.51 L704.75,877.7 L706.02,874.9 L707.29,872.13 L708.56,869.36 L709.83,866.61 L711.1,863.88 L712.37,861.16 L713.63,858.46 L714.9,855.77 L716.17,853.1 L717.44,850.44 L718.71,847.8 L719.98,845.17 L721.25,842.56 L721.7,841.65 L722.52,842.79 L723.79,844.56 L725.06,846.35 L726.33,848.17 L727.6,850.01 L728.87,851.88 L730.14,853.76 L731.41,855.67 L732.68,857.6 L733.95,859.56 L735.22,861.53 L736.49,863.53 L737.75,865.55 L739.02,867.6 L740.29,869.67 L741.56,871.75 L742.83,873.87 L744.1,876 L745.37,878.16 L746.64,880.34 L747.91,882.54 L749.18,884.77 L750.45,887.01 L751.72,889.28 L752.99,891.58 L754.26,893.89 L755.53,896.23 L756.8,898.59 L758.07,900.97 L759.34,903.38 L760.61,905.81 L761.88,908.26 L763.15,910.73 L764.41,913.23 L765.68,915.75 L766.95,918.29 L768.22,920.85 L769.49,923.44 L770.76,926.05 L772.03,928.68 L773.3,931.33 L774.57,934.01 L775.84,936.71 L777.11,939.43 L778.38,942.17 L779.65,944.94 L780.92,947.73 L782.19,950.54 L783.46,953.38 L784.73,956.24 L786,959.12 L787.27,962.02 L788.54,964.94 L789.8,967.89 L791.07,970.86 L792.34,973.85 L793.61,976.87 L794.88,979.91 L796.15,982.97 L797.42,986.05 L798.69,989.16 L799.96,992.29 L801.23,995.44 L802.5,998.61 L803.77,1001.81 L805.04,1005.03 L806.31,1008.27 L807.58,1011.53 L808.85,1014.82 L810.12,1018.13 L811.39,1021.46 L812.66,1024.81 L813.93,1028.19 L815.19,1031.59 L816.46,1035.01 L817.73,1038.46 L819,1041.93 L820.27,1045.42 L821.54,1048.93 L822.81,1052.46 L824.08,1056.02 L825.35,1059.6 L826.62,1063.2 L827.89,1066.83 L829.16,1070.48 L830.43,1074.15 L831.7,1077.84 L832.97,1081.56 L834.24,1085.3 L835.08,1087.8 L835.51,1086.55 L836.78,1082.8 L838.05,1079.08 L839.32,1075.38 L840.58,1071.7 L841.85,1068.04 L843.12,1064.41 L844.39,1060.8 L845.66,1057.21 L846.93,1053.65 L848.2,1050.1 L849.47,1046.58 L850.74,1043.09 L852.01,1039.61 L853.28,1036.16 L854.55,1032.73 L855.82,1029.32 L857.09,1025.94 L858.36,1022.58 L859.63,1019.24 L860.9,1015.92 L862.17,1012.63 L863.44,1009.35 L864.71,1006.1 L865.97,1002.88 L867.24,999.67 L868.51,996.49 L869.78,993.33 L871.05,990.2 L872.32,987.09 L873.59,983.99 L874.86,980.93 L876.13,977.88 L877.4,974.86 L878.67,971.86 L879.94,968.88 L881.21,965.92 L882.48,962.99 L883.75,960.08 L885.02,957.19 L886.29,954.33 L887.56,951.49 L888.83,948.67 L890.1,945.87 L891.36,943.09 L892.63,940.34 L893.9,937.61 L895.17,934.91 L896.44,932.22 L897.71,929.56 L898.98,926.92 L900.25,924.3 L901.52,921.71 L902.79,919.14 L904.06,916.59 L905.33,914.06 L906.6,911.56 L907.87,909.08 L909.14,906.62 L910.41,904.19 L911.68,901.77 L912.95,899.38 L914.22,897.01 L915.49,894.67 L916.75,892.35 L918.02,890.05 L919.29,887.77 L920.56,885.51 L921.83,883.28 L921.95,883.08 L923.1,885.41 L924.37,887.98 L925.64,890.56 L926.91,893.17 L928.18,895.8 L929.45,898.44 L930.72,901.11 L931.99,903.79 L933.26,906.49 L934.53,909.21 L935.8,911.95 L937.07,914.71 L938.34,917.48 L939.61,920.28 L940.88,923.09 L942.14,925.93 L943.41,928.78 L944.68,931.65 L945.95,934.54 L947.22,937.45 L948.49,940.37 L949.76,943.32 L951.03,946.28 L952.3,949.27 L953.57,952.27 L954.84,955.29 L956.11,958.33 L957.38,961.39 L958.65,964.47 L959.92,967.56 L961.19,970.68 L962.46,973.81 L963.73,976.97 L965,980.14 L966.27,983.33 L967.53,986.54 L968.8,989.77 L970.07,993.01 L971.34,996.28 L972.61,999.56 L973.88,1002.87 L975.15,1006.19 L976.42,1009.53 L977.69,1012.89 L978.96,1016.27 L980.23,1019.67 L981.5,1023.08 L982.77,1026.52 L984.04,1029.97 L985.31,1033.45 L986.58,1036.94 L987.85,1040.45 L989.12,1043.98 L990.39,1047.53 L991.66,1051.09 L992.92,1054.68 L994.19,1058.28 L995.46,1061.91 L996.73,1065.55 L998,1069.21 L999.27,1072.89 L1000.54,1076.59 L1001.81,1080.31 L1003.08,1084.04 L1004.35,1087.8 L1005.62,1084.04 L1006.89,1080.31 L1008.16,1076.59 L1009.43,1072.89 L1010.7,1069.21 L1011.97,1065.55 L1013.24,1061.91 L1014.51,1058.28 L1015.78,1054.68 L1017.05,1051.09 L1018.31,1047.53 L1019.58,1043.98 L1020.85,1040.45 L1022.12,1036.94 L1023.39,1033.45 L1024.66,1029.97 L1025.93,1026.52 L1027.2,1023.08 L1028.47,1019.67 L1029.74,1016.27 L1031.01,1012.89 L1032.28,1009.53 L1033.55,1006.19 L1034.82,1002.87 L1036.09,999.56 L1037.36,996.28 L1038.63,993.01 L1039.9,989.77 L1041.17,986.54 L1042.43,983.33 L1043.7,980.14 L1044.97,976.97 L1046.24,973.81 L1047.51,970.68 L1048.78,967.56 L1050.05,964.47 L1051.32,961.39 L1052.59,958.33 L1053.86,955.29 L1055.13,952.27 L1056.4,949.27 L1057.67,946.28 L1058.94,943.32 L1060.21,940.37 L1061.48,937.45 L1062.75,934.54 L1064.02,931.65 L1065.29,928.78 L1066.56,925.93 L1067.83,923.09 L1069.09,920.28 L1070.36,917.48 L1071.63,914.71 L1072.9,911.95 L1074.17,909.21 L1075.44,906.49 L1076.71,903.79 L1077.98,901.11 L1079.25,898.44 L1080.52,895.8 L1081.79,893.17 L1083.06,890.56 L1084.33,887.98 L1085.6,885.41 L1086.87,882.86 L1088.14,880.32 L1089.41,877.81 L1090.68,875.32 L1091.95,872.84 L1093.22,870.39 L1094.48,867.95 L1095.75,865.53 L1097.02,863.13 L1098.29,860.75 L1099.56,858.39 L1100.83,856.04 L1102.1,853.72 L1103.37,851.41 L1104.64,849.12 L1105.91,846.86 L1107.18,844.61 L1108.45,842.38 L1109.72,840.16 L1110.99,837.97 L1112.26,835.8 L1113.53,833.64 L1114.8,831.51 L1116.07,829.39 L1117.34,827.29 L1118.61,825.21 L1119.87,823.15 L1121.14,821.11 L1122.41,819.08 L1123.68,817.08 L1124.23,816.23 L1124.95,817.02 L1126.22,818.42 L1127.49,819.85 L1128.76,821.3 L1130.03,822.77 L1131.3,824.27 L1132.57,825.78 L1133.84,827.32 L1135.11,828.89 L1136.38,830.47 L1137.65,832.08 L1138.92,833.71 L1140.19,835.36 L1141.46,837.04 L1142.73,838.74 L1144,840.46 L1145.26,842.2 L1146.53,843.96 L1147.8,845.75 L1149.07,847.56 L1150.34,849.4 L1151.61,851.25 L1152.88,853.13 L1154.15,855.03 L1155.42,856.96 L1156.69,858.9 L1157.96,860.87 L1159.23,862.86 L1160.5,864.88 L1161.77,866.91 L1163.04,868.97 L1164.31,871.06 L1165.58,873.16 L1166.85,875.29 L1168.12,877.44 L1169.39,879.61 L1170.65,881.8 L1171.92,884.02 L1173.19,886.26 L1174.46,888.52 L1175.73,890.81 L1177,893.12 L1178.27,895.45 L1179.54,897.8 L1180.81,900.18 L1182.08,902.57 L1183.35,905 L1184.62,907.44 L1185.89,909.9 L1187.16,912.39 L1188.43,914.9 L1189.7,917.44 L1190.97,919.99 L1192.24,922.57 L1193.51,925.17 L1194.78,927.8 L1196.04,930.44 L1197.31,933.11 L1198.58,935.81 L1199.85,938.52 L1201.12,941.26 L1202.39,944.02 L1203.66,946.8 L1204.93,949.6 L1206.2,952.43 L1207.47,955.28 L1208.74,958.15 L1210.01,961.05 L1211.28,963.97 L1212.55,966.91 L1213.82,969.87 L1215.09,972.85 L1216.36,975.86 L1217.63,978.89 L1218.9,981.95 L1220.16,985.02 L1221.43,988.12 L1222.7,991.24 L1223.97,994.39 L1225.24,997.55 L1226.51,1000.74 L1227.78,1003.95 L1229.05,1007.19 L1230.32,1010.44 L1231.59,1013.72 L1232.86,1017.02 L1234.13,1020.35 L1235.4,1023.69 L1236.67,1027.06 L1237.94,1030.46 L1239.21,1033.87 L1240.48,1037.31 L1241.75,1040.77 L1243.02,1044.25 L1244.29,1047.75 L1245.56,1051.28 L1246.82,1054.83 L1248.09,1058.4 L1249.36,1062 L1250.63,1065.62 L1251.9,1069.26 L1253.17,1072.92 L1254.44,1076.61 L1255.71,1080.32 L1256.98,1084.05 L1258.25,1087.8 L1259.52,1084.05 L1260.79,1080.32 L1262.06,1076.61 L1263.33,1072.92 L1264.6,1069.26 L1265.87,1065.62 L1267.14,1062 L1268.41,1058.4 L1269.68,1054.83 L1270.95,1051.28 L1272.21,1047.75 L1273.48,1044.25 L1274.75,1040.77 L1276.02,1037.31 L1277.29,1033.87 L1278.56,1030.46 L1279.83,1027.06 L1281.1,1023.69 L1282.37,1020.35 L1283.64,1017.02 L1284.91,1013.72 L1286.18,1010.44 L1287.45,1007.19 L1288.72,1003.95 L1289.99,1000.74 L1291.26,997.55 L1292.53,994.39 L1293.8,991.24 L1295.07,988.12 L1296.34,985.02 L1297.6,981.95 L1298.87,978.89 L1300.14,975.86 L1301.41,972.85 L1302.68,969.87 L1303.95,966.91 L1305.22,963.97 L1306.49,961.05 L1307.76,958.15 L1309.03,955.28 L1310.3,952.43 L1311.57,949.6 L1312.84,946.8 L1314.11,944.02 L1315.38,941.26 L1316.65,938.52 L1317.92,935.81 L1319.19,933.11 L1320.46,930.44 L1321.73,927.8 L1322.99,925.17 L1324.26,922.57 L1325.53,919.99 L1326.8,917.44 L1328.07,914.9 L1329.34,912.39 L1330.61,909.9 L1331.88,907.44 L1333.15,905 L1334.42,902.57 L1335.69,900.18 L1336.96,897.8 L1338.23,895.45 L1339.5,893.12 L1340.77,890.81 L1342.04,888.52 L1343.31,886.26 L1344.58,884.02 L1345.85,881.8 L1347.12,879.61 L1348.38,877.44 L1349.65,875.29 L1350.92,873.16 L1352.19,871.06 L1353.46,868.97 L1354.73,866.91 L1356,864.88 L1357.27,862.86 L1358.54,860.87 L1359.81,858.9 L1361.08,856.96 L1362.35,855.03 L1363.62,853.13 L1364.89,851.25 L1366.16,849.4 L1367.43,847.56 L1368.7,845.75 L1369.97,843.96 L1371.24,842.2 L1372.51,840.46 L1373.77,838.74 L1375.04,837.04 L1376.31,835.36 L1377.58,833.71 L1378.85,832.08 L1380.12,830.47 L1381.39,828.89 L1382.66,827.32 L1383.93,825.78 L1385.2,824.27 L1386.47,822.77 L1387.74,821.3 L1389.01,819.85 L1390.28,818.42 L1391.55,817.02 L1392.27,816.23 L1392.82,817.08 L1394.09,819.08 L1395.36,821.11 L1396.63,823.15 L1397.9,825.21 L1399.16,827.29 L1400.43,829.39 L1401.7,831.51 L1402.97,833.64 L1404.24,835.8 L1405.51,837.97 L1406.78,840.16 L1408.05,842.38 L1409.32,844.61 L1410.59,846.86 L1411.86,849.12 L1413.13,851.41 L1414.4,853.72 L1415.67,856.04 L1416.94,858.39 L1418.21,860.75 L1419.48,863.13 L1420.75,865.53 L1422.02,867.95 L1423.28,870.39 L1424.55,872.84 L1425.82,875.32 L1427.09,877.81 L1428.36,880.32 L1429.63,882.86 L1430.9,885.41 L1432.17,887.98 L1433.44,890.56 L1434.71,893.17 L1435.98,895.8 L1437.25,898.44 L1438.52,901.11 L1439.79,903.79 L1441.06,906.49 L1442.33,909.21 L1443.6,911.95 L1444.87,914.71 L1446.14,917.48 L1447.41,920.28 L1448.67,923.09 L1449.94,925.93 L1451.21,928.78 L1452.48,931.65 L1453.75,934.54 L1455.02,937.45 L1456.29,940.37 L1457.56,943.32 L1458.83,946.28 L1460.1,949.27 L1461.37,952.27 L1462.64,955.29 L1463.91,958.33 L1465.18,961.39 L1466.45,964.47 L1467.72,967.56 L1468.99,970.68 L1470.26,973.81 L1471.53,976.97 L1472.8,980.14 L1474.07,983.33 L1475.33,986.54 L1476.6,989.77 L1477.87,993.01 L1479.14,996.28 L1480.41,999.56 L1481.68,1002.87 L1482.95,1006.19 L1484.22,1009.53 L1485.49,1012.89 L1486.76,1016.27 L1488.03,1019.67 L1489.3,1023.08 L1490.57,1026.52 L1491.84,1029.97 L1493.11,1033.45 L1494.38,1036.94 L1495.65,1040.45 L1496.92,1043.98 L1498.19,1047.53 L1499.45,1051.09 L1500.72,1054.68 L1501.99,1058.28 L1503.26,1061.91 L1504.53,1065.55 L1505.8,1069.21 L1507.07,1072.89 L1508.34,1076.59 L1509.61,1080.31 L1510.88,1084.04 L1512.15,1087.8 L1513.42,1084.04 L1514.69,1080.31 L1515.96,1076.59 L1517.23,1072.89 L1518.5,1069.21 L1519.77,1065.55 L1521.04,1061.91 L1522.31,1058.28 L1523.58,1054.68 L1524.85,1051.09 L1526.11,1047.53 L1527.38,1043.98 L1528.65,1040.45 L1529.92,1036.94 L1531.19,1033.45 L1532.46,1029.97 L1533.73,1026.52 L1535,1023.08 L1536.27,1019.67 L1537.54,1016.27 L1538.81,1012.89 L1540.08,1009.53 L1541.35,1006.19 L1542.62,1002.87 L1543.89,999.56 L1545.16,996.28 L1546.43,993.01 L1547.7,989.77 L1548.97,986.54 L1550.24,983.33 L1551.5,980.14 L1552.77,976.97 L1554.04,973.81 L1555.31,970.68 L1556.58,967.56 L1557.85,964.47 L1559.12,961.39 L1560.39,958.33 L1561.66,955.29 L1562.93,952.27 L1564.2,949.27 L1565.47,946.28 L1566.74,943.32 L1568.01,940.37 L1569.28,937.45 L1570.55,934.54 L1571.82,931.65 L1573.09,928.78 L1574.36,925.93 L1575.62,923.09 L1576.89,920.28 L1578.16,917.48 L1579.43,914.71 L1580.7,911.95 L1581.97,909.21 L1583.24,906.49 L1584.51,903.79 L1585.78,901.11 L1587.05,898.44 L1588.32,895.8 L1589.59,893.17 L1590.86,890.56 L1592.13,887.98 L1593.4,885.41 L1594.55,883.08 L1594.67,883.28 L1595.94,885.51 L1597.21,887.77 L1598.48,890.05 L1599.75,892.35 L1601.02,894.67 L1602.28,897.01 L1603.55,899.38 L1604.82,901.77 L1606.09,904.19 L1607.36,906.62 L1608.63,909.08 L1609.9,911.56 L1611.17,914.06 L1612.44,916.59 L1613.71,919.14 L1614.98,921.71 L1616.25,924.3 L1617.52,926.92 L1618.79,929.56 L1620.06,932.22 L1621.33,934.91 L1622.6,937.61 L1623.87,940.34 L1625.14,943.09 L1626.41,945.87 L1627.67,948.67 L1628.94,951.49 L1630.21,954.33 L1631.48,957.19 L1632.75,960.08 L1634.02,962.99 L1635.29,965.92 L1636.56,968.88 L1637.83,971.86 L1639.1,974.86 L1640.37,977.88 L1641.64,980.93 L1642.91,983.99 L1644.18,987.09 L1645.45,990.2 L1646.72,993.33 L1647.99,996.49 L1649.26,999.67 L1650.53,1002.88 L1651.8,1006.1 L1653.06,1009.35 L1654.33,1012.63 L1655.6,1015.92 L1656.87,1019.24 L1658.14,1022.58 L1659.41,1025.94 L1660.68,1029.32 L1661.95,1032.73 L1663.22,1036.16 L1664.49,1039.61 L1665.76,1043.09 L1667.03,1046.58 L1668.3,1050.1 L1669.57,1053.65 L1670.84,1057.21 L1672.11,1060.8 L1673.38,1064.41 L1674.65,1068.04 L1675.92,1071.7 L1677.19,1075.38 L1678.45,1079.08 L1679.72,1082.8 L1680.99,1086.55 L1681.42,1087.8 L1682.26,1085.3 L1683.53,1081.56 L1684.8,1077.84 L1686.07,1074.15 L1687.34,1070.48 L1688.61,1066.83 L1689.88,1063.2 L1691.15,1059.6 L1692.42,1056.02 L1693.69,1052.46 L1694.96,1048.93 L1696.23,1045.42 L1697.5,1041.93 L1698.77,1038.46 L1700.04,1035.01 L1701.31,1031.59 L1702.58,1028.19 L1703.84,1024.81 L1705.11,1021.46 L1706.38,1018.13 L1707.65,1014.82 L1708.92,1011.53 L1710.19,1008.27 L1711.46,1005.03 L1712.73,1001.81 L1714,998.61 L1715.27,995.44 L1716.54,992.29 L1717.81,989.16 L1719.08,986.05 L1720.35,982.97 L1721.62,979.91 L1722.89,976.87 L1724.16,973.85 L1725.43,970.86 L1726.7,967.89 L1727.97,964.94 L1729.23,962.02 L1730.5,959.12 L1731.77,956.24 L1733.04,953.38 L1734.31,950.54 L1735.58,947.73 L1736.85,944.94 L1738.12,942.17 L1739.39,939.43 L1740.66,936.71 L1741.93,934.01 L1743.2,931.33 L1744.47,928.68 L1745.74,926.05 L1747.01,923.44 L1748.28,920.85 L1749.55,918.29 L1750.82,915.75 L1752.09,913.23 L1753.36,910.73 L1754.62,908.26 L1755.89,905.81 L1757.16,903.38 L1758.43,900.97 L1759.7,898.59 L1760.97,896.23 L1762.24,893.89 L1763.51,891.58 L1764.78,889.28 L1766.05,887.01 L1767.32,884.77 L1768.59,882.54 L1769.86,880.34 L1771.13,878.16 L1772.4,876 L1773.67,873.87 L1774.94,871.75 L1776.21,869.67 L1777.48,867.6 L1778.74,865.55 L1780.01,863.53 L1781.28,861.53 L1782.55,859.56 L1783.82,857.6 L1785.09,855.67 L1786.36,853.76 L1787.63,851.88 L1788.9,850.01 L1790.17,848.17 L1791.44,846.35 L1792.71,844.56 L1793.98,842.79 L1794.8,841.65 L1795.25,842.56 L1796.52,845.17 L1797.79,847.8 L1799.06,850.44 L1800.33,853.1 L1801.6,855.77 L1802.87,858.46 L1804.13,861.16 L1805.4,863.88 L1806.67,866.61 L1807.94,869.36 L1809.21,872.13 L1810.48,874.9 L1811.75,877.7 L1813.02,880.51 L1814.29,883.33 L1815.56,886.17 L1816.83,889.02 L1818.1,891.89 L1819.37,894.77 L1820.64,897.67 L1821.91,900.59 L1823.18,903.52 L1824.45,906.46 L1825.72,909.42 L1826.99,912.39 L1828.26,915.38 L1829.53,918.39 L1830.79,921.41 L1832.06,924.44 L1833.33,927.49 L1834.6,930.55 L1835.87,933.63 L1837.14,936.73 L1838.41,939.84 L1839.68,942.96 L1840.95,946.1 L1842.22,949.26 L1843.49,952.43 L1844.76,955.61 L1846.03,958.81 L1847.3,962.03 L1848.57,965.26 L1849.84,968.5 L1851.11,971.76 L1852.38,975.04 L1853.65,978.33 L1854.91,981.63 L1856.18,984.95 L1857.45,988.29 L1858.72,991.64 L1859.99,995.01 L1861.26,998.39 L1862.53,1001.78 L1863.8,1005.19 L1865.07,1008.62 L1866.34,1012.06 L1867.61,1015.52 L1868.88,1018.99 L1870.15,1022.47 L1871.42,1025.98 L1872.69,1029.49 L1873.96,1033.02 L1875.23,1036.57 L1876.5,1040.13 L1877.77,1043.71 L1879.04,1047.3 L1880.31,1050.91 L1881.57,1054.53 L1882.84,1058.16 L1884.11,1061.82 L1885.38,1065.48 L1886.65,1069.16 L1887.92,1072.86 L1889.19,1076.57 L1890.46,1080.3 L1891.73,1084.04 L1893,1087.8 L1894.27,1084.04 L1895.54,1080.3 L1896.81,1076.57 L1898.08,1072.86 L1899.35,1069.16 L1900.62,1065.48 L1901.89,1061.82 L1903.16,1058.16 L1904.43,1054.53 L1905.7,1050.91 L1906.96,1047.3 L1908.23,1043.71 L1909.5,1040.13 L1910.77,1036.57 L1912.04,1033.02 L1913.31,1029.49 L1914.58,1025.98 L1915.85,1022.47 L1917.12,1018.99 L1918.39,1015.52 L1919.66,1012.06 L1920.93,1008.62 L1922.2,1005.19 L1923.47,1001.78 L1924.74,998.39 L1926.01,995.01 L1927.28,991.64 L1928.55,988.29 L1929.82,984.95 L1931.09,981.63 L1932.35,978.33 L1933.62,975.04 L1934.89,971.76 L1936.16,968.5 L1937.43,965.26 L1938.7,962.03 L1939.97,958.81 L1941.24,955.61 L1942.51,952.43 L1943.78,949.26 L1945.05,946.1 L1946.32,942.96 L1947.59,939.84 L1948.86,936.73 L1950.13,933.63 L1951.4,930.55 L1952.67,927.49 L1953.94,924.44 L1955.21,921.41 L1955.45,920.82 L1956.48,923.09 L1957.74,925.93 L1959.01,928.78 L1960.28,931.65 L1961.55,934.54 L1962.82,937.45 L1964.09,940.37 L1965.36,943.32 L1966.63,946.28 L1967.9,949.27 L1969.17,952.27 L1970.44,955.29 L1971.71,958.33 L1972.98,961.39 L1974.25,964.47 L1975.52,967.56 L1976.79,970.68 L1978.06,973.81 L1979.33,976.97 L1980.6,980.14 L1981.87,983.33 L1983.13,986.54 L1984.4,989.77 L1985.67,993.01 L1986.94,996.28 L1988.21,999.56 L1989.48,1002.87 L1990.75,1006.19 L1992.02,1009.53 L1993.29,1012.89 L1994.56,1016.27 L1995.83,1019.67 L1997.1,1023.08 L1998.37,1026.52 L1999.64,1029.97 L2000.91,1033.45 L2002.18,1036.94 L2003.45,1040.45 L2004.72,1043.98 L2005.99,1047.53 L2007.26,1051.09 L2008.52,1054.68 L2009.79,1058.28 L2011.06,1061.91 L2012.33,1065.55 L2013.6,1069.21 L2014.87,1072.89 L2016.14,1076.59 L2017.41,1080.31 L2018.68,1084.04 L2019.95,1087.8 L2021.22,1084.04 L2022.49,1080.31 L2023.76,1076.59 L2025.03,1072.89 L2026.3,1069.21 L2027.57,1065.55 L2028.84,1061.91 L2030.11,1058.28 L2031.38,1054.68 L2032.65,1051.09 L2033.91,1047.53 L2035.18,1043.98 L2036.45,1040.45 L2037.72,1036.94 L2038.99,1033.45 L2040.26,1029.97 L2041.53,1026.52 L2042.8,1023.08 L2044.07,1019.67 L2045.34,1016.27 L2046.61,1012.89 L2047.88,1009.53 L2049.15,1006.19 L2050.42,1002.87 L2051.69,999.56 L2052.96,996.28 L2054.23,993.01 L2055.5,989.77 L2056.77,986.54 L2058.03,983.33 L2059.3,980.14 L2060.57,976.97 L2061.83,973.83 L2061.84,973.85 L2063.11,976.87 L2064.38,979.91 L2065.65,982.97 L2066.92,986.05 L2068.19,989.16 L2069.46,992.29 L2070.73,995.44 L2072,998.61 L2073.27,1001.81 L2074.54,1005.03 L2075.81,1008.27 L2077.08,1011.53 L2078.35,1014.82 L2079.62,1018.13 L2080.89,1021.46 L2082.16,1024.81 L2083.42,1028.19 L2084.69,1031.59 L2085.96,1035.01 L2087.23,1038.46 L2088.5,1041.93 L2089.77,1045.42 L2091.04,1048.93 L2092.31,1052.46 L2093.58,1056.02 L2094.85,1059.6 L2096.12,1063.2 L2097.39,1066.83 L2098.66,1070.48 L2099.93,1074.15 L2101.2,1077.84 L2102.47,1081.56 L2103.74,1085.3 L2104.58,1087.8 L2105.01,1086.55 L2106.28,1082.8 L2107.55,1079.08 L2108.81,1075.38 L2110.08,1071.7 L2111.35,1068.04 L2112.62,1064.41 L2113.89,1060.8 L2115.16,1057.21 L2116.43,1053.65 L2117.7,1050.1 L2118.97,1046.58 L2120.24,1043.09 L2121.51,1039.61 L2122.78,1036.16 L2124.05,1032.73 L2125.32,1029.32 L2126.59,1025.94 L2127.86,1022.58 L2129.13,1019.24 L2130.4,1015.92 L2131.67,1012.63 L2132.94,1009.35 L2134.2,1006.1 L2135.47,1002.88 L2136.74,999.67 L2138.01,996.49 L2139.28,993.33 L2140.55,990.2 L2141.82,987.09 L2143.09,983.99 L2144.36,980.93 L2145.63,977.88 L2146.9,974.86 L2148.17,971.86 L2149.44,968.88 L2150.71,965.92 L2151.98,962.99 L2153.25,960.08 L2154.52,957.19 L2155.79,954.33 L2157.06,951.49 L2158.33,948.67 L2159.59,945.87 L2160.86,943.09 L2162.13,940.34 L2163.4,937.61 L2164.67,934.91 L2165.94,932.22 L2167.21,929.56 L2168.48,926.92 L2169.75,924.3 L2171.02,921.71 L2172.29,919.14 L2173.56,916.59 L2174.83,914.06 L2176.1,911.56 L2177.37,909.08 L2178.64,906.62 L2179.91,904.19 L2181.18,901.77 L2182.45,899.38 L2183.72,897.01 L2184.98,894.67 L2186.25,892.35 L2187.52,890.05 L2188.79,887.77 L2190.06,885.51 L2191.33,883.28 L2192.6,881.07 L2193.87,878.88 L2195.14,876.72 L2196.41,874.58 L2197.68,872.46 L2198.95,870.36 L2200.22,868.28 L2201.49,866.23 L2202.76,864.2 L2204.03,862.2 L2205.3,860.21 L2206.57,858.25 L2207.84,856.31 L2209.11,854.4 L2210.38,852.5 L2211.64,850.63 L2212.91,848.78 L2214.18,846.96 L2215.45,845.15 L2216.72,843.37 L2217.99,841.62 L2219.26,839.88 L2220.53,838.17 L2221.8,836.48 L2223.07,834.81 L2224.34,833.16 L2225.61,831.54 L2226.88,829.94 L2228.15,828.36 L2229.42,826.81 L2230.69,825.28 L2231.96,823.77 L2233.23,822.28 L2234.5,820.82 L2235.76,819.37 L2237.03,817.95 L2238.3,816.56 L2239.57,815.18 L2240.84,813.83 L2242.11,812.5 L2243.38,811.2 L2244.65,809.91 L2245.92,808.65 L2247.19,807.41 L2248.46,806.2 L2249.73,805 L2251,803.83 L2252.27,802.68 L2253.54,801.56 L2254.81,800.46 L2256.08,799.37 L2257.35,798.32 L2258.62,797.28 L2259.89,796.27 L2261.15,795.28 L2262.42,794.31 L2263.69,793.37 L2264.96,792.44 L2266.23,791.54 L2267.5,790.67 L2268.77,789.81 L2270.04,788.98 L2271.31,788.17 L2272.58,787.38 L2273.85,786.62" stroke="#7E2AA4" stroke-width="18" fill="none" stroke-linejoin="round" stroke-linecap="round" shape-rendering="crispEdges"/>
<circle cx="561.3" cy="922.4" r="5" fill="#212121"/>
<circle cx="721.5" cy="842" r="5" fill="#212121"/>
<circle cx="922" cy="882.9" r="5" fill="#212121"/>
<circle cx="1125.9" cy="818" r="5" fill="#212121"/>
<circle cx="1393" cy="816.9" r="5" fill="#212121"/>
<circle cx="1594.9" cy="883.9" r="5" fill="#212121"/>
<circle cx="1794.9" cy="841.9" r="5" fill="#212121"/>
<circle cx="1956" cy="921" r="5" fill="#212121"/>
<circle cx="2063" cy="976" r="5" fill="#212121"/>
<rect x="1013" y="69.7" width="79.6" height="11.8" rx="3.5" fill="#7E2AA4"/>
<text x="1100.4" y="97.8" font-size="66" fill="#000" letter-spacing="0.98">Minimum current ripple</text>
<rect x="1013" y="121.77" width="79.6" height="11.8" rx="3.5" fill="#0000FF"/>
<text x="1105" y="149.87" font-size="66" fill="#000" letter-spacing="1.4"><tspan font-style="italic">N</tspan>=2</text>
<rect x="1013" y="173.84" width="79.6" height="11.8" rx="3.5" fill="#FF0000"/>
<text x="1105" y="201.94" font-size="66" fill="#000" letter-spacing="1.4"><tspan font-style="italic">N</tspan>=3</text>
<rect x="1013" y="225.91" width="79.6" height="11.8" rx="3.5" fill="#FFB000"/>
<text x="1105" y="254.01" font-size="66" fill="#000" letter-spacing="1.4"><tspan font-style="italic">N</tspan>=4</text>
<rect x="1013" y="277.98" width="79.6" height="11.8" rx="3.5" fill="#FF00FF"/>
<text x="1105" y="306.08" font-size="66" fill="#000" letter-spacing="1.4"><tspan font-style="italic">N</tspan>=5</text>
<rect x="1013" y="330.05" width="79.6" height="11.8" rx="3.5" fill="#00FF00"/>
<text x="1105" y="358.15" font-size="66" fill="#000" letter-spacing="1.4"><tspan font-style="italic">N</tspan>=6</text>
<text transform="translate(193.5,1115.2) scale(1,1.05)" font-size="66" fill="#404040" text-anchor="end">0</text>
<text transform="translate(221,966.21) scale(1,1.05)" font-size="66" fill="#404040" text-anchor="end" letter-spacing="0.6">0.02</text>
<text transform="translate(221,815.62) scale(1,1.05)" font-size="66" fill="#404040" text-anchor="end" letter-spacing="0.6">0.04</text>
<text transform="translate(221,665.03) scale(1,1.05)" font-size="66" fill="#404040" text-anchor="end" letter-spacing="0.6">0.06</text>
<text transform="translate(221,514.44) scale(1,1.05)" font-size="66" fill="#404040" text-anchor="end" letter-spacing="0.6">0.08</text>
<text transform="translate(221,363.85) scale(1,1.05)" font-size="66" fill="#404040" text-anchor="end" letter-spacing="0.6">0.10</text>
<text transform="translate(221,213.26) scale(1,1.05)" font-size="66" fill="#404040" text-anchor="end" letter-spacing="0.6">0.12</text>
<text transform="translate(221,62.67) scale(1,1.05)" font-size="66" fill="#404040" text-anchor="end" letter-spacing="0.6">0.14</text>
<text transform="translate(253.65,1158.3) scale(1,1.05)" font-size="66" fill="#404040" text-anchor="middle">0.1</text>
<text transform="translate(507.55,1158.3) scale(1,1.05)" font-size="66" fill="#404040" text-anchor="middle">0.2</text>
<text transform="translate(761.45,1158.3) scale(1,1.05)" font-size="66" fill="#404040" text-anchor="middle">0.3</text>
<text transform="translate(1015.35,1158.3) scale(1,1.05)" font-size="66" fill="#404040" text-anchor="middle">0.4</text>
<text transform="translate(1269.25,1158.3) scale(1,1.05)" font-size="66" fill="#404040" text-anchor="middle">0.5</text>
<text transform="translate(1523.15,1158.3) scale(1,1.05)" font-size="66" fill="#404040" text-anchor="middle">0.6</text>
<text transform="translate(1777.05,1158.3) scale(1,1.05)" font-size="66" fill="#404040" text-anchor="middle">0.7</text>
<text transform="translate(2030.95,1158.3) scale(1,1.05)" font-size="66" fill="#404040" text-anchor="middle">0.8</text>
<text x="1105" y="1215" font-size="66" fill="#000" letter-spacing="1.15">Duty ratio(<tspan font-style="italic">D</tspan>)</text>
<text transform="translate(73.7,891) rotate(-90)" font-size="66" fill="#000" letter-spacing="0.9">The ripple coefficient(<tspan font-style="italic">k</tspan><tspan font-size="44" dy="10">Lm</tspan><tspan dy="-10">)</tspan></text>
</svg></body></html>
